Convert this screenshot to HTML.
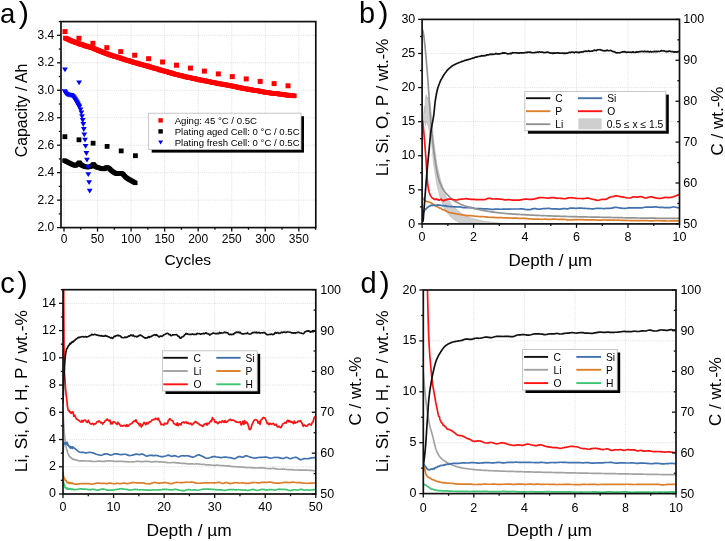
<!DOCTYPE html>
<html><head><meta charset="utf-8"><title>Figure</title>
<style>html,body{margin:0;padding:0;background:#fff;width:725px;height:541px;overflow:hidden}
svg{display:block;will-change:transform}</style></head>
<body>
<svg width="725" height="541" viewBox="0 0 725 541" font-family='"Liberation Sans", sans-serif'>
<rect width="725" height="541" fill="#fff"/>
<defs>
<clipPath id="ca"><rect x="61" y="21.6" width="254.8" height="206"/></clipPath>
</defs>
<line x1="64" y1="21.6" x2="64" y2="227.6" stroke="#d9d9d9" stroke-width="0.9" stroke-dasharray="1,1.2"/>
<line x1="97.55" y1="21.6" x2="97.55" y2="227.6" stroke="#d9d9d9" stroke-width="0.9" stroke-dasharray="1,1.2"/>
<line x1="131.09" y1="21.6" x2="131.09" y2="227.6" stroke="#d9d9d9" stroke-width="0.9" stroke-dasharray="1,1.2"/>
<line x1="164.64" y1="21.6" x2="164.64" y2="227.6" stroke="#d9d9d9" stroke-width="0.9" stroke-dasharray="1,1.2"/>
<line x1="198.19" y1="21.6" x2="198.19" y2="227.6" stroke="#d9d9d9" stroke-width="0.9" stroke-dasharray="1,1.2"/>
<line x1="231.73" y1="21.6" x2="231.73" y2="227.6" stroke="#d9d9d9" stroke-width="0.9" stroke-dasharray="1,1.2"/>
<line x1="265.28" y1="21.6" x2="265.28" y2="227.6" stroke="#d9d9d9" stroke-width="0.9" stroke-dasharray="1,1.2"/>
<line x1="298.83" y1="21.6" x2="298.83" y2="227.6" stroke="#d9d9d9" stroke-width="0.9" stroke-dasharray="1,1.2"/>
<line x1="61" y1="200.13" x2="315.8" y2="200.13" stroke="#d9d9d9" stroke-width="0.9" stroke-dasharray="1,1.2"/>
<line x1="61" y1="172.67" x2="315.8" y2="172.67" stroke="#d9d9d9" stroke-width="0.9" stroke-dasharray="1,1.2"/>
<line x1="61" y1="145.2" x2="315.8" y2="145.2" stroke="#d9d9d9" stroke-width="0.9" stroke-dasharray="1,1.2"/>
<line x1="61" y1="117.73" x2="315.8" y2="117.73" stroke="#d9d9d9" stroke-width="0.9" stroke-dasharray="1,1.2"/>
<line x1="61" y1="90.27" x2="315.8" y2="90.27" stroke="#d9d9d9" stroke-width="0.9" stroke-dasharray="1,1.2"/>
<line x1="61" y1="62.8" x2="315.8" y2="62.8" stroke="#d9d9d9" stroke-width="0.9" stroke-dasharray="1,1.2"/>
<line x1="61" y1="35.33" x2="315.8" y2="35.33" stroke="#d9d9d9" stroke-width="0.9" stroke-dasharray="1,1.2"/>
<rect x="63.1" y="35.85" width="4.4" height="4.4" fill="#ff0000"/>
<rect x="63.77" y="36.25" width="4.4" height="4.4" fill="#ff0000"/>
<rect x="64.44" y="36.51" width="4.4" height="4.4" fill="#ff0000"/>
<rect x="65.11" y="36.58" width="4.4" height="4.4" fill="#ff0000"/>
<rect x="65.78" y="37.23" width="4.4" height="4.4" fill="#ff0000"/>
<rect x="66.45" y="37.47" width="4.4" height="4.4" fill="#ff0000"/>
<rect x="67.12" y="37.63" width="4.4" height="4.4" fill="#ff0000"/>
<rect x="67.79" y="38.1" width="4.4" height="4.4" fill="#ff0000"/>
<rect x="68.46" y="38.36" width="4.4" height="4.4" fill="#ff0000"/>
<rect x="69.13" y="38.63" width="4.4" height="4.4" fill="#ff0000"/>
<rect x="69.8" y="38.87" width="4.4" height="4.4" fill="#ff0000"/>
<rect x="70.47" y="39.22" width="4.4" height="4.4" fill="#ff0000"/>
<rect x="71.14" y="39.29" width="4.4" height="4.4" fill="#ff0000"/>
<rect x="71.81" y="39.64" width="4.4" height="4.4" fill="#ff0000"/>
<rect x="72.48" y="39.85" width="4.4" height="4.4" fill="#ff0000"/>
<rect x="73.15" y="40.26" width="4.4" height="4.4" fill="#ff0000"/>
<rect x="73.82" y="40.43" width="4.4" height="4.4" fill="#ff0000"/>
<rect x="74.49" y="40.62" width="4.4" height="4.4" fill="#ff0000"/>
<rect x="75.16" y="40.79" width="4.4" height="4.4" fill="#ff0000"/>
<rect x="75.83" y="41.11" width="4.4" height="4.4" fill="#ff0000"/>
<rect x="76.5" y="41.39" width="4.4" height="4.4" fill="#ff0000"/>
<rect x="77.17" y="41.58" width="4.4" height="4.4" fill="#ff0000"/>
<rect x="77.84" y="42.05" width="4.4" height="4.4" fill="#ff0000"/>
<rect x="78.51" y="42.24" width="4.4" height="4.4" fill="#ff0000"/>
<rect x="79.18" y="41.9" width="4.4" height="4.4" fill="#ff0000"/>
<rect x="79.85" y="42.24" width="4.4" height="4.4" fill="#ff0000"/>
<rect x="80.52" y="42.72" width="4.4" height="4.4" fill="#ff0000"/>
<rect x="81.19" y="42.89" width="4.4" height="4.4" fill="#ff0000"/>
<rect x="81.86" y="43.2" width="4.4" height="4.4" fill="#ff0000"/>
<rect x="82.53" y="43.41" width="4.4" height="4.4" fill="#ff0000"/>
<rect x="83.2" y="43.9" width="4.4" height="4.4" fill="#ff0000"/>
<rect x="83.87" y="43.63" width="4.4" height="4.4" fill="#ff0000"/>
<rect x="84.54" y="43.95" width="4.4" height="4.4" fill="#ff0000"/>
<rect x="85.21" y="44.52" width="4.4" height="4.4" fill="#ff0000"/>
<rect x="85.88" y="44.52" width="4.4" height="4.4" fill="#ff0000"/>
<rect x="86.55" y="44.74" width="4.4" height="4.4" fill="#ff0000"/>
<rect x="87.22" y="44.78" width="4.4" height="4.4" fill="#ff0000"/>
<rect x="87.89" y="44.82" width="4.4" height="4.4" fill="#ff0000"/>
<rect x="88.56" y="45.32" width="4.4" height="4.4" fill="#ff0000"/>
<rect x="89.23" y="45.54" width="4.4" height="4.4" fill="#ff0000"/>
<rect x="89.9" y="45.57" width="4.4" height="4.4" fill="#ff0000"/>
<rect x="90.57" y="45.89" width="4.4" height="4.4" fill="#ff0000"/>
<rect x="91.24" y="46.22" width="4.4" height="4.4" fill="#ff0000"/>
<rect x="91.91" y="46.34" width="4.4" height="4.4" fill="#ff0000"/>
<rect x="92.58" y="46.73" width="4.4" height="4.4" fill="#ff0000"/>
<rect x="93.25" y="47.02" width="4.4" height="4.4" fill="#ff0000"/>
<rect x="93.92" y="47.28" width="4.4" height="4.4" fill="#ff0000"/>
<rect x="94.59" y="47.47" width="4.4" height="4.4" fill="#ff0000"/>
<rect x="95.26" y="47.91" width="4.4" height="4.4" fill="#ff0000"/>
<rect x="95.93" y="48.23" width="4.4" height="4.4" fill="#ff0000"/>
<rect x="96.6" y="48.43" width="4.4" height="4.4" fill="#ff0000"/>
<rect x="97.27" y="48.54" width="4.4" height="4.4" fill="#ff0000"/>
<rect x="97.94" y="49.06" width="4.4" height="4.4" fill="#ff0000"/>
<rect x="98.61" y="49.15" width="4.4" height="4.4" fill="#ff0000"/>
<rect x="99.28" y="49.64" width="4.4" height="4.4" fill="#ff0000"/>
<rect x="99.95" y="49.63" width="4.4" height="4.4" fill="#ff0000"/>
<rect x="100.62" y="50.2" width="4.4" height="4.4" fill="#ff0000"/>
<rect x="101.29" y="50.34" width="4.4" height="4.4" fill="#ff0000"/>
<rect x="101.96" y="50.42" width="4.4" height="4.4" fill="#ff0000"/>
<rect x="102.63" y="50.83" width="4.4" height="4.4" fill="#ff0000"/>
<rect x="103.3" y="51.14" width="4.4" height="4.4" fill="#ff0000"/>
<rect x="103.97" y="51.43" width="4.4" height="4.4" fill="#ff0000"/>
<rect x="104.64" y="51.49" width="4.4" height="4.4" fill="#ff0000"/>
<rect x="105.31" y="51.71" width="4.4" height="4.4" fill="#ff0000"/>
<rect x="105.98" y="52.14" width="4.4" height="4.4" fill="#ff0000"/>
<rect x="106.65" y="52.27" width="4.4" height="4.4" fill="#ff0000"/>
<rect x="107.32" y="52.6" width="4.4" height="4.4" fill="#ff0000"/>
<rect x="107.99" y="52.9" width="4.4" height="4.4" fill="#ff0000"/>
<rect x="108.66" y="52.76" width="4.4" height="4.4" fill="#ff0000"/>
<rect x="109.33" y="53.26" width="4.4" height="4.4" fill="#ff0000"/>
<rect x="110" y="53.62" width="4.4" height="4.4" fill="#ff0000"/>
<rect x="110.67" y="53.6" width="4.4" height="4.4" fill="#ff0000"/>
<rect x="111.34" y="53.74" width="4.4" height="4.4" fill="#ff0000"/>
<rect x="112.01" y="54.18" width="4.4" height="4.4" fill="#ff0000"/>
<rect x="112.68" y="54.31" width="4.4" height="4.4" fill="#ff0000"/>
<rect x="113.35" y="54.62" width="4.4" height="4.4" fill="#ff0000"/>
<rect x="114.02" y="54.64" width="4.4" height="4.4" fill="#ff0000"/>
<rect x="114.69" y="54.67" width="4.4" height="4.4" fill="#ff0000"/>
<rect x="115.36" y="55.08" width="4.4" height="4.4" fill="#ff0000"/>
<rect x="116.03" y="55.24" width="4.4" height="4.4" fill="#ff0000"/>
<rect x="116.7" y="55.63" width="4.4" height="4.4" fill="#ff0000"/>
<rect x="117.37" y="55.75" width="4.4" height="4.4" fill="#ff0000"/>
<rect x="118.04" y="55.68" width="4.4" height="4.4" fill="#ff0000"/>
<rect x="118.71" y="55.96" width="4.4" height="4.4" fill="#ff0000"/>
<rect x="119.38" y="56.48" width="4.4" height="4.4" fill="#ff0000"/>
<rect x="120.05" y="56.66" width="4.4" height="4.4" fill="#ff0000"/>
<rect x="120.72" y="56.67" width="4.4" height="4.4" fill="#ff0000"/>
<rect x="121.39" y="56.97" width="4.4" height="4.4" fill="#ff0000"/>
<rect x="122.06" y="57.25" width="4.4" height="4.4" fill="#ff0000"/>
<rect x="122.73" y="57.46" width="4.4" height="4.4" fill="#ff0000"/>
<rect x="123.4" y="57.74" width="4.4" height="4.4" fill="#ff0000"/>
<rect x="124.07" y="57.85" width="4.4" height="4.4" fill="#ff0000"/>
<rect x="124.74" y="58.01" width="4.4" height="4.4" fill="#ff0000"/>
<rect x="125.41" y="58.19" width="4.4" height="4.4" fill="#ff0000"/>
<rect x="126.08" y="58.6" width="4.4" height="4.4" fill="#ff0000"/>
<rect x="126.75" y="58.31" width="4.4" height="4.4" fill="#ff0000"/>
<rect x="127.42" y="58.83" width="4.4" height="4.4" fill="#ff0000"/>
<rect x="128.09" y="59.06" width="4.4" height="4.4" fill="#ff0000"/>
<rect x="128.76" y="59.05" width="4.4" height="4.4" fill="#ff0000"/>
<rect x="129.43" y="59.52" width="4.4" height="4.4" fill="#ff0000"/>
<rect x="130.1" y="59.57" width="4.4" height="4.4" fill="#ff0000"/>
<rect x="130.77" y="60" width="4.4" height="4.4" fill="#ff0000"/>
<rect x="131.44" y="60.06" width="4.4" height="4.4" fill="#ff0000"/>
<rect x="132.11" y="60.38" width="4.4" height="4.4" fill="#ff0000"/>
<rect x="132.78" y="60.66" width="4.4" height="4.4" fill="#ff0000"/>
<rect x="133.45" y="60.73" width="4.4" height="4.4" fill="#ff0000"/>
<rect x="134.12" y="60.74" width="4.4" height="4.4" fill="#ff0000"/>
<rect x="134.79" y="60.84" width="4.4" height="4.4" fill="#ff0000"/>
<rect x="135.46" y="61.52" width="4.4" height="4.4" fill="#ff0000"/>
<rect x="136.13" y="61.43" width="4.4" height="4.4" fill="#ff0000"/>
<rect x="136.8" y="61.54" width="4.4" height="4.4" fill="#ff0000"/>
<rect x="137.47" y="61.85" width="4.4" height="4.4" fill="#ff0000"/>
<rect x="138.14" y="61.99" width="4.4" height="4.4" fill="#ff0000"/>
<rect x="138.81" y="62.34" width="4.4" height="4.4" fill="#ff0000"/>
<rect x="139.48" y="62.4" width="4.4" height="4.4" fill="#ff0000"/>
<rect x="140.15" y="62.59" width="4.4" height="4.4" fill="#ff0000"/>
<rect x="140.82" y="62.67" width="4.4" height="4.4" fill="#ff0000"/>
<rect x="141.49" y="63.03" width="4.4" height="4.4" fill="#ff0000"/>
<rect x="142.16" y="62.99" width="4.4" height="4.4" fill="#ff0000"/>
<rect x="142.83" y="63.44" width="4.4" height="4.4" fill="#ff0000"/>
<rect x="143.5" y="63.75" width="4.4" height="4.4" fill="#ff0000"/>
<rect x="144.17" y="63.48" width="4.4" height="4.4" fill="#ff0000"/>
<rect x="144.84" y="63.53" width="4.4" height="4.4" fill="#ff0000"/>
<rect x="145.51" y="64.18" width="4.4" height="4.4" fill="#ff0000"/>
<rect x="146.18" y="64.66" width="4.4" height="4.4" fill="#ff0000"/>
<rect x="146.85" y="64.32" width="4.4" height="4.4" fill="#ff0000"/>
<rect x="147.52" y="64.48" width="4.4" height="4.4" fill="#ff0000"/>
<rect x="148.19" y="64.94" width="4.4" height="4.4" fill="#ff0000"/>
<rect x="148.86" y="64.92" width="4.4" height="4.4" fill="#ff0000"/>
<rect x="149.53" y="65.17" width="4.4" height="4.4" fill="#ff0000"/>
<rect x="150.2" y="65.38" width="4.4" height="4.4" fill="#ff0000"/>
<rect x="150.87" y="65.71" width="4.4" height="4.4" fill="#ff0000"/>
<rect x="151.54" y="65.76" width="4.4" height="4.4" fill="#ff0000"/>
<rect x="152.21" y="66.06" width="4.4" height="4.4" fill="#ff0000"/>
<rect x="152.88" y="66.19" width="4.4" height="4.4" fill="#ff0000"/>
<rect x="153.55" y="66.28" width="4.4" height="4.4" fill="#ff0000"/>
<rect x="154.22" y="66.55" width="4.4" height="4.4" fill="#ff0000"/>
<rect x="154.89" y="66.65" width="4.4" height="4.4" fill="#ff0000"/>
<rect x="155.56" y="66.99" width="4.4" height="4.4" fill="#ff0000"/>
<rect x="156.23" y="67.02" width="4.4" height="4.4" fill="#ff0000"/>
<rect x="156.9" y="67.21" width="4.4" height="4.4" fill="#ff0000"/>
<rect x="157.57" y="67.79" width="4.4" height="4.4" fill="#ff0000"/>
<rect x="158.24" y="67.76" width="4.4" height="4.4" fill="#ff0000"/>
<rect x="158.91" y="67.95" width="4.4" height="4.4" fill="#ff0000"/>
<rect x="159.58" y="68.23" width="4.4" height="4.4" fill="#ff0000"/>
<rect x="160.25" y="68.28" width="4.4" height="4.4" fill="#ff0000"/>
<rect x="160.92" y="68.51" width="4.4" height="4.4" fill="#ff0000"/>
<rect x="161.59" y="68.8" width="4.4" height="4.4" fill="#ff0000"/>
<rect x="162.26" y="68.97" width="4.4" height="4.4" fill="#ff0000"/>
<rect x="162.93" y="68.95" width="4.4" height="4.4" fill="#ff0000"/>
<rect x="163.6" y="69.45" width="4.4" height="4.4" fill="#ff0000"/>
<rect x="164.27" y="69.43" width="4.4" height="4.4" fill="#ff0000"/>
<rect x="164.94" y="69.56" width="4.4" height="4.4" fill="#ff0000"/>
<rect x="165.61" y="69.78" width="4.4" height="4.4" fill="#ff0000"/>
<rect x="166.28" y="70.05" width="4.4" height="4.4" fill="#ff0000"/>
<rect x="166.95" y="70.55" width="4.4" height="4.4" fill="#ff0000"/>
<rect x="167.62" y="70.32" width="4.4" height="4.4" fill="#ff0000"/>
<rect x="168.29" y="70.72" width="4.4" height="4.4" fill="#ff0000"/>
<rect x="168.96" y="70.56" width="4.4" height="4.4" fill="#ff0000"/>
<rect x="169.63" y="71.07" width="4.4" height="4.4" fill="#ff0000"/>
<rect x="170.3" y="71.4" width="4.4" height="4.4" fill="#ff0000"/>
<rect x="170.97" y="71.41" width="4.4" height="4.4" fill="#ff0000"/>
<rect x="171.64" y="71.54" width="4.4" height="4.4" fill="#ff0000"/>
<rect x="172.31" y="71.85" width="4.4" height="4.4" fill="#ff0000"/>
<rect x="172.98" y="72.09" width="4.4" height="4.4" fill="#ff0000"/>
<rect x="173.65" y="72.26" width="4.4" height="4.4" fill="#ff0000"/>
<rect x="174.32" y="72.64" width="4.4" height="4.4" fill="#ff0000"/>
<rect x="174.99" y="72.54" width="4.4" height="4.4" fill="#ff0000"/>
<rect x="175.66" y="72.59" width="4.4" height="4.4" fill="#ff0000"/>
<rect x="176.33" y="72.83" width="4.4" height="4.4" fill="#ff0000"/>
<rect x="177" y="73.01" width="4.4" height="4.4" fill="#ff0000"/>
<rect x="177.67" y="73.21" width="4.4" height="4.4" fill="#ff0000"/>
<rect x="178.34" y="73.35" width="4.4" height="4.4" fill="#ff0000"/>
<rect x="179.01" y="73.55" width="4.4" height="4.4" fill="#ff0000"/>
<rect x="179.68" y="73.43" width="4.4" height="4.4" fill="#ff0000"/>
<rect x="180.35" y="73.97" width="4.4" height="4.4" fill="#ff0000"/>
<rect x="181.02" y="73.92" width="4.4" height="4.4" fill="#ff0000"/>
<rect x="181.69" y="73.99" width="4.4" height="4.4" fill="#ff0000"/>
<rect x="182.36" y="74.42" width="4.4" height="4.4" fill="#ff0000"/>
<rect x="183.03" y="74.68" width="4.4" height="4.4" fill="#ff0000"/>
<rect x="183.7" y="74.71" width="4.4" height="4.4" fill="#ff0000"/>
<rect x="184.37" y="74.82" width="4.4" height="4.4" fill="#ff0000"/>
<rect x="185.04" y="74.81" width="4.4" height="4.4" fill="#ff0000"/>
<rect x="185.71" y="75.53" width="4.4" height="4.4" fill="#ff0000"/>
<rect x="186.38" y="75.38" width="4.4" height="4.4" fill="#ff0000"/>
<rect x="187.05" y="75.23" width="4.4" height="4.4" fill="#ff0000"/>
<rect x="187.72" y="75.43" width="4.4" height="4.4" fill="#ff0000"/>
<rect x="188.39" y="75.71" width="4.4" height="4.4" fill="#ff0000"/>
<rect x="189.06" y="75.61" width="4.4" height="4.4" fill="#ff0000"/>
<rect x="189.73" y="76.01" width="4.4" height="4.4" fill="#ff0000"/>
<rect x="190.4" y="76.06" width="4.4" height="4.4" fill="#ff0000"/>
<rect x="191.07" y="76.45" width="4.4" height="4.4" fill="#ff0000"/>
<rect x="191.74" y="76.55" width="4.4" height="4.4" fill="#ff0000"/>
<rect x="192.41" y="76.14" width="4.4" height="4.4" fill="#ff0000"/>
<rect x="193.08" y="76.69" width="4.4" height="4.4" fill="#ff0000"/>
<rect x="193.75" y="76.57" width="4.4" height="4.4" fill="#ff0000"/>
<rect x="194.42" y="77.12" width="4.4" height="4.4" fill="#ff0000"/>
<rect x="195.09" y="77.11" width="4.4" height="4.4" fill="#ff0000"/>
<rect x="195.76" y="77.3" width="4.4" height="4.4" fill="#ff0000"/>
<rect x="196.43" y="77.19" width="4.4" height="4.4" fill="#ff0000"/>
<rect x="197.1" y="77.76" width="4.4" height="4.4" fill="#ff0000"/>
<rect x="197.77" y="77.93" width="4.4" height="4.4" fill="#ff0000"/>
<rect x="198.44" y="77.6" width="4.4" height="4.4" fill="#ff0000"/>
<rect x="199.11" y="77.95" width="4.4" height="4.4" fill="#ff0000"/>
<rect x="199.78" y="77.93" width="4.4" height="4.4" fill="#ff0000"/>
<rect x="200.45" y="78.16" width="4.4" height="4.4" fill="#ff0000"/>
<rect x="201.12" y="78.11" width="4.4" height="4.4" fill="#ff0000"/>
<rect x="201.79" y="78.72" width="4.4" height="4.4" fill="#ff0000"/>
<rect x="202.46" y="78.43" width="4.4" height="4.4" fill="#ff0000"/>
<rect x="203.13" y="78.67" width="4.4" height="4.4" fill="#ff0000"/>
<rect x="203.8" y="78.93" width="4.4" height="4.4" fill="#ff0000"/>
<rect x="204.47" y="78.9" width="4.4" height="4.4" fill="#ff0000"/>
<rect x="205.14" y="79.11" width="4.4" height="4.4" fill="#ff0000"/>
<rect x="205.81" y="79.2" width="4.4" height="4.4" fill="#ff0000"/>
<rect x="206.48" y="79.41" width="4.4" height="4.4" fill="#ff0000"/>
<rect x="207.15" y="79.39" width="4.4" height="4.4" fill="#ff0000"/>
<rect x="207.82" y="79.65" width="4.4" height="4.4" fill="#ff0000"/>
<rect x="208.49" y="79.82" width="4.4" height="4.4" fill="#ff0000"/>
<rect x="209.16" y="79.94" width="4.4" height="4.4" fill="#ff0000"/>
<rect x="209.83" y="80.14" width="4.4" height="4.4" fill="#ff0000"/>
<rect x="210.5" y="80.23" width="4.4" height="4.4" fill="#ff0000"/>
<rect x="211.17" y="80.53" width="4.4" height="4.4" fill="#ff0000"/>
<rect x="211.84" y="80.5" width="4.4" height="4.4" fill="#ff0000"/>
<rect x="212.51" y="80.67" width="4.4" height="4.4" fill="#ff0000"/>
<rect x="213.18" y="80.73" width="4.4" height="4.4" fill="#ff0000"/>
<rect x="213.85" y="80.88" width="4.4" height="4.4" fill="#ff0000"/>
<rect x="214.52" y="80.9" width="4.4" height="4.4" fill="#ff0000"/>
<rect x="215.19" y="81.3" width="4.4" height="4.4" fill="#ff0000"/>
<rect x="215.86" y="81.18" width="4.4" height="4.4" fill="#ff0000"/>
<rect x="216.53" y="81.36" width="4.4" height="4.4" fill="#ff0000"/>
<rect x="217.2" y="81.65" width="4.4" height="4.4" fill="#ff0000"/>
<rect x="217.87" y="81.78" width="4.4" height="4.4" fill="#ff0000"/>
<rect x="218.54" y="81.78" width="4.4" height="4.4" fill="#ff0000"/>
<rect x="219.21" y="81.65" width="4.4" height="4.4" fill="#ff0000"/>
<rect x="219.88" y="82.13" width="4.4" height="4.4" fill="#ff0000"/>
<rect x="220.55" y="82.22" width="4.4" height="4.4" fill="#ff0000"/>
<rect x="221.22" y="82.09" width="4.4" height="4.4" fill="#ff0000"/>
<rect x="221.89" y="82.53" width="4.4" height="4.4" fill="#ff0000"/>
<rect x="222.56" y="82.42" width="4.4" height="4.4" fill="#ff0000"/>
<rect x="223.23" y="82.47" width="4.4" height="4.4" fill="#ff0000"/>
<rect x="223.9" y="82.77" width="4.4" height="4.4" fill="#ff0000"/>
<rect x="224.57" y="82.84" width="4.4" height="4.4" fill="#ff0000"/>
<rect x="225.24" y="83.01" width="4.4" height="4.4" fill="#ff0000"/>
<rect x="225.91" y="82.86" width="4.4" height="4.4" fill="#ff0000"/>
<rect x="226.58" y="83.49" width="4.4" height="4.4" fill="#ff0000"/>
<rect x="227.25" y="83.25" width="4.4" height="4.4" fill="#ff0000"/>
<rect x="227.92" y="83.23" width="4.4" height="4.4" fill="#ff0000"/>
<rect x="228.59" y="83.68" width="4.4" height="4.4" fill="#ff0000"/>
<rect x="229.26" y="83.66" width="4.4" height="4.4" fill="#ff0000"/>
<rect x="229.93" y="83.89" width="4.4" height="4.4" fill="#ff0000"/>
<rect x="230.6" y="83.93" width="4.4" height="4.4" fill="#ff0000"/>
<rect x="231.27" y="84.12" width="4.4" height="4.4" fill="#ff0000"/>
<rect x="231.94" y="84.31" width="4.4" height="4.4" fill="#ff0000"/>
<rect x="232.61" y="84.31" width="4.4" height="4.4" fill="#ff0000"/>
<rect x="233.28" y="84.67" width="4.4" height="4.4" fill="#ff0000"/>
<rect x="233.95" y="84.66" width="4.4" height="4.4" fill="#ff0000"/>
<rect x="234.62" y="84.75" width="4.4" height="4.4" fill="#ff0000"/>
<rect x="235.29" y="85.05" width="4.4" height="4.4" fill="#ff0000"/>
<rect x="235.96" y="85.26" width="4.4" height="4.4" fill="#ff0000"/>
<rect x="236.63" y="85.31" width="4.4" height="4.4" fill="#ff0000"/>
<rect x="237.3" y="85.36" width="4.4" height="4.4" fill="#ff0000"/>
<rect x="237.97" y="85.73" width="4.4" height="4.4" fill="#ff0000"/>
<rect x="238.64" y="85.52" width="4.4" height="4.4" fill="#ff0000"/>
<rect x="239.31" y="85.77" width="4.4" height="4.4" fill="#ff0000"/>
<rect x="239.98" y="86.06" width="4.4" height="4.4" fill="#ff0000"/>
<rect x="240.65" y="85.98" width="4.4" height="4.4" fill="#ff0000"/>
<rect x="241.32" y="86.31" width="4.4" height="4.4" fill="#ff0000"/>
<rect x="241.99" y="86.42" width="4.4" height="4.4" fill="#ff0000"/>
<rect x="242.66" y="86.69" width="4.4" height="4.4" fill="#ff0000"/>
<rect x="243.33" y="86.53" width="4.4" height="4.4" fill="#ff0000"/>
<rect x="244" y="86.69" width="4.4" height="4.4" fill="#ff0000"/>
<rect x="244.67" y="86.95" width="4.4" height="4.4" fill="#ff0000"/>
<rect x="245.34" y="86.64" width="4.4" height="4.4" fill="#ff0000"/>
<rect x="246.01" y="87.59" width="4.4" height="4.4" fill="#ff0000"/>
<rect x="246.68" y="87.13" width="4.4" height="4.4" fill="#ff0000"/>
<rect x="247.35" y="87.23" width="4.4" height="4.4" fill="#ff0000"/>
<rect x="248.02" y="87.58" width="4.4" height="4.4" fill="#ff0000"/>
<rect x="248.69" y="87.55" width="4.4" height="4.4" fill="#ff0000"/>
<rect x="249.36" y="87.4" width="4.4" height="4.4" fill="#ff0000"/>
<rect x="250.03" y="87.87" width="4.4" height="4.4" fill="#ff0000"/>
<rect x="250.7" y="88.01" width="4.4" height="4.4" fill="#ff0000"/>
<rect x="251.37" y="87.93" width="4.4" height="4.4" fill="#ff0000"/>
<rect x="252.04" y="88.06" width="4.4" height="4.4" fill="#ff0000"/>
<rect x="252.71" y="88.29" width="4.4" height="4.4" fill="#ff0000"/>
<rect x="253.38" y="88.2" width="4.4" height="4.4" fill="#ff0000"/>
<rect x="254.05" y="88.51" width="4.4" height="4.4" fill="#ff0000"/>
<rect x="254.72" y="88.6" width="4.4" height="4.4" fill="#ff0000"/>
<rect x="255.39" y="88.58" width="4.4" height="4.4" fill="#ff0000"/>
<rect x="256.06" y="88.59" width="4.4" height="4.4" fill="#ff0000"/>
<rect x="256.73" y="88.89" width="4.4" height="4.4" fill="#ff0000"/>
<rect x="257.4" y="88.91" width="4.4" height="4.4" fill="#ff0000"/>
<rect x="258.07" y="89.31" width="4.4" height="4.4" fill="#ff0000"/>
<rect x="258.74" y="89.3" width="4.4" height="4.4" fill="#ff0000"/>
<rect x="259.41" y="89.51" width="4.4" height="4.4" fill="#ff0000"/>
<rect x="260.08" y="89.53" width="4.4" height="4.4" fill="#ff0000"/>
<rect x="260.75" y="89.66" width="4.4" height="4.4" fill="#ff0000"/>
<rect x="261.42" y="89.62" width="4.4" height="4.4" fill="#ff0000"/>
<rect x="262.09" y="89.95" width="4.4" height="4.4" fill="#ff0000"/>
<rect x="262.76" y="90.22" width="4.4" height="4.4" fill="#ff0000"/>
<rect x="263.43" y="90.02" width="4.4" height="4.4" fill="#ff0000"/>
<rect x="264.1" y="90.08" width="4.4" height="4.4" fill="#ff0000"/>
<rect x="264.77" y="90.24" width="4.4" height="4.4" fill="#ff0000"/>
<rect x="265.44" y="90.29" width="4.4" height="4.4" fill="#ff0000"/>
<rect x="266.11" y="90.35" width="4.4" height="4.4" fill="#ff0000"/>
<rect x="266.78" y="90.57" width="4.4" height="4.4" fill="#ff0000"/>
<rect x="267.45" y="90.6" width="4.4" height="4.4" fill="#ff0000"/>
<rect x="268.12" y="90.95" width="4.4" height="4.4" fill="#ff0000"/>
<rect x="268.79" y="90.82" width="4.4" height="4.4" fill="#ff0000"/>
<rect x="269.46" y="90.95" width="4.4" height="4.4" fill="#ff0000"/>
<rect x="270.13" y="91.13" width="4.4" height="4.4" fill="#ff0000"/>
<rect x="270.8" y="91.03" width="4.4" height="4.4" fill="#ff0000"/>
<rect x="271.47" y="91.37" width="4.4" height="4.4" fill="#ff0000"/>
<rect x="272.14" y="91.14" width="4.4" height="4.4" fill="#ff0000"/>
<rect x="272.81" y="91.2" width="4.4" height="4.4" fill="#ff0000"/>
<rect x="273.48" y="91.35" width="4.4" height="4.4" fill="#ff0000"/>
<rect x="274.15" y="91.47" width="4.4" height="4.4" fill="#ff0000"/>
<rect x="274.82" y="91.35" width="4.4" height="4.4" fill="#ff0000"/>
<rect x="275.49" y="91.64" width="4.4" height="4.4" fill="#ff0000"/>
<rect x="276.16" y="91.48" width="4.4" height="4.4" fill="#ff0000"/>
<rect x="276.83" y="92.02" width="4.4" height="4.4" fill="#ff0000"/>
<rect x="277.5" y="91.89" width="4.4" height="4.4" fill="#ff0000"/>
<rect x="278.17" y="91.89" width="4.4" height="4.4" fill="#ff0000"/>
<rect x="278.84" y="91.94" width="4.4" height="4.4" fill="#ff0000"/>
<rect x="279.51" y="92.1" width="4.4" height="4.4" fill="#ff0000"/>
<rect x="280.18" y="92.21" width="4.4" height="4.4" fill="#ff0000"/>
<rect x="280.85" y="92.17" width="4.4" height="4.4" fill="#ff0000"/>
<rect x="281.52" y="92.28" width="4.4" height="4.4" fill="#ff0000"/>
<rect x="282.19" y="92.47" width="4.4" height="4.4" fill="#ff0000"/>
<rect x="282.86" y="92.51" width="4.4" height="4.4" fill="#ff0000"/>
<rect x="283.53" y="92.81" width="4.4" height="4.4" fill="#ff0000"/>
<rect x="284.2" y="92.93" width="4.4" height="4.4" fill="#ff0000"/>
<rect x="284.87" y="92.85" width="4.4" height="4.4" fill="#ff0000"/>
<rect x="285.54" y="93" width="4.4" height="4.4" fill="#ff0000"/>
<rect x="286.21" y="92.82" width="4.4" height="4.4" fill="#ff0000"/>
<rect x="286.88" y="93.2" width="4.4" height="4.4" fill="#ff0000"/>
<rect x="287.55" y="93.18" width="4.4" height="4.4" fill="#ff0000"/>
<rect x="288.22" y="93.35" width="4.4" height="4.4" fill="#ff0000"/>
<rect x="288.89" y="93.6" width="4.4" height="4.4" fill="#ff0000"/>
<rect x="289.56" y="93.11" width="4.4" height="4.4" fill="#ff0000"/>
<rect x="290.23" y="93.57" width="4.4" height="4.4" fill="#ff0000"/>
<rect x="290.9" y="93.46" width="4.4" height="4.4" fill="#ff0000"/>
<rect x="291.57" y="93.79" width="4.4" height="4.4" fill="#ff0000"/>
<rect x="292.24" y="93.6" width="4.4" height="4.4" fill="#ff0000"/>
<rect x="62.5" y="29.1" width="5" height="5" fill="#ff0000"/>
<rect x="76.44" y="35.8" width="5" height="5" fill="#ff0000"/>
<rect x="90.38" y="40.8" width="5" height="5" fill="#ff0000"/>
<rect x="104.32" y="45.2" width="5" height="5" fill="#ff0000"/>
<rect x="118.26" y="49.1" width="5" height="5" fill="#ff0000"/>
<rect x="132.2" y="52.7" width="5" height="5" fill="#ff0000"/>
<rect x="146.14" y="56.2" width="5" height="5" fill="#ff0000"/>
<rect x="160.08" y="59.5" width="5" height="5" fill="#ff0000"/>
<rect x="174.02" y="62.7" width="5" height="5" fill="#ff0000"/>
<rect x="187.96" y="65.6" width="5" height="5" fill="#ff0000"/>
<rect x="201.9" y="68.6" width="5" height="5" fill="#ff0000"/>
<rect x="215.84" y="71.4" width="5" height="5" fill="#ff0000"/>
<rect x="229.78" y="74.1" width="5" height="5" fill="#ff0000"/>
<rect x="243.72" y="76.4" width="5" height="5" fill="#ff0000"/>
<rect x="257.66" y="78.9" width="5" height="5" fill="#ff0000"/>
<rect x="271.6" y="81.1" width="5" height="5" fill="#ff0000"/>
<rect x="285.54" y="83.3" width="5" height="5" fill="#ff0000"/>
<rect x="62.3" y="158.4" width="4.2" height="4.2" fill="#000"/>
<rect x="62.97" y="158.74" width="4.2" height="4.2" fill="#000"/>
<rect x="63.64" y="159.07" width="4.2" height="4.2" fill="#000"/>
<rect x="64.31" y="159.41" width="4.2" height="4.2" fill="#000"/>
<rect x="64.98" y="159.74" width="4.2" height="4.2" fill="#000"/>
<rect x="65.65" y="160.09" width="4.2" height="4.2" fill="#000"/>
<rect x="66.32" y="160.44" width="4.2" height="4.2" fill="#000"/>
<rect x="66.99" y="160.79" width="4.2" height="4.2" fill="#000"/>
<rect x="67.66" y="161.13" width="4.2" height="4.2" fill="#000"/>
<rect x="68.33" y="161.45" width="4.2" height="4.2" fill="#000"/>
<rect x="69" y="161.74" width="4.2" height="4.2" fill="#000"/>
<rect x="69.67" y="162.05" width="4.2" height="4.2" fill="#000"/>
<rect x="70.34" y="162.38" width="4.2" height="4.2" fill="#000"/>
<rect x="71.01" y="162.69" width="4.2" height="4.2" fill="#000"/>
<rect x="71.68" y="162.97" width="4.2" height="4.2" fill="#000"/>
<rect x="72.35" y="163.18" width="4.2" height="4.2" fill="#000"/>
<rect x="73.02" y="163.29" width="4.2" height="4.2" fill="#000"/>
<rect x="73.69" y="163.24" width="4.2" height="4.2" fill="#000"/>
<rect x="74.36" y="162.95" width="4.2" height="4.2" fill="#000"/>
<rect x="75.03" y="162.54" width="4.2" height="4.2" fill="#000"/>
<rect x="75.7" y="161.95" width="4.2" height="4.2" fill="#000"/>
<rect x="76.37" y="161.14" width="4.2" height="4.2" fill="#000"/>
<rect x="77.04" y="160.56" width="4.2" height="4.2" fill="#000"/>
<rect x="77.71" y="160.76" width="4.2" height="4.2" fill="#000"/>
<rect x="78.38" y="161.79" width="4.2" height="4.2" fill="#000"/>
<rect x="79.05" y="162.63" width="4.2" height="4.2" fill="#000"/>
<rect x="79.72" y="163.14" width="4.2" height="4.2" fill="#000"/>
<rect x="80.39" y="163.48" width="4.2" height="4.2" fill="#000"/>
<rect x="81.06" y="163.79" width="4.2" height="4.2" fill="#000"/>
<rect x="81.73" y="164.09" width="4.2" height="4.2" fill="#000"/>
<rect x="82.4" y="164.35" width="4.2" height="4.2" fill="#000"/>
<rect x="83.07" y="164.58" width="4.2" height="4.2" fill="#000"/>
<rect x="83.74" y="164.77" width="4.2" height="4.2" fill="#000"/>
<rect x="84.41" y="164.91" width="4.2" height="4.2" fill="#000"/>
<rect x="85.08" y="164.99" width="4.2" height="4.2" fill="#000"/>
<rect x="85.75" y="165" width="4.2" height="4.2" fill="#000"/>
<rect x="86.42" y="164.94" width="4.2" height="4.2" fill="#000"/>
<rect x="87.09" y="164.83" width="4.2" height="4.2" fill="#000"/>
<rect x="87.76" y="164.67" width="4.2" height="4.2" fill="#000"/>
<rect x="88.43" y="164.46" width="4.2" height="4.2" fill="#000"/>
<rect x="89.1" y="164.22" width="4.2" height="4.2" fill="#000"/>
<rect x="89.77" y="163.81" width="4.2" height="4.2" fill="#000"/>
<rect x="90.44" y="162.93" width="4.2" height="4.2" fill="#000"/>
<rect x="91.11" y="162.25" width="4.2" height="4.2" fill="#000"/>
<rect x="91.78" y="162.46" width="4.2" height="4.2" fill="#000"/>
<rect x="92.45" y="163.36" width="4.2" height="4.2" fill="#000"/>
<rect x="93.12" y="164.27" width="4.2" height="4.2" fill="#000"/>
<rect x="93.79" y="164.7" width="4.2" height="4.2" fill="#000"/>
<rect x="94.46" y="164.98" width="4.2" height="4.2" fill="#000"/>
<rect x="95.13" y="165.21" width="4.2" height="4.2" fill="#000"/>
<rect x="95.8" y="165.4" width="4.2" height="4.2" fill="#000"/>
<rect x="96.47" y="165.59" width="4.2" height="4.2" fill="#000"/>
<rect x="97.14" y="165.79" width="4.2" height="4.2" fill="#000"/>
<rect x="97.81" y="166.01" width="4.2" height="4.2" fill="#000"/>
<rect x="98.48" y="166.22" width="4.2" height="4.2" fill="#000"/>
<rect x="99.15" y="166.42" width="4.2" height="4.2" fill="#000"/>
<rect x="99.82" y="166.6" width="4.2" height="4.2" fill="#000"/>
<rect x="100.49" y="166.75" width="4.2" height="4.2" fill="#000"/>
<rect x="101.16" y="166.85" width="4.2" height="4.2" fill="#000"/>
<rect x="101.83" y="166.9" width="4.2" height="4.2" fill="#000"/>
<rect x="102.5" y="166.73" width="4.2" height="4.2" fill="#000"/>
<rect x="103.17" y="166.18" width="4.2" height="4.2" fill="#000"/>
<rect x="103.84" y="165.61" width="4.2" height="4.2" fill="#000"/>
<rect x="104.51" y="165.4" width="4.2" height="4.2" fill="#000"/>
<rect x="105.18" y="165.48" width="4.2" height="4.2" fill="#000"/>
<rect x="105.85" y="165.63" width="4.2" height="4.2" fill="#000"/>
<rect x="106.52" y="165.88" width="4.2" height="4.2" fill="#000"/>
<rect x="107.19" y="166.37" width="4.2" height="4.2" fill="#000"/>
<rect x="107.86" y="167.03" width="4.2" height="4.2" fill="#000"/>
<rect x="108.53" y="167.76" width="4.2" height="4.2" fill="#000"/>
<rect x="109.2" y="168.43" width="4.2" height="4.2" fill="#000"/>
<rect x="109.87" y="168.94" width="4.2" height="4.2" fill="#000"/>
<rect x="110.54" y="169.39" width="4.2" height="4.2" fill="#000"/>
<rect x="111.21" y="169.84" width="4.2" height="4.2" fill="#000"/>
<rect x="111.88" y="170.28" width="4.2" height="4.2" fill="#000"/>
<rect x="112.55" y="170.69" width="4.2" height="4.2" fill="#000"/>
<rect x="113.22" y="171.05" width="4.2" height="4.2" fill="#000"/>
<rect x="113.89" y="171.33" width="4.2" height="4.2" fill="#000"/>
<rect x="114.56" y="171.52" width="4.2" height="4.2" fill="#000"/>
<rect x="115.23" y="171.6" width="4.2" height="4.2" fill="#000"/>
<rect x="115.9" y="171.52" width="4.2" height="4.2" fill="#000"/>
<rect x="116.57" y="171.33" width="4.2" height="4.2" fill="#000"/>
<rect x="117.24" y="171.15" width="4.2" height="4.2" fill="#000"/>
<rect x="117.91" y="171.1" width="4.2" height="4.2" fill="#000"/>
<rect x="118.58" y="171.17" width="4.2" height="4.2" fill="#000"/>
<rect x="119.25" y="171.3" width="4.2" height="4.2" fill="#000"/>
<rect x="119.92" y="171.47" width="4.2" height="4.2" fill="#000"/>
<rect x="120.59" y="171.86" width="4.2" height="4.2" fill="#000"/>
<rect x="121.26" y="172.47" width="4.2" height="4.2" fill="#000"/>
<rect x="121.93" y="173.21" width="4.2" height="4.2" fill="#000"/>
<rect x="122.6" y="174" width="4.2" height="4.2" fill="#000"/>
<rect x="123.27" y="174.75" width="4.2" height="4.2" fill="#000"/>
<rect x="123.94" y="175.38" width="4.2" height="4.2" fill="#000"/>
<rect x="124.61" y="175.86" width="4.2" height="4.2" fill="#000"/>
<rect x="125.28" y="176.31" width="4.2" height="4.2" fill="#000"/>
<rect x="125.95" y="176.73" width="4.2" height="4.2" fill="#000"/>
<rect x="126.62" y="177.12" width="4.2" height="4.2" fill="#000"/>
<rect x="127.29" y="177.51" width="4.2" height="4.2" fill="#000"/>
<rect x="127.96" y="177.88" width="4.2" height="4.2" fill="#000"/>
<rect x="128.63" y="178.25" width="4.2" height="4.2" fill="#000"/>
<rect x="129.3" y="178.63" width="4.2" height="4.2" fill="#000"/>
<rect x="129.97" y="179.01" width="4.2" height="4.2" fill="#000"/>
<rect x="130.64" y="179.4" width="4.2" height="4.2" fill="#000"/>
<rect x="131.31" y="179.78" width="4.2" height="4.2" fill="#000"/>
<rect x="131.98" y="180.16" width="4.2" height="4.2" fill="#000"/>
<rect x="132.65" y="180.53" width="4.2" height="4.2" fill="#000"/>
<rect x="133.32" y="180.9" width="4.2" height="4.2" fill="#000"/>
<rect x="62.5" y="134.3" width="4.8" height="4.8" fill="#000"/>
<rect x="76.6" y="137.4" width="4.8" height="4.8" fill="#000"/>
<rect x="90.7" y="140.8" width="4.8" height="4.8" fill="#000"/>
<rect x="104.7" y="144" width="4.8" height="4.8" fill="#000"/>
<rect x="118.8" y="148.5" width="4.8" height="4.8" fill="#000"/>
<rect x="133" y="153.3" width="4.8" height="4.8" fill="#000"/>
<polygon points="61.7,89.2 67.5,89.2 64.6,94" fill="#0000ff"/>
<polygon points="62.36,90.2 68.16,90.2 65.26,95" fill="#0000ff"/>
<polygon points="63.01,91.21 68.81,91.21 65.91,96.01" fill="#0000ff"/>
<polygon points="63.84,92.02 69.64,92.02 66.74,96.82" fill="#0000ff"/>
<polygon points="64.92,92.56 70.72,92.56 67.82,97.36" fill="#0000ff"/>
<polygon points="66.06,92.85 71.86,92.85 68.96,97.65" fill="#0000ff"/>
<polygon points="67.26,92.93 73.06,92.93 70.16,97.73" fill="#0000ff"/>
<polygon points="68.42,93.09 74.22,93.09 71.32,97.89" fill="#0000ff"/>
<polygon points="69.39,93.81 75.19,93.81 72.29,98.61" fill="#0000ff"/>
<polygon points="70.36,94.52 76.16,94.52 73.26,99.32" fill="#0000ff"/>
<polygon points="71.08,95.46 76.88,95.46 73.98,100.26" fill="#0000ff"/>
<polygon points="71.72,96.48 77.52,96.48 74.62,101.28" fill="#0000ff"/>
<polygon points="72.36,97.49 78.16,97.49 75.26,102.29" fill="#0000ff"/>
<polygon points="72.99,98.51 78.79,98.51 75.89,103.31" fill="#0000ff"/>
<polygon points="73.6,99.55 79.4,99.55 76.5,104.35" fill="#0000ff"/>
<polygon points="74.21,100.58 80.01,100.58 77.11,105.38" fill="#0000ff"/>
<polygon points="74.83,101.61 80.63,101.61 77.73,106.41" fill="#0000ff"/>
<polygon points="75.4,102.67 81.2,102.67 78.3,107.47" fill="#0000ff"/>
<polygon points="75.95,103.73 81.75,103.73 78.85,108.53" fill="#0000ff"/>
<polygon points="76.5,104.8 82.3,104.8 79.4,109.6" fill="#0000ff"/>
<polygon points="77.6,107.5 83.4,107.5 80.5,112.3" fill="#0000ff"/>
<polygon points="78.5,110.5 84.3,110.5 81.4,115.3" fill="#0000ff"/>
<polygon points="79.1,114.2 84.9,114.2 82,119" fill="#0000ff"/>
<polygon points="79.8,118.1 85.6,118.1 82.7,122.9" fill="#0000ff"/>
<polygon points="80.4,122.1 86.2,122.1 83.3,126.9" fill="#0000ff"/>
<polygon points="80.9,127.1 86.7,127.1 83.8,131.9" fill="#0000ff"/>
<polygon points="81.4,132.4 87.2,132.4 84.3,137.2" fill="#0000ff"/>
<polygon points="82.1,137.8 87.9,137.8 85,142.6" fill="#0000ff"/>
<polygon points="82.7,144 88.5,144 85.6,148.8" fill="#0000ff"/>
<polygon points="83.5,151.1 89.3,151.1 86.4,155.9" fill="#0000ff"/>
<polygon points="84.1,157.8 89.9,157.8 87,162.6" fill="#0000ff"/>
<polygon points="85.1,164.7 90.9,164.7 88,169.5" fill="#0000ff"/>
<polygon points="85.4,172.3 91.2,172.3 88.3,177.1" fill="#0000ff"/>
<polygon points="86.2,180.3 92,180.3 89.1,185.1" fill="#0000ff"/>
<polygon points="86.8,188.8 92.6,188.8 89.7,193.6" fill="#0000ff"/>
<polygon points="62.1,67.4 67.9,67.4 65,72.2" fill="#0000ff"/>
<polygon points="76.2,80.4 82,80.4 79.1,85.2" fill="#0000ff"/>
<rect x="61" y="21.6" width="254.8" height="206" fill="none" stroke="#111" stroke-width="1.7"/>
<line x1="64" y1="227.6" x2="64" y2="231.6" stroke="#111" stroke-width="1.3"/>
<line x1="97.55" y1="227.6" x2="97.55" y2="231.6" stroke="#111" stroke-width="1.3"/>
<line x1="131.09" y1="227.6" x2="131.09" y2="231.6" stroke="#111" stroke-width="1.3"/>
<line x1="164.64" y1="227.6" x2="164.64" y2="231.6" stroke="#111" stroke-width="1.3"/>
<line x1="198.19" y1="227.6" x2="198.19" y2="231.6" stroke="#111" stroke-width="1.3"/>
<line x1="231.73" y1="227.6" x2="231.73" y2="231.6" stroke="#111" stroke-width="1.3"/>
<line x1="265.28" y1="227.6" x2="265.28" y2="231.6" stroke="#111" stroke-width="1.3"/>
<line x1="298.83" y1="227.6" x2="298.83" y2="231.6" stroke="#111" stroke-width="1.3"/>
<line x1="80.77" y1="227.6" x2="80.77" y2="229.8" stroke="#111" stroke-width="1.3"/>
<line x1="114.32" y1="227.6" x2="114.32" y2="229.8" stroke="#111" stroke-width="1.3"/>
<line x1="147.87" y1="227.6" x2="147.87" y2="229.8" stroke="#111" stroke-width="1.3"/>
<line x1="181.41" y1="227.6" x2="181.41" y2="229.8" stroke="#111" stroke-width="1.3"/>
<line x1="214.96" y1="227.6" x2="214.96" y2="229.8" stroke="#111" stroke-width="1.3"/>
<line x1="248.51" y1="227.6" x2="248.51" y2="229.8" stroke="#111" stroke-width="1.3"/>
<line x1="282.05" y1="227.6" x2="282.05" y2="229.8" stroke="#111" stroke-width="1.3"/>
<line x1="315.6" y1="227.6" x2="315.6" y2="229.8" stroke="#111" stroke-width="1.3"/>
<text x="64" y="243.4" font-size="12" text-anchor="middle" fill="#000">0</text>
<text x="97.55" y="243.4" font-size="12" text-anchor="middle" fill="#000">50</text>
<text x="131.09" y="243.4" font-size="12" text-anchor="middle" fill="#000">100</text>
<text x="164.64" y="243.4" font-size="12" text-anchor="middle" fill="#000">150</text>
<text x="198.19" y="243.4" font-size="12" text-anchor="middle" fill="#000">200</text>
<text x="231.73" y="243.4" font-size="12" text-anchor="middle" fill="#000">250</text>
<text x="265.28" y="243.4" font-size="12" text-anchor="middle" fill="#000">300</text>
<text x="298.83" y="243.4" font-size="12" text-anchor="middle" fill="#000">350</text>
<line x1="57" y1="227.6" x2="61" y2="227.6" stroke="#111" stroke-width="1.3"/>
<line x1="57" y1="200.13" x2="61" y2="200.13" stroke="#111" stroke-width="1.3"/>
<line x1="57" y1="172.67" x2="61" y2="172.67" stroke="#111" stroke-width="1.3"/>
<line x1="57" y1="145.2" x2="61" y2="145.2" stroke="#111" stroke-width="1.3"/>
<line x1="57" y1="117.73" x2="61" y2="117.73" stroke="#111" stroke-width="1.3"/>
<line x1="57" y1="90.27" x2="61" y2="90.27" stroke="#111" stroke-width="1.3"/>
<line x1="57" y1="62.8" x2="61" y2="62.8" stroke="#111" stroke-width="1.3"/>
<line x1="57" y1="35.33" x2="61" y2="35.33" stroke="#111" stroke-width="1.3"/>
<line x1="58.8" y1="213.87" x2="61" y2="213.87" stroke="#111" stroke-width="1.3"/>
<line x1="58.8" y1="186.4" x2="61" y2="186.4" stroke="#111" stroke-width="1.3"/>
<line x1="58.8" y1="158.93" x2="61" y2="158.93" stroke="#111" stroke-width="1.3"/>
<line x1="58.8" y1="131.47" x2="61" y2="131.47" stroke="#111" stroke-width="1.3"/>
<line x1="58.8" y1="104" x2="61" y2="104" stroke="#111" stroke-width="1.3"/>
<line x1="58.8" y1="76.53" x2="61" y2="76.53" stroke="#111" stroke-width="1.3"/>
<line x1="58.8" y1="49.07" x2="61" y2="49.07" stroke="#111" stroke-width="1.3"/>
<line x1="58.8" y1="21.6" x2="61" y2="21.6" stroke="#111" stroke-width="1.3"/>
<text x="54.3" y="231" font-size="12" text-anchor="end" fill="#000">2.0</text>
<text x="54.3" y="203.53" font-size="12" text-anchor="end" fill="#000">2.2</text>
<text x="54.3" y="176.07" font-size="12" text-anchor="end" fill="#000">2.4</text>
<text x="54.3" y="148.6" font-size="12" text-anchor="end" fill="#000">2.6</text>
<text x="54.3" y="121.13" font-size="12" text-anchor="end" fill="#000">2.8</text>
<text x="54.3" y="93.67" font-size="12" text-anchor="end" fill="#000">3.0</text>
<text x="54.3" y="66.2" font-size="12" text-anchor="end" fill="#000">3.2</text>
<text x="54.3" y="38.73" font-size="12" text-anchor="end" fill="#000">3.4</text>
<text x="26.5" y="110.5" font-size="15.9" text-anchor="middle" fill="#000" transform="rotate(-90 26.5 110.5)">Capacity / Ah</text>
<text x="164.6" y="264.6" font-size="15.5" text-anchor="start" fill="#000">Cycles</text>
<text x="0" y="22.8" font-size="27.5">a</text>
<text x="0" y="0" font-size="29" transform="translate(18.8 22.8) scale(1.06 1)">)</text>
<rect x="151.7" y="116.2" width="152.3" height="36.4" fill="#000"/>
<rect x="148.7" y="113.2" width="152.3" height="36.4" fill="#fff" stroke="#b8b8b8" stroke-width="0.8"/>
<rect x="158.4" y="118.2" width="4.4" height="4.4" fill="#ff0000"/>
<rect x="158.4" y="129.2" width="4.4" height="4.4" fill="#000"/>
<polygon points="158.1,140.4 163.1,140.4 160.6,144.6" fill="#0000ff"/>
<text x="174.7" y="123.8" font-size="9.6" text-anchor="start" fill="#000">Aging: 45 °C / 0.5C</text>
<text x="174.7" y="135" font-size="9.6" text-anchor="start" fill="#000">Plating aged Cell: 0 °C / 0.5C</text>
<text x="174.7" y="146.2" font-size="9.6" text-anchor="start" fill="#000">Plating fresh Cell: 0 °C / 0.5C</text>
<defs>
<clipPath id="cb"><rect x="422.1" y="19.4" width="257.4" height="204.5"/></clipPath>
</defs>
<line x1="473.58" y1="19.4" x2="473.58" y2="223.9" stroke="#d9d9d9" stroke-width="0.9" stroke-dasharray="1,1.2"/>
<line x1="525.06" y1="19.4" x2="525.06" y2="223.9" stroke="#d9d9d9" stroke-width="0.9" stroke-dasharray="1,1.2"/>
<line x1="576.54" y1="19.4" x2="576.54" y2="223.9" stroke="#d9d9d9" stroke-width="0.9" stroke-dasharray="1,1.2"/>
<line x1="628.02" y1="19.4" x2="628.02" y2="223.9" stroke="#d9d9d9" stroke-width="0.9" stroke-dasharray="1,1.2"/>
<line x1="422.1" y1="189.82" x2="679.5" y2="189.82" stroke="#d9d9d9" stroke-width="0.9" stroke-dasharray="1,1.2"/>
<line x1="422.1" y1="155.73" x2="679.5" y2="155.73" stroke="#d9d9d9" stroke-width="0.9" stroke-dasharray="1,1.2"/>
<line x1="422.1" y1="121.65" x2="679.5" y2="121.65" stroke="#d9d9d9" stroke-width="0.9" stroke-dasharray="1,1.2"/>
<line x1="422.1" y1="87.57" x2="679.5" y2="87.57" stroke="#d9d9d9" stroke-width="0.9" stroke-dasharray="1,1.2"/>
<line x1="422.1" y1="53.48" x2="679.5" y2="53.48" stroke="#d9d9d9" stroke-width="0.9" stroke-dasharray="1,1.2"/>
<polygon points="423.2,118 423.8,112 424.3,106 424.8,113 425.3,100 425.8,96 426.3,94.8 426.8,99 427.3,97 428,99.5 429,100.5 430,102 432,121 433.6,140 436.8,163.6 440.7,180.9 446.2,196.6 452.5,206 461.2,213.2 470.6,218 484,221.3 500,223.2 512,223.9 461.2,223.9 451.7,217.8 445.4,210.8 440.7,199.7 436.8,184 433.6,163.6 431.3,140 428.2,126.3 426.5,121 425.5,126 424.5,121 423.6,124 423,122" fill="#cfcfcf" stroke="#b5b5b5" stroke-width="0.6" clip-path="url(#cb)"/>
<polyline points="422.1,197.11 422.32,197.39 422.53,197.65 422.75,197.91 422.97,198.19 423.18,198.49 423.4,198.77 423.61,199.05 423.83,199.34 424.05,199.6 424.26,199.86 424.48,200.13 424.7,200.4 424.91,200.65 425.13,200.86 425.34,201.01 425.56,201.09 425.78,201.12 425.99,201.15 426.21,201.19 426.43,201.27 426.64,201.38 426.86,201.5 427.07,201.58 427.29,201.64 427.51,201.71 427.72,201.78 427.94,201.84 428.16,201.88 428.37,201.9 428.59,201.91 428.81,201.93 429.02,201.99 429.24,202.06 429.45,202.16 429.67,202.27 429.89,202.38 430.1,202.5 430.32,202.6 430.54,202.69 430.75,202.8 430.97,202.89 431.18,202.98 431.4,203.08 431.62,203.18 431.83,203.3 432.05,203.46 432.27,203.63 432.48,203.8 432.7,203.93 432.92,204.05 433.13,204.16 433.35,204.27 433.56,204.41 433.78,204.57 434,204.77 434.21,204.98 434.43,205.18 434.65,205.35 434.86,205.49 435.08,205.58 435.29,205.65 435.51,205.74 435.73,205.88 435.94,206.06 436.16,206.25 436.38,206.41 436.59,206.52 436.81,206.59 437.02,206.62 437.24,206.68 437.46,206.77 437.67,206.89 437.89,207.03 438.11,207.15 438.32,207.27 438.54,207.39 438.76,207.53 438.97,207.68 439.19,207.83 439.4,207.97 439.62,208.07 439.84,208.13 440.05,208.17 440.27,208.21 440.49,208.26 440.7,208.35 440.92,208.46 441.13,208.58 441.35,208.71 441.57,208.86 441.78,209.05 442,209.25 442.22,209.46 442.43,209.63 442.65,209.72 442.87,209.76 443.08,209.74 443.3,209.73 443.51,209.76 443.73,209.85 443.95,209.97 444.16,210.07 444.38,210.16 444.6,210.25 444.81,210.33 445.03,210.43 445.24,210.56 445.46,210.69 445.68,210.83 445.89,210.93 446.11,211.02 446.33,211.08 446.54,211.12 446.76,211.17 446.97,211.27 447.19,211.41 447.41,211.57 447.62,211.74 447.84,211.88 448.61,212.18 449.58,212.48 450.54,212.74 451.51,212.95 452.48,213.14 453.44,213.33 454.41,213.52 455.37,213.68 456.34,213.86 457.31,214.01 458.27,214.15 459.24,214.31 460.2,214.5 461.17,214.7 462.14,214.87 463.1,215.02 464.07,215.15 465.04,215.29 466,215.42 466.97,215.54 467.93,215.62 468.9,215.66 469.87,215.67 470.83,215.71 471.8,215.78 472.76,215.9 473.73,216.03 474.7,216.15 475.66,216.25 476.63,216.35 477.59,216.42 478.56,216.49 479.53,216.54 480.49,216.57 481.46,216.59 482.42,216.63 483.39,216.68 484.36,216.74 485.32,216.84 486.29,216.96 487.25,217.08 488.22,217.17 489.19,217.23 490.15,217.26 491.12,217.28 492.08,217.32 493.05,217.39 494.02,217.47 494.98,217.55 495.95,217.62 496.92,217.66 497.88,217.66 498.85,217.65 499.81,217.65 500.78,217.67 501.75,217.71 502.71,217.75 503.68,217.79 504.64,217.8 505.61,217.8 506.58,217.8 507.54,217.8 508.51,217.83 509.47,217.9 510.44,217.99 511.41,218.09 512.37,218.15 513.34,218.16 514.3,218.16 515.27,218.15 516.24,218.17 517.2,218.18 518.17,218.23 519.13,218.29 520.1,218.36 521.07,218.41 522.03,218.44 523,218.42 523.96,218.39 524.93,218.38 525.9,218.43 526.86,218.55 527.83,218.71 528.79,218.82 529.76,218.89 530.73,218.94 531.69,218.98 532.66,219.03 533.63,219.08 534.59,219.11 535.56,219.1 536.52,219.08 537.49,219.09 538.46,219.13 539.42,219.2 540.39,219.26 541.35,219.3 542.32,219.29 543.29,219.26 544.25,219.21 545.22,219.19 546.18,219.22 547.15,219.28 548.12,219.33 549.08,219.37 550.05,219.36 551.01,219.3 551.98,219.24 552.95,219.17 553.91,219.12 554.88,219.12 555.84,219.17 556.81,219.25 557.78,219.33 558.74,219.4 559.71,219.44 560.67,219.44 561.64,219.41 562.61,219.38 563.57,219.39 564.54,219.42 565.51,219.51 566.47,219.67 567.44,219.83 568.4,219.97 569.37,220.02 570.34,220 571.3,219.9 572.27,219.78 573.23,219.72 574.2,219.69 575.17,219.66 576.13,219.65 577.1,219.63 578.06,219.62 579.03,219.61 580,219.62 580.96,219.63 581.93,219.67 582.89,219.72 583.86,219.78 584.83,219.82 585.79,219.86 586.76,219.9 587.72,219.92 588.69,219.92 589.66,219.9 590.62,219.84 591.59,219.78 592.55,219.77 593.52,219.82 594.49,219.92 595.45,220.03 596.42,220.12 597.39,220.16 598.35,220.17 599.32,220.16 600.28,220.15 601.25,220.1 602.22,220.05 603.18,220 604.15,219.98 605.11,220.01 606.08,220.07 607.05,220.14 608.01,220.18 608.98,220.16 609.94,220.09 610.91,220.03 611.88,220.01 612.84,220.05 613.81,220.12 614.77,220.19 615.74,220.23 616.71,220.23 617.67,220.21 618.64,220.21 619.6,220.23 620.57,220.28 621.54,220.31 622.5,220.32 623.47,220.32 624.43,220.35 625.4,220.4 626.37,220.47 627.33,220.51 628.3,220.52 629.26,220.52 630.23,220.54 631.2,220.57 632.16,220.63 633.13,220.68 634.1,220.72 635.06,220.72 636.03,220.67 636.99,220.61 637.96,220.56 638.93,220.52 639.89,220.53 640.86,220.57 641.82,220.64 642.79,220.66 643.76,220.67 644.72,220.64 645.69,220.61 646.65,220.6 647.62,220.66 648.59,220.76 649.55,220.83 650.52,220.9 651.48,220.91 652.45,220.86 653.42,220.78 654.38,220.69 655.35,220.6 656.31,220.54 657.28,220.53 658.25,220.58 659.21,220.66 660.18,220.77 661.14,220.85 662.11,220.88 663.08,220.87 664.04,220.86 665.01,220.88 665.98,220.94 666.94,220.99 667.91,221.01 668.87,221 669.84,220.98 670.81,220.95 671.77,220.95 672.74,220.96 673.7,220.95 674.67,220.91 675.64,220.86 676.6,220.83 677.57,220.83 678.53,220.92 679.5,221.05" fill="none" stroke="#dd7f2a" stroke-width="1.7" stroke-linejoin="round" clip-path="url(#cb)"/>
<polyline points="422.1,212.47 422.32,212.3 422.53,212.09 422.75,211.95 422.97,211.92 423.18,212 423.4,211.99 423.61,211.89 423.83,211.66 424.05,211.33 424.26,210.92 424.48,210.48 424.7,210.06 424.91,209.71 425.13,209.45 425.34,209.28 425.56,209.17 425.78,209.1 425.99,209 426.21,208.88 426.43,208.67 426.64,208.38 426.86,208.07 427.07,207.78 427.29,207.58 427.51,207.46 427.72,207.36 427.94,207.22 428.16,207 428.37,206.77 428.59,206.6 428.81,206.47 429.02,206.41 429.24,206.4 429.45,206.33 429.67,206.2 429.89,206.05 430.1,205.88 430.32,205.7 430.54,205.59 430.75,205.52 430.97,205.52 431.18,205.45 431.4,205.36 431.62,205.22 431.83,205.16 432.05,205.19 432.27,205.29 432.48,205.41 432.7,205.47 432.92,205.4 433.13,205.31 433.35,205.21 433.56,205.17 433.78,205.18 434,205.24 434.21,205.3 434.43,205.32 434.65,205.35 434.86,205.4 435.08,205.44 435.29,205.46 435.51,205.47 435.73,205.42 435.94,205.35 436.16,205.31 436.38,205.3 436.59,205.3 436.81,205.25 437.02,205.18 437.24,205.07 437.46,204.96 437.67,204.94 437.89,204.96 438.11,205.01 438.32,205.05 438.54,205.04 438.76,205.04 438.97,205.01 439.19,205.04 439.4,205.08 439.62,205.11 439.84,205.1 440.05,205.1 440.27,205.12 440.49,205.2 440.7,205.32 440.92,205.43 441.13,205.49 441.35,205.53 441.57,205.52 441.78,205.51 442,205.53 442.22,205.61 442.43,205.68 442.65,205.72 442.87,205.71 443.08,205.68 443.3,205.62 443.51,205.59 443.73,205.61 443.95,205.69 444.16,205.79 444.38,205.89 444.6,205.92 444.81,205.87 445.03,205.76 445.24,205.68 445.46,205.61 445.68,205.6 445.89,205.62 446.11,205.72 446.33,205.89 446.54,206.11 446.76,206.3 446.97,206.38 447.19,206.35 447.41,206.29 447.62,206.24 447.84,206.29 448.61,206.4 449.58,206.52 450.54,206.6 451.51,206.68 452.48,206.7 453.44,206.73 454.41,206.81 455.37,206.9 456.34,206.95 457.31,206.98 458.27,206.92 459.24,206.91 460.2,206.97 461.17,207.16 462.14,207.38 463.1,207.54 464.07,207.63 465.04,207.64 466,207.66 466.97,207.69 467.93,207.68 468.9,207.64 469.87,207.58 470.83,207.54 471.8,207.64 472.76,207.85 473.73,208.12 474.7,208.36 475.66,208.53 476.63,208.63 477.59,208.64 478.56,208.61 479.53,208.59 480.49,208.59 481.46,208.65 482.42,208.77 483.39,208.86 484.36,208.93 485.32,208.95 486.29,208.94 487.25,208.96 488.22,209.02 489.19,209.1 490.15,209.21 491.12,209.29 492.08,209.34 493.05,209.34 494.02,209.28 494.98,209.21 495.95,209.13 496.92,209.11 497.88,209.15 498.85,209.19 499.81,209.24 500.78,209.26 501.75,209.24 502.71,209.2 503.68,209.17 504.64,209.11 505.61,209.09 506.58,209.09 507.54,209.12 508.51,209.13 509.47,209.12 510.44,209.07 511.41,209.02 512.37,208.99 513.34,209 514.3,209 515.27,209.02 516.24,209.02 517.2,209.02 518.17,209.02 519.13,208.98 520.1,208.92 521.07,208.86 522.03,208.88 523,209 523.96,209.14 524.93,209.33 525.9,209.5 526.86,209.64 527.83,209.69 528.79,209.66 529.76,209.56 530.73,209.35 531.69,209.09 532.66,208.87 533.63,208.68 534.59,208.6 535.56,208.67 536.52,208.84 537.49,209.02 538.46,209.12 539.42,209.09 540.39,208.98 541.35,208.84 542.32,208.74 543.29,208.69 544.25,208.64 545.22,208.57 546.18,208.48 547.15,208.39 548.12,208.38 549.08,208.46 550.05,208.6 551.01,208.75 551.98,208.84 552.95,208.88 553.91,208.84 554.88,208.82 555.84,208.87 556.81,208.97 557.78,209.07 558.74,209.14 559.71,209.14 560.67,209.06 561.64,208.89 562.61,208.72 563.57,208.64 564.54,208.65 565.51,208.71 566.47,208.8 567.44,208.79 568.4,208.65 569.37,208.41 570.34,208.18 571.3,208.03 572.27,208 573.23,208.09 574.2,208.21 575.17,208.29 576.13,208.31 577.1,208.27 578.06,208.2 579.03,208.16 580,208.19 580.96,208.2 581.93,208.22 582.89,208.24 583.86,208.29 584.83,208.36 585.79,208.43 586.76,208.5 587.72,208.53 588.69,208.54 589.66,208.63 590.62,208.74 591.59,208.83 592.55,208.85 593.52,208.8 594.49,208.7 595.45,208.53 596.42,208.41 597.39,208.32 598.35,208.29 599.32,208.3 600.28,208.35 601.25,208.44 602.22,208.52 603.18,208.55 604.15,208.54 605.11,208.48 606.08,208.44 607.05,208.39 608.01,208.37 608.98,208.36 609.94,208.3 610.91,208.21 611.88,208.05 612.84,207.83 613.81,207.6 614.77,207.42 615.74,207.38 616.71,207.46 617.67,207.6 618.64,207.76 619.6,207.91 620.57,208.05 621.54,208.16 622.5,208.27 623.47,208.39 624.43,208.43 625.4,208.38 626.37,208.26 627.33,208.11 628.3,207.96 629.26,207.86 630.23,207.81 631.2,207.86 632.16,207.9 633.13,207.95 634.1,207.96 635.06,207.93 636.03,207.88 636.99,207.85 637.96,207.86 638.93,207.9 639.89,207.93 640.86,207.95 641.82,207.9 642.79,207.76 643.76,207.53 644.72,207.28 645.69,207.13 646.65,207.06 647.62,207.06 648.59,207.1 649.55,207.16 650.52,207.2 651.48,207.18 652.45,207.14 653.42,207.07 654.38,206.96 655.35,206.9 656.31,206.93 657.28,207.07 658.25,207.25 659.21,207.38 660.18,207.43 661.14,207.43 662.11,207.41 663.08,207.45 664.04,207.53 665.01,207.63 665.98,207.67 666.94,207.71 667.91,207.72 668.87,207.72 669.84,207.65 670.81,207.49 671.77,207.25 672.74,207.03 673.7,206.92 674.67,207.01 675.64,207.23 676.6,207.5 677.57,207.7 678.53,207.77 679.5,207.77" fill="none" stroke="#4272ad" stroke-width="1.7" stroke-linejoin="round" clip-path="url(#cb)"/>
<polyline points="422.1,28.94 422.32,29.23 422.53,29.73 422.75,30.4 422.97,31.21 423.18,32.12 423.4,33.08 423.61,34.28 423.83,35.79 424.05,37.55 424.26,39.47 424.48,41.46 424.7,43.46 424.91,45.49 425.13,47.62 425.34,49.83 425.56,52.13 425.78,54.5 425.99,56.94 426.21,59.43 426.43,61.97 426.64,64.54 426.86,67.15 427.07,69.78 427.29,72.42 427.51,75.16 427.72,78.03 427.94,81 428.16,84.07 428.37,87.2 428.59,90.39 428.81,93.6 429.02,96.84 429.24,100.06 429.45,103.27 429.67,106.43 429.89,109.54 430.1,112.56 430.32,115.49 430.54,118.3 430.75,120.98 430.97,123.51 431.18,125.87 431.4,128.16 431.62,130.4 431.83,132.59 432.05,134.74 432.27,136.84 432.48,138.89 432.7,140.9 432.92,142.86 433.13,144.77 433.35,146.64 433.56,148.45 433.78,150.23 434,151.95 434.21,153.63 434.43,155.26 434.65,156.85 434.86,158.39 435.08,159.89 435.29,161.37 435.51,162.85 435.73,164.3 435.94,165.73 436.16,167.12 436.38,168.47 436.59,169.78 436.81,171.03 437.02,172.22 437.24,173.34 437.46,174.39 437.67,175.36 437.89,176.24 438.11,177.03 438.32,177.77 438.54,178.49 438.76,179.19 438.97,179.86 439.19,180.51 439.4,181.14 439.62,181.75 439.84,182.34 440.05,182.9 440.27,183.46 440.49,183.99 440.7,184.5 440.92,185 441.13,185.48 441.35,185.95 441.57,186.4 441.78,186.84 442,187.26 442.22,187.67 442.43,188.07 442.65,188.45 442.87,188.83 443.08,189.19 443.3,189.55 443.51,189.9 443.73,190.23 443.95,190.55 444.16,190.86 444.38,191.16 444.6,191.46 444.81,191.74 445.03,192.01 445.24,192.28 445.46,192.54 445.68,192.79 445.89,193.04 446.11,193.28 446.33,193.52 446.54,193.75 446.76,193.99 446.97,194.21 447.19,194.44 447.41,194.67 447.62,194.9 447.84,195.12 448.61,195.95 449.58,197.02 450.54,198.01 451.51,198.79 452.48,199.52 453.44,200.2 454.41,200.85 455.37,201.47 456.34,202.04 457.31,202.59 458.27,203.11 459.24,203.59 460.2,204.04 461.17,204.47 462.14,204.87 463.1,205.24 464.07,205.6 465.04,205.93 466,206.25 466.97,206.55 467.93,206.84 468.9,207.11 469.87,207.38 470.83,207.64 471.8,207.89 472.76,208.14 473.73,208.39 474.7,208.63 475.66,208.87 476.63,209.1 477.59,209.32 478.56,209.54 479.53,209.75 480.49,209.95 481.46,210.15 482.42,210.34 483.39,210.52 484.36,210.69 485.32,210.86 486.29,211.03 487.25,211.19 488.22,211.35 489.19,211.5 490.15,211.64 491.12,211.79 492.08,211.93 493.05,212.06 494.02,212.19 494.98,212.32 495.95,212.44 496.92,212.56 497.88,212.68 498.85,212.8 499.81,212.91 500.78,213.02 501.75,213.12 502.71,213.23 503.68,213.32 504.64,213.42 505.61,213.5 506.58,213.59 507.54,213.67 508.51,213.74 509.47,213.82 510.44,213.89 511.41,213.96 512.37,214.03 513.34,214.09 514.3,214.16 515.27,214.22 516.24,214.28 517.2,214.34 518.17,214.39 519.13,214.45 520.1,214.5 521.07,214.56 522.03,214.61 523,214.66 523.96,214.71 524.93,214.77 525.9,214.82 526.86,214.87 527.83,214.92 528.79,214.97 529.76,215.02 530.73,215.06 531.69,215.11 532.66,215.16 533.63,215.21 534.59,215.25 535.56,215.3 536.52,215.34 537.49,215.39 538.46,215.43 539.42,215.48 540.39,215.52 541.35,215.56 542.32,215.6 543.29,215.64 544.25,215.69 545.22,215.73 546.18,215.76 547.15,215.8 548.12,215.84 549.08,215.88 550.05,215.92 551.01,215.95 551.98,215.99 552.95,216.02 553.91,216.06 554.88,216.09 555.84,216.13 556.81,216.16 557.78,216.19 558.74,216.22 559.71,216.25 560.67,216.28 561.64,216.31 562.61,216.34 563.57,216.37 564.54,216.4 565.51,216.43 566.47,216.46 567.44,216.48 568.4,216.51 569.37,216.54 570.34,216.56 571.3,216.59 572.27,216.61 573.23,216.64 574.2,216.66 575.17,216.68 576.13,216.71 577.1,216.73 578.06,216.76 579.03,216.78 580,216.8 580.96,216.82 581.93,216.85 582.89,216.87 583.86,216.89 584.83,216.91 585.79,216.93 586.76,216.95 587.72,216.98 588.69,217 589.66,217.02 590.62,217.04 591.59,217.06 592.55,217.08 593.52,217.1 594.49,217.12 595.45,217.14 596.42,217.16 597.39,217.18 598.35,217.2 599.32,217.22 600.28,217.25 601.25,217.27 602.22,217.29 603.18,217.31 604.15,217.33 605.11,217.35 606.08,217.37 607.05,217.39 608.01,217.41 608.98,217.43 609.94,217.45 610.91,217.47 611.88,217.5 612.84,217.52 613.81,217.54 614.77,217.56 615.74,217.58 616.71,217.6 617.67,217.62 618.64,217.64 619.6,217.66 620.57,217.68 621.54,217.7 622.5,217.72 623.47,217.74 624.43,217.76 625.4,217.78 626.37,217.8 627.33,217.81 628.3,217.83 629.26,217.85 630.23,217.87 631.2,217.88 632.16,217.9 633.13,217.92 634.1,217.93 635.06,217.95 636.03,217.97 636.99,217.98 637.96,218 638.93,218.01 639.89,218.02 640.86,218.04 641.82,218.05 642.79,218.06 643.76,218.08 644.72,218.09 645.69,218.1 646.65,218.11 647.62,218.13 648.59,218.14 649.55,218.15 650.52,218.16 651.48,218.18 652.45,218.19 653.42,218.2 654.38,218.21 655.35,218.22 656.31,218.23 657.28,218.25 658.25,218.26 659.21,218.27 660.18,218.28 661.14,218.29 662.11,218.3 663.08,218.31 664.04,218.32 665.01,218.33 665.98,218.34 666.94,218.35 667.91,218.36 668.87,218.37 669.84,218.37 670.81,218.38 671.77,218.39 672.74,218.4 673.7,218.41 674.67,218.41 675.64,218.42 676.6,218.43 677.57,218.43 678.53,218.44 679.5,218.45" fill="none" stroke="#939393" stroke-width="1.7" stroke-linejoin="round" clip-path="url(#cb)"/>
<polyline points="422.1,119.61 422.32,120.23 422.53,121.15 422.75,122.29 422.97,123.63 423.18,125.43 423.4,127.61 423.61,130.01 423.83,132.45 424.05,134.85 424.26,137.36 424.48,139.97 424.7,142.66 424.91,145.39 425.13,148.15 425.34,150.88 425.56,153.59 425.78,156.36 425.99,159.28 426.21,162.42 426.43,166.14 426.64,170.33 426.86,174.24 427.07,177.26 427.29,179.85 427.51,182.19 427.72,184.22 427.94,185.89 428.16,187.22 428.37,188.42 428.59,189.51 428.81,190.51 429.02,191.4 429.24,192.2 429.45,192.91 429.67,193.53 429.89,194.06 430.1,194.55 430.32,195.01 430.54,195.44 430.75,195.85 430.97,196.23 431.18,196.57 431.4,196.9 431.62,197.19 431.83,197.45 432.05,197.68 432.27,197.89 432.48,198.07 432.7,198.23 432.92,198.4 433.13,198.56 433.35,198.7 433.56,198.84 433.78,198.97 434,199.08 434.21,199.18 434.43,199.25 434.65,199.31 434.86,199.35 435.08,199.66 435.29,199.44 435.51,199.25 435.73,199.09 435.94,198.95 436.16,198.89 436.38,198.9 436.59,199.02 436.81,199.23 437.02,199.48 437.24,199.71 437.46,199.81 437.67,199.79 437.89,199.72 438.11,199.69 438.32,199.72 438.54,199.88 438.76,200.1 438.97,200.24 439.19,200.24 439.4,200.15 439.62,200.03 439.84,199.92 440.05,199.81 440.27,199.65 440.49,199.47 440.7,199.26 440.92,199.15 441.13,199.17 441.35,199.41 441.57,199.68 441.78,199.89 442,200.04 442.22,200.16 442.43,200.21 442.65,200.34 442.87,200.5 443.08,200.69 443.3,200.81 443.51,200.83 443.73,200.76 443.95,200.59 444.16,200.42 444.38,200.29 444.6,200.14 444.81,199.98 445.03,199.8 445.24,199.72 445.46,199.75 445.68,199.86 445.89,199.98 446.11,200.06 446.33,199.98 446.54,199.79 446.76,199.51 446.97,199.34 447.19,199.29 447.41,199.28 447.62,199.28 447.84,199.26 448.61,199.14 449.58,199.08 450.54,199.09 451.51,199.22 452.48,199.37 453.44,199.52 454.41,199.72 455.37,199.91 456.34,199.98 457.31,199.92 458.27,199.68 459.24,199.45 460.2,199.24 461.17,199.11 462.14,199.07 463.1,198.99 464.07,198.86 465.04,198.72 466,198.7 466.97,198.79 467.93,198.91 468.9,199.07 469.87,199.22 470.83,199.28 471.8,199.31 472.76,199.33 473.73,199.39 474.7,199.46 475.66,199.56 476.63,199.64 477.59,199.71 478.56,199.71 479.53,199.67 480.49,199.63 481.46,199.61 482.42,199.64 483.39,199.63 484.36,199.57 485.32,199.37 486.29,199.02 487.25,198.61 488.22,198.34 489.19,198.27 490.15,198.41 491.12,198.63 492.08,198.82 493.05,198.96 494.02,199 494.98,198.98 495.95,198.97 496.92,198.94 497.88,198.95 498.85,199.03 499.81,199.07 500.78,199.15 501.75,199.26 502.71,199.43 503.68,199.64 504.64,199.82 505.61,199.9 506.58,199.83 507.54,199.71 508.51,199.67 509.47,199.73 510.44,199.82 511.41,200.01 512.37,200.08 513.34,200.09 514.3,200.09 515.27,200.06 516.24,200.05 517.2,200.05 518.17,200.05 519.13,200.04 520.1,199.95 521.07,199.87 522.03,199.66 523,199.41 523.96,199.25 524.93,199.15 525.9,199.12 526.86,199.17 527.83,199.23 528.79,199.29 529.76,199.3 530.73,199.32 531.69,199.3 532.66,199.2 533.63,199.09 534.59,198.91 535.56,198.65 536.52,198.37 537.49,198.05 538.46,197.81 539.42,197.63 540.39,197.59 541.35,197.63 542.32,197.67 543.29,197.72 544.25,197.75 545.22,197.8 546.18,197.97 547.15,198.09 548.12,198.14 549.08,198 550.05,197.82 551.01,197.69 551.98,197.57 552.95,197.62 553.91,197.71 554.88,197.89 555.84,198.07 556.81,198.21 557.78,198.28 558.74,198.25 559.71,198.23 560.67,198.28 561.64,198.38 562.61,198.57 563.57,198.71 564.54,198.76 565.51,198.64 566.47,198.36 567.44,198.06 568.4,197.84 569.37,197.74 570.34,197.72 571.3,197.78 572.27,197.84 573.23,197.91 574.2,198.01 575.17,198.18 576.13,198.32 577.1,198.44 578.06,198.48 579.03,198.51 580,198.5 580.96,198.52 581.93,198.58 582.89,198.59 583.86,198.54 584.83,198.42 585.79,198.22 586.76,198.08 587.72,198.04 588.69,198.18 589.66,198.46 590.62,198.77 591.59,199.05 592.55,199.25 593.52,199.44 594.49,199.69 595.45,199.94 596.42,200.18 597.39,200.31 598.35,200.26 599.32,200.05 600.28,199.8 601.25,199.57 602.22,199.43 603.18,199.38 604.15,199.42 605.11,199.33 606.08,199.12 607.05,198.68 608.01,198.15 608.98,197.6 609.94,197.21 610.91,196.97 611.88,196.78 612.84,196.56 613.81,196.32 614.77,196.03 615.74,195.87 616.71,195.84 617.67,196.03 618.64,196.29 619.6,196.54 620.57,196.67 621.54,196.79 622.5,196.88 623.47,197.04 624.43,197.28 625.4,197.55 626.37,197.74 627.33,197.9 628.3,198 629.26,198.01 630.23,197.84 631.2,197.57 632.16,197.22 633.13,196.94 634.1,196.86 635.06,196.97 636.03,197.07 636.99,197.06 637.96,196.96 638.93,196.81 639.89,196.66 640.86,196.63 641.82,196.77 642.79,197.13 643.76,197.5 644.72,197.83 645.69,197.99 646.65,197.89 647.62,197.6 648.59,197.29 649.55,197.01 650.52,196.87 651.48,196.91 652.45,197.11 653.42,197.3 654.38,197.57 655.35,197.8 656.31,198.04 657.28,198.18 658.25,198.29 659.21,198.37 660.18,198.37 661.14,198.27 662.11,198.08 663.08,197.77 664.04,197.59 665.01,197.42 665.98,197.43 666.94,197.53 667.91,197.6 668.87,197.6 669.84,197.51 670.81,197.33 671.77,197.16 672.74,196.96 673.7,196.69 674.67,196.3 675.64,195.92 676.6,195.53 677.57,195.16 678.53,194.91 679.5,194.74" fill="none" stroke="#ff1212" stroke-width="1.7" stroke-linejoin="round" clip-path="url(#cb)"/>
<polyline points="422.1,213.78 422.32,217.2 422.53,219.84 422.75,221.36 422.97,221.41 423.18,220.16 423.4,217.9 423.61,214.94 423.83,211.82 424.05,208.91 424.26,206.31 424.48,203.61 424.7,200.91 424.91,198.02 425.13,195.05 425.34,192.27 425.56,189.45 425.78,186.61 425.99,183.88 426.21,181.18 426.43,178.52 426.64,175.84 426.86,173.25 427.07,170.68 427.29,168.37 427.51,166.06 427.72,163.85 427.94,161.43 428.16,159.28 428.37,156.99 428.59,154.87 428.81,152.66 429.02,150.55 429.24,148.2 429.45,145.68 429.67,143.48 429.89,140.9 430.1,138.52 430.32,136.39 430.54,134.34 430.75,132.49 430.97,131.04 431.18,129.56 431.4,128.32 431.62,127.07 431.83,125.88 432.05,124.7 432.27,123.57 432.48,122.46 432.7,121.48 432.92,120.14 433.13,118.99 433.35,117.72 433.56,116.4 433.78,114.83 434,112.94 434.21,110.86 434.43,108.77 434.65,106.37 434.86,104.1 435.08,102.49 435.29,100.72 435.51,99.32 435.73,97.99 435.94,96.59 436.16,95.52 436.38,94.26 436.59,93.05 436.81,92.09 437.02,91.11 437.24,90.15 437.46,89.35 437.67,88.45 437.89,87.89 438.11,87.08 438.32,86.57 438.54,85.83 438.76,85.28 438.97,84.85 439.19,84.09 439.4,83.58 439.62,82.97 439.84,82.29 440.05,81.93 440.27,81.42 440.49,80.78 440.7,80.4 440.92,79.88 441.13,79.56 441.35,79.26 441.57,78.85 441.78,78.41 442,78.07 442.22,77.77 442.43,77.4 442.65,77.05 442.87,76.7 443.08,76.13 443.3,75.84 443.51,75.5 443.73,75.09 443.95,74.68 444.16,74.36 444.38,74.08 444.6,73.77 444.81,73.39 445.03,73.17 445.24,72.86 445.46,72.48 445.68,72.34 445.89,72.04 446.11,71.71 446.33,71.45 446.54,71.18 446.76,70.75 446.97,70.57 447.19,70.39 447.41,70.08 447.62,69.89 447.84,69.76 448.61,68.95 449.58,68.07 450.54,67.33 451.51,66.43 452.48,65.74 453.44,65.14 454.41,64.69 455.37,64.15 456.34,63.71 457.31,63.29 458.27,62.97 459.24,62.47 460.2,62.22 461.17,61.81 462.14,61.37 463.1,61.15 464.07,60.8 465.04,60.39 466,60.19 466.97,59.91 467.93,59.64 468.9,59.32 469.87,59.23 470.83,58.82 471.8,58.48 472.76,58.14 473.73,57.92 474.7,57.6 475.66,57.09 476.63,57.1 477.59,56.71 478.56,56.47 479.53,56.52 480.49,56.16 481.46,55.7 482.42,55.82 483.39,55.89 484.36,55.63 485.32,55.64 486.29,55.17 487.25,54.84 488.22,54.95 489.19,54.59 490.15,54.15 491.12,54.38 492.08,54.17 493.05,54.37 494.02,54.23 494.98,54.07 495.95,53.41 496.92,53.92 497.88,53.96 498.85,53.96 499.81,53.82 500.78,53.51 501.75,53.4 502.71,52.83 503.68,53.11 504.64,52.86 505.61,53.25 506.58,53.36 507.54,53.97 508.51,53.74 509.47,53.63 510.44,53.43 511.41,53.55 512.37,52.68 513.34,52.78 514.3,52.73 515.27,52.74 516.24,52.82 517.2,52.8 518.17,53.17 519.13,53.11 520.1,52.82 521.07,52.8 522.03,52.89 523,52.92 523.96,52.94 524.93,52.68 525.9,52.32 526.86,52.67 527.83,52.06 528.79,52.18 529.76,52.41 530.73,52.17 531.69,52.65 532.66,52.75 533.63,52.72 534.59,52.54 535.56,52.42 536.52,52.29 537.49,52.01 538.46,52.38 539.42,51.82 540.39,52.22 541.35,52.11 542.32,52.15 543.29,52.43 544.25,52.6 545.22,52.54 546.18,52.29 547.15,52.12 548.12,52.15 549.08,52.63 550.05,52.82 551.01,53.09 551.98,52.99 552.95,53.55 553.91,52.85 554.88,53.13 555.84,53.13 556.81,52.91 557.78,52.83 558.74,53.08 559.71,53.03 560.67,53.27 561.64,53.09 562.61,53.11 563.57,53.41 564.54,53.09 565.51,53.31 566.47,53.16 567.44,53.14 568.4,52.74 569.37,52.3 570.34,52.61 571.3,52.18 572.27,52.22 573.23,52.19 574.2,52.63 575.17,52.16 576.13,51.99 577.1,52.33 578.06,52.21 579.03,52.7 580,51.99 580.96,52.16 581.93,51.7 582.89,52.06 583.86,51.33 584.83,51.36 585.79,51.03 586.76,51.32 587.72,51.25 588.69,50.7 589.66,51.33 590.62,51.26 591.59,51.1 592.55,51.15 593.52,50.46 594.49,50.15 595.45,50.46 596.42,50.53 597.39,49.81 598.35,49.74 599.32,49.75 600.28,49.69 601.25,50.19 602.22,50.3 603.18,50.75 604.15,50.95 605.11,50.53 606.08,50.85 607.05,50.15 608.01,50.54 608.98,50.72 609.94,50.51 610.91,50.44 611.88,50.93 612.84,51.59 613.81,51.69 614.77,51.9 615.74,52.67 616.71,52.96 617.67,52.68 618.64,52.77 619.6,52.83 620.57,52.45 621.54,52.26 622.5,51.86 623.47,51.84 624.43,51.66 625.4,51.87 626.37,52.45 627.33,52.17 628.3,52.15 629.26,52.26 630.23,52.14 631.2,52.35 632.16,52.31 633.13,51.85 634.1,52.26 635.06,52.54 636.03,51.89 636.99,52.16 637.96,51.88 638.93,51.83 639.89,51.66 640.86,51.58 641.82,51.45 642.79,51.34 643.76,51.88 644.72,51.23 645.69,51.59 646.65,51.59 647.62,51.32 648.59,51.62 649.55,52.06 650.52,51.47 651.48,52.05 652.45,51.77 653.42,51.69 654.38,51.36 655.35,51.7 656.31,51.41 657.28,51.75 658.25,51.3 659.21,51.53 660.18,51.24 661.14,50.65 662.11,50.91 663.08,51.01 664.04,50.73 665.01,51.25 665.98,51.59 666.94,51.31 667.91,51.65 668.87,51.11 669.84,51.06 670.81,51.52 671.77,51.68 672.74,51.66 673.7,51.85 674.67,52.1 675.64,51.73 676.6,52.14 677.57,51.68 678.53,51.59 679.5,51.59" fill="none" stroke="#111111" stroke-width="1.7" stroke-linejoin="round" clip-path="url(#cb)"/>
<rect x="422.1" y="19.4" width="257.4" height="204.5" fill="none" stroke="#111" stroke-width="1.7"/>
<line x1="422.1" y1="223.9" x2="422.1" y2="227.9" stroke="#111" stroke-width="1.3"/>
<line x1="473.58" y1="223.9" x2="473.58" y2="227.9" stroke="#111" stroke-width="1.3"/>
<line x1="525.06" y1="223.9" x2="525.06" y2="227.9" stroke="#111" stroke-width="1.3"/>
<line x1="576.54" y1="223.9" x2="576.54" y2="227.9" stroke="#111" stroke-width="1.3"/>
<line x1="628.02" y1="223.9" x2="628.02" y2="227.9" stroke="#111" stroke-width="1.3"/>
<line x1="679.5" y1="223.9" x2="679.5" y2="227.9" stroke="#111" stroke-width="1.3"/>
<line x1="447.84" y1="223.9" x2="447.84" y2="226.1" stroke="#111" stroke-width="1.3"/>
<line x1="499.32" y1="223.9" x2="499.32" y2="226.1" stroke="#111" stroke-width="1.3"/>
<line x1="550.8" y1="223.9" x2="550.8" y2="226.1" stroke="#111" stroke-width="1.3"/>
<line x1="602.28" y1="223.9" x2="602.28" y2="226.1" stroke="#111" stroke-width="1.3"/>
<line x1="653.76" y1="223.9" x2="653.76" y2="226.1" stroke="#111" stroke-width="1.3"/>
<text x="422.1" y="241.4" font-size="12.5" text-anchor="middle" fill="#000">0</text>
<text x="473.58" y="241.4" font-size="12.5" text-anchor="middle" fill="#000">2</text>
<text x="525.06" y="241.4" font-size="12.5" text-anchor="middle" fill="#000">4</text>
<text x="576.54" y="241.4" font-size="12.5" text-anchor="middle" fill="#000">6</text>
<text x="628.02" y="241.4" font-size="12.5" text-anchor="middle" fill="#000">8</text>
<text x="679.5" y="241.4" font-size="12.5" text-anchor="middle" fill="#000">10</text>
<line x1="418.1" y1="223.9" x2="422.1" y2="223.9" stroke="#111" stroke-width="1.3"/>
<line x1="418.1" y1="189.82" x2="422.1" y2="189.82" stroke="#111" stroke-width="1.3"/>
<line x1="418.1" y1="155.73" x2="422.1" y2="155.73" stroke="#111" stroke-width="1.3"/>
<line x1="418.1" y1="121.65" x2="422.1" y2="121.65" stroke="#111" stroke-width="1.3"/>
<line x1="418.1" y1="87.57" x2="422.1" y2="87.57" stroke="#111" stroke-width="1.3"/>
<line x1="418.1" y1="53.48" x2="422.1" y2="53.48" stroke="#111" stroke-width="1.3"/>
<line x1="418.1" y1="19.4" x2="422.1" y2="19.4" stroke="#111" stroke-width="1.3"/>
<line x1="419.9" y1="206.86" x2="422.1" y2="206.86" stroke="#111" stroke-width="1.3"/>
<line x1="419.9" y1="172.78" x2="422.1" y2="172.78" stroke="#111" stroke-width="1.3"/>
<line x1="419.9" y1="138.69" x2="422.1" y2="138.69" stroke="#111" stroke-width="1.3"/>
<line x1="419.9" y1="104.61" x2="422.1" y2="104.61" stroke="#111" stroke-width="1.3"/>
<line x1="419.9" y1="70.53" x2="422.1" y2="70.53" stroke="#111" stroke-width="1.3"/>
<line x1="419.9" y1="36.44" x2="422.1" y2="36.44" stroke="#111" stroke-width="1.3"/>
<text x="415.3" y="227.6" font-size="12.5" text-anchor="end" fill="#000">0</text>
<text x="415.3" y="193.52" font-size="12.5" text-anchor="end" fill="#000">5</text>
<text x="415.3" y="159.43" font-size="12.5" text-anchor="end" fill="#000">10</text>
<text x="415.3" y="125.35" font-size="12.5" text-anchor="end" fill="#000">15</text>
<text x="415.3" y="91.27" font-size="12.5" text-anchor="end" fill="#000">20</text>
<text x="415.3" y="57.18" font-size="12.5" text-anchor="end" fill="#000">25</text>
<text x="415.3" y="23.1" font-size="12.5" text-anchor="end" fill="#000">30</text>
<line x1="675.5" y1="223.9" x2="679.5" y2="223.9" stroke="#111" stroke-width="1.3"/>
<line x1="675.5" y1="183" x2="679.5" y2="183" stroke="#111" stroke-width="1.3"/>
<line x1="675.5" y1="142.1" x2="679.5" y2="142.1" stroke="#111" stroke-width="1.3"/>
<line x1="675.5" y1="101.2" x2="679.5" y2="101.2" stroke="#111" stroke-width="1.3"/>
<line x1="675.5" y1="60.3" x2="679.5" y2="60.3" stroke="#111" stroke-width="1.3"/>
<line x1="675.5" y1="19.4" x2="679.5" y2="19.4" stroke="#111" stroke-width="1.3"/>
<line x1="677.3" y1="203.45" x2="679.5" y2="203.45" stroke="#111" stroke-width="1.3"/>
<line x1="677.3" y1="162.55" x2="679.5" y2="162.55" stroke="#111" stroke-width="1.3"/>
<line x1="677.3" y1="121.65" x2="679.5" y2="121.65" stroke="#111" stroke-width="1.3"/>
<line x1="677.3" y1="80.75" x2="679.5" y2="80.75" stroke="#111" stroke-width="1.3"/>
<line x1="677.3" y1="39.85" x2="679.5" y2="39.85" stroke="#111" stroke-width="1.3"/>
<text x="683.3" y="227.9" font-size="12.5" text-anchor="start" fill="#000">50</text>
<text x="683.3" y="187" font-size="12.5" text-anchor="start" fill="#000">60</text>
<text x="683.3" y="146.1" font-size="12.5" text-anchor="start" fill="#000">70</text>
<text x="683.3" y="105.2" font-size="12.5" text-anchor="start" fill="#000">80</text>
<text x="683.3" y="64.3" font-size="12.5" text-anchor="start" fill="#000">90</text>
<text x="683.3" y="23.4" font-size="12.5" text-anchor="start" fill="#000">100</text>
<text x="387.8" y="107.4" font-size="17" text-anchor="middle" fill="#000" transform="rotate(-90 387.8 107.4)">Li, Si, O, P / wt.-%</text>
<text x="722.6" y="121" font-size="17" text-anchor="middle" fill="#000" transform="rotate(-90 722.6 121)">C / wt.-%</text>
<text x="508.6" y="265.6" font-size="17" text-anchor="start" fill="#000">Depth / µm</text>
<text x="358.9" y="22.8" font-size="29">b</text>
<text x="0" y="0" font-size="29" transform="translate(378.2 22.8) scale(1.06 1)">)</text>
<rect x="527.9" y="94.6" width="140.9" height="39.1" fill="#000"/>
<rect x="524.9" y="91.6" width="140.9" height="39.1" fill="#fff" stroke="#b8b8b8" stroke-width="0.8"/>
<line x1="526" y1="98.2" x2="550.3" y2="98.2" stroke="#111111" stroke-width="1.9"/>
<line x1="577.9" y1="98.2" x2="602.2" y2="98.2" stroke="#4272ad" stroke-width="1.9"/>
<line x1="526" y1="111.2" x2="550.3" y2="111.2" stroke="#dd7f2a" stroke-width="1.9"/>
<line x1="577.9" y1="111.2" x2="602.2" y2="111.2" stroke="#ff1212" stroke-width="1.9"/>
<line x1="526" y1="124.2" x2="550.3" y2="124.2" stroke="#939393" stroke-width="1.9"/>
<rect x="578.4" y="118.3" width="23.2" height="11" fill="#cfcfcf"/>
<text x="555.2" y="101.9" font-size="10.3" text-anchor="start" fill="#000">C</text>
<text x="607.2" y="101.9" font-size="10.3" text-anchor="start" fill="#000">Si</text>
<text x="555.2" y="114.9" font-size="10.3" text-anchor="start" fill="#000">P</text>
<text x="607.2" y="114.9" font-size="10.3" text-anchor="start" fill="#000">O</text>
<text x="555.2" y="127.9" font-size="10.3" text-anchor="start" fill="#000">Li</text>
<text x="606.8" y="127.9" font-size="10.3" text-anchor="start" fill="#000">0.5 ≤ x ≤ 1.5</text>
<defs>
<clipPath id="cc"><rect x="63" y="289.7" width="252.8" height="204.3"/></clipPath>
</defs>
<line x1="113.56" y1="289.7" x2="113.56" y2="494" stroke="#d9d9d9" stroke-width="0.9" stroke-dasharray="1,1.2"/>
<line x1="164.12" y1="289.7" x2="164.12" y2="494" stroke="#d9d9d9" stroke-width="0.9" stroke-dasharray="1,1.2"/>
<line x1="214.68" y1="289.7" x2="214.68" y2="494" stroke="#d9d9d9" stroke-width="0.9" stroke-dasharray="1,1.2"/>
<line x1="265.24" y1="289.7" x2="265.24" y2="494" stroke="#d9d9d9" stroke-width="0.9" stroke-dasharray="1,1.2"/>
<line x1="63" y1="466.76" x2="315.8" y2="466.76" stroke="#d9d9d9" stroke-width="0.9" stroke-dasharray="1,1.2"/>
<line x1="63" y1="439.52" x2="315.8" y2="439.52" stroke="#d9d9d9" stroke-width="0.9" stroke-dasharray="1,1.2"/>
<line x1="63" y1="412.28" x2="315.8" y2="412.28" stroke="#d9d9d9" stroke-width="0.9" stroke-dasharray="1,1.2"/>
<line x1="63" y1="385.04" x2="315.8" y2="385.04" stroke="#d9d9d9" stroke-width="0.9" stroke-dasharray="1,1.2"/>
<line x1="63" y1="357.8" x2="315.8" y2="357.8" stroke="#d9d9d9" stroke-width="0.9" stroke-dasharray="1,1.2"/>
<line x1="63" y1="330.56" x2="315.8" y2="330.56" stroke="#d9d9d9" stroke-width="0.9" stroke-dasharray="1,1.2"/>
<line x1="63" y1="303.32" x2="315.8" y2="303.32" stroke="#d9d9d9" stroke-width="0.9" stroke-dasharray="1,1.2"/>
<polyline points="63,480.3 63.1,480.78 63.2,481.16 63.31,481.52 63.41,481.85 63.51,482.16 63.61,482.46 63.71,482.75 63.82,483.05 63.92,483.37 64.02,483.63 64.12,483.91 64.23,484.19 64.33,484.55 64.43,484.93 64.53,485.36 64.63,485.83 64.74,486.26 64.84,486.64 64.94,487.01 65.04,487.36 65.14,487.61 65.25,487.78 65.35,487.88 65.45,487.9 65.55,487.84 65.66,487.81 65.76,487.83 65.86,487.85 65.96,487.84 66.06,487.82 66.17,487.84 66.27,487.87 66.37,487.96 66.47,488.08 66.57,488.2 66.68,488.27 66.78,488.37 66.88,488.57 66.98,488.81 67.09,489.02 67.19,489.16 67.29,489.12 67.39,488.95 67.49,488.7 67.6,488.47 67.7,488.29 67.8,488.23 67.9,488.28 68,488.41 68.11,488.6 68.21,488.79 68.31,488.95 68.41,489.06 68.52,489.12 68.62,489.13 68.72,489.06 68.82,489.05 68.92,489.06 69.03,489.07 69.13,489.11 69.23,489.12 69.33,489.09 69.43,489.03 69.54,488.98 69.64,488.91 69.74,488.83 69.84,488.74 69.95,488.69 70.05,488.63 70.15,488.62 70.25,488.71 70.35,488.86 70.46,488.98 70.56,489.12 70.66,489.21 70.76,489.24 70.86,489.24 70.97,489.24 71.07,489.29 71.17,489.38 71.27,489.47 71.38,489.48 71.48,489.35 71.58,489.16 71.68,489.02 71.78,488.95 71.89,489.01 71.99,489.03 72.09,488.99 72.19,488.97 72.29,489.02 72.4,489.11 72.5,489.24 72.6,489.34 72.7,489.39 72.81,489.38 72.91,489.36 73.01,489.4 73.11,489.45 73.87,489.53 74.77,489.59 75.67,489.56 76.57,489.48 77.47,489.35 78.37,489.2 79.27,489.02 80.17,488.93 81.07,488.97 81.96,489.06 82.86,489.17 83.76,489.22 84.66,489.15 85.56,489.16 86.46,489.27 87.36,489.45 88.26,489.61 89.16,489.7 90.06,489.69 90.96,489.55 91.86,489.41 92.76,489.3 93.66,489.3 94.56,489.46 95.46,489.69 96.35,489.96 97.25,490.12 98.15,490.09 99.05,489.9 99.95,489.61 100.85,489.32 101.75,489.07 102.65,488.97 103.55,489.04 104.45,489.23 105.35,489.54 106.25,489.84 107.15,490.07 108.05,490.17 108.95,490.17 109.85,490.12 110.74,490.05 111.64,490.04 112.54,490.04 113.44,489.97 114.34,489.83 115.24,489.66 116.14,489.51 117.04,489.43 117.94,489.33 118.84,489.16 119.74,488.94 120.64,488.75 121.54,488.69 122.44,488.79 123.34,488.97 124.23,489.16 125.13,489.25 126.03,489.35 126.93,489.46 127.83,489.62 128.73,489.82 129.63,490 130.53,490.06 131.43,490 132.33,489.85 133.23,489.67 134.13,489.49 135.03,489.41 135.93,489.42 136.83,489.52 137.73,489.65 138.62,489.76 139.52,489.8 140.42,489.81 141.32,489.76 142.22,489.75 143.12,489.78 144.02,489.86 144.92,489.94 145.82,490.02 146.72,490.06 147.62,490.09 148.52,490.1 149.42,490.11 150.32,490.1 151.22,490.07 152.12,490 153.01,489.96 153.91,489.94 154.81,490 155.71,490.02 156.61,489.98 157.51,489.95 158.41,489.89 159.31,489.84 160.21,489.81 161.11,489.73 162.01,489.63 162.91,489.46 163.81,489.36 164.71,489.33 165.61,489.33 166.51,489.43 167.4,489.52 168.3,489.62 169.2,489.73 170.1,489.82 171,489.86 171.9,489.83 172.8,489.72 173.7,489.54 174.6,489.39 175.5,489.38 176.4,489.47 177.3,489.66 178.2,489.87 179.1,490.1 180,490.28 180.9,490.43 181.79,490.57 182.69,490.66 183.59,490.71 184.49,490.66 185.39,490.46 186.29,490.13 187.19,489.75 188.09,489.53 188.99,489.49 189.89,489.63 190.79,489.85 191.69,490 192.59,490.02 193.49,489.94 194.39,489.91 195.28,489.93 196.18,490.02 197.08,490.18 197.98,490.25 198.88,490.15 199.78,489.97 200.68,489.71 201.58,489.46 202.48,489.29 203.38,489.22 204.28,489.21 205.18,489.2 206.08,489.2 206.98,489.19 207.88,489.17 208.78,489.15 209.67,489.14 210.57,489.19 211.47,489.29 212.37,489.32 213.27,489.4 214.17,489.48 215.07,489.57 215.97,489.69 216.87,489.8 217.77,489.87 218.67,489.91 219.57,489.88 220.47,489.88 221.37,489.92 222.27,490.05 223.17,490.19 224.06,490.3 224.96,490.35 225.86,490.24 226.76,490.02 227.66,489.85 228.56,489.71 229.46,489.62 230.36,489.58 231.26,489.54 232.16,489.55 233.06,489.6 233.96,489.69 234.86,489.79 235.76,489.84 236.66,489.81 237.56,489.75 238.45,489.72 239.35,489.76 240.25,489.83 241.15,489.94 242.05,490.02 242.95,490.07 243.85,490.12 244.75,490.16 245.65,490.2 246.55,490.26 247.45,490.32 248.35,490.33 249.25,490.17 250.15,490.02 251.05,489.76 251.94,489.53 252.84,489.44 253.74,489.55 254.64,489.8 255.54,490.05 256.44,490.27 257.34,490.37 258.24,490.26 259.14,490.07 260.04,489.78 260.94,489.58 261.84,489.45 262.74,489.43 263.64,489.52 264.54,489.67 265.44,489.82 266.33,489.88 267.23,489.87 268.13,489.81 269.03,489.66 269.93,489.57 270.83,489.5 271.73,489.55 272.63,489.75 273.53,490.01 274.43,490.12 275.33,490.05 276.23,489.81 277.13,489.51 278.03,489.26 278.93,489.21 279.83,489.25 280.72,489.36 281.62,489.43 282.52,489.45 283.42,489.43 284.32,489.44 285.22,489.49 286.12,489.61 287.02,489.78 287.92,490.07 288.82,490.31 289.72,490.48 290.62,490.56 291.52,490.43 292.42,490.18 293.32,489.89 294.22,489.74 295.11,489.73 296.01,489.84 296.91,490.02 297.81,490.05 298.71,489.85 299.61,489.55 300.51,489.33 301.41,489.31 302.31,489.52 303.21,489.84 304.11,490.06 305.01,490.06 305.91,489.98 306.81,489.9 307.71,489.91 308.61,489.99 309.5,490.06 310.4,490.05 311.3,489.98 312.2,489.87 313.1,489.79 314,489.72 314.9,489.7 315.8,489.7" fill="none" stroke="#3fc472" stroke-width="1.7" stroke-linejoin="round" clip-path="url(#cc)"/>
<polyline points="63,472.17 63.1,472.97 63.2,473.66 63.31,474.35 63.41,475 63.51,475.67 63.61,476.24 63.71,476.76 63.82,477.22 63.92,477.63 64.02,477.92 64.12,478.09 64.23,478.21 64.33,478.29 64.43,478.31 64.53,478.45 64.63,478.65 64.74,478.96 64.84,479.31 64.94,479.65 65.04,479.96 65.14,480.18 65.25,480.35 65.35,480.46 65.45,480.48 65.55,480.48 65.66,480.43 65.76,480.35 65.86,480.28 65.96,480.28 66.06,480.43 66.17,480.67 66.27,480.94 66.37,481.21 66.47,481.4 66.57,481.6 66.68,481.8 66.78,482.05 66.88,482.28 66.98,482.44 67.09,482.56 67.19,482.64 67.29,482.63 67.39,482.56 67.49,482.45 67.6,482.28 67.7,482.11 67.8,482.02 67.9,482.07 68,482.27 68.11,482.46 68.21,482.66 68.31,482.78 68.41,482.76 68.52,482.79 68.62,482.85 68.72,482.98 68.82,483.17 68.92,483.28 69.03,483.35 69.13,483.32 69.23,483.21 69.33,483.07 69.43,482.88 69.54,482.75 69.64,482.77 69.74,482.88 69.84,483.01 69.95,483.05 70.05,482.98 70.15,482.83 70.25,482.65 70.35,482.63 70.46,482.77 70.56,483.04 70.66,483.27 70.76,483.39 70.86,483.33 70.97,483.11 71.07,482.97 71.17,482.98 71.27,483.12 71.38,483.33 71.48,483.39 71.58,483.32 71.68,483.19 71.78,483.1 71.89,483.08 71.99,483.08 72.09,483.09 72.19,483.02 72.29,482.98 72.4,483.05 72.5,483.17 72.6,483.32 72.7,483.43 72.81,483.47 72.91,483.51 73.01,483.57 73.11,483.73 73.87,483.93 74.77,484.14 75.67,484.21 76.57,484.15 77.47,484.05 78.37,483.92 79.27,483.81 80.17,483.76 81.07,483.71 81.96,483.66 82.86,483.61 83.76,483.58 84.66,483.57 85.56,483.6 86.46,483.57 87.36,483.53 88.26,483.55 89.16,483.67 90.06,483.84 90.96,483.98 91.86,484.07 92.76,483.99 93.66,483.81 94.56,483.63 95.46,483.42 96.35,483.26 97.25,483.16 98.15,483.14 99.05,483.18 99.95,483.23 100.85,483.31 101.75,483.33 102.65,483.35 103.55,483.38 104.45,483.44 105.35,483.52 106.25,483.58 107.15,483.56 108.05,483.42 108.95,483.2 109.85,483.07 110.74,483.08 111.64,483.3 112.54,483.55 113.44,483.74 114.34,483.74 115.24,483.58 116.14,483.41 117.04,483.3 117.94,483.35 118.84,483.49 119.74,483.61 120.64,483.66 121.54,483.52 122.44,483.33 123.34,483.17 124.23,483.1 125.13,483.21 126.03,483.4 126.93,483.55 127.83,483.58 128.73,483.44 129.63,483.2 130.53,482.89 131.43,482.67 132.33,482.62 133.23,482.65 134.13,482.7 135.03,482.75 135.93,482.77 136.83,482.8 137.73,482.83 138.62,482.89 139.52,482.94 140.42,482.89 141.32,482.85 142.22,482.88 143.12,482.96 144.02,483.15 144.92,483.37 145.82,483.55 146.72,483.68 147.62,483.77 148.52,483.84 149.42,483.8 150.32,483.65 151.22,483.42 152.12,483.09 153.01,482.75 153.91,482.52 154.81,482.44 155.71,482.55 156.61,482.74 157.51,482.98 158.41,483.11 159.31,483.08 160.21,483.02 161.11,482.91 162.01,482.8 162.91,482.78 163.81,482.72 164.71,482.71 165.61,482.68 166.51,482.81 167.4,482.98 168.3,483.18 169.2,483.44 170.1,483.62 171,483.67 171.9,483.66 172.8,483.41 173.7,483.07 174.6,482.73 175.5,482.55 176.4,482.46 177.3,482.47 178.2,482.5 179.1,482.52 180,482.56 180.9,482.63 181.79,482.65 182.69,482.64 183.59,482.5 184.49,482.35 185.39,482.23 186.29,482.2 187.19,482.23 188.09,482.26 188.99,482.27 189.89,482.23 190.79,482.11 191.69,482.08 192.59,482.12 193.49,482.27 194.39,482.59 195.28,482.89 196.18,483.1 197.08,483.2 197.98,483.24 198.88,483.24 199.78,483.23 200.68,483.18 201.58,483.13 202.48,483 203.38,482.95 204.28,482.91 205.18,482.91 206.08,482.92 206.98,482.95 207.88,482.92 208.78,482.85 209.67,482.79 210.57,482.77 211.47,482.76 212.37,482.81 213.27,482.85 214.17,482.88 215.07,482.85 215.97,482.77 216.87,482.62 217.77,482.42 218.67,482.35 219.57,482.44 220.47,482.69 221.37,483.06 222.27,483.34 223.17,483.44 224.06,483.21 224.96,482.82 225.86,482.53 226.76,482.48 227.66,482.72 228.56,483.12 229.46,483.46 230.36,483.55 231.26,483.44 232.16,483.24 233.06,483.04 233.96,482.87 234.86,482.76 235.76,482.7 236.66,482.73 237.56,482.8 238.45,482.95 239.35,482.98 240.25,482.99 241.15,482.97 242.05,482.93 242.95,482.92 243.85,483.02 244.75,483.13 245.65,483.29 246.55,483.36 247.45,483.41 248.35,483.3 249.25,483.14 250.15,482.99 251.05,482.85 251.94,482.71 252.84,482.63 253.74,482.55 254.64,482.49 255.54,482.51 256.44,482.69 257.34,482.84 258.24,482.91 259.14,482.88 260.04,482.73 260.94,482.56 261.84,482.46 262.74,482.43 263.64,482.44 264.54,482.45 265.44,482.41 266.33,482.35 267.23,482.29 268.13,482.17 269.03,482.08 269.93,482.09 270.83,482.17 271.73,482.34 272.63,482.57 273.53,482.81 274.43,482.97 275.33,483.06 276.23,483.11 277.13,483.13 278.03,483.12 278.93,483.15 279.83,483.12 280.72,483.01 281.62,482.91 282.52,482.74 283.42,482.55 284.32,482.37 285.22,482.27 286.12,482.28 287.02,482.39 287.92,482.54 288.82,482.67 289.72,482.6 290.62,482.45 291.52,482.32 292.42,482.2 293.32,482.16 294.22,482.24 295.11,482.37 296.01,482.48 296.91,482.53 297.81,482.57 298.71,482.56 299.61,482.56 300.51,482.69 301.41,482.85 302.31,483.02 303.21,483.12 304.11,483.22 305.01,483.27 305.91,483.26 306.81,483.28 307.71,483.27 308.61,483.23 309.5,483.16 310.4,483.07 311.3,483.03 312.2,483.01 313.1,483.04 314,483.02 314.9,482.94 315.8,482.85" fill="none" stroke="#dd7f2a" stroke-width="1.7" stroke-linejoin="round" clip-path="url(#cc)"/>
<polyline points="63,409.52 63.1,411.94 63.2,414.34 63.31,416.67 63.41,418.81 63.51,420.64 63.61,422.28 63.71,423.85 63.82,425.41 63.92,426.95 64.02,428.44 64.12,429.87 64.23,431.23 64.33,432.54 64.43,433.86 64.53,435.14 64.63,436.39 64.74,437.52 64.84,438.51 64.94,439.38 65.04,440.09 65.14,440.77 65.25,441.43 65.35,442.05 65.45,442.67 65.55,443.28 65.66,443.91 65.76,444.54 65.86,445.18 65.96,445.84 66.06,446.44 66.17,446.96 66.27,447.43 66.37,447.87 66.47,448.3 66.57,448.74 66.68,449.17 66.78,449.57 66.88,449.88 66.98,450.1 67.09,450.29 67.19,450.56 67.29,450.91 67.39,451.37 67.49,451.86 67.6,452.35 67.7,452.76 67.8,453.1 67.9,453.36 68,453.55 68.11,453.7 68.21,453.86 68.31,454.06 68.41,454.29 68.52,454.54 68.62,454.81 68.72,455.11 68.82,455.4 68.92,455.68 69.03,455.88 69.13,455.98 69.23,456.03 69.33,456.1 69.43,456.21 69.54,456.36 69.64,456.55 69.74,456.76 69.84,456.95 69.95,457.13 70.05,457.28 70.15,457.39 70.25,457.44 70.35,457.44 70.46,457.4 70.56,457.37 70.66,457.36 70.76,457.35 70.86,457.38 70.97,457.45 71.07,457.55 71.17,457.65 71.27,457.76 71.38,457.87 71.48,457.94 71.58,458.06 71.68,458.19 71.78,458.35 71.89,458.52 71.99,458.67 72.09,458.82 72.19,458.97 72.29,459.12 72.4,459.24 72.5,459.29 72.6,459.32 72.7,459.29 72.81,459.25 72.91,459.22 73.01,459.17 73.11,459.11 73.87,459.32 74.77,459.56 75.67,459.84 76.57,460.14 77.47,460.44 78.37,460.68 79.27,460.86 80.17,460.96 81.07,460.97 81.96,460.98 82.86,460.97 83.76,460.97 84.66,460.96 85.56,460.98 86.46,461 87.36,461 88.26,461.01 89.16,461.05 90.06,461.11 90.96,461.21 91.86,461.33 92.76,461.43 93.66,461.5 94.56,461.51 95.46,461.48 96.35,461.39 97.25,461.26 98.15,461.14 99.05,461.1 99.95,461.15 100.85,461.27 101.75,461.41 102.65,461.47 103.55,461.44 104.45,461.29 105.35,461.12 106.25,460.97 107.15,460.88 108.05,460.82 108.95,460.79 109.85,460.82 110.74,460.88 111.64,460.98 112.54,461.13 113.44,461.28 114.34,461.38 115.24,461.42 116.14,461.43 117.04,461.38 117.94,461.36 118.84,461.35 119.74,461.36 120.64,461.39 121.54,461.43 122.44,461.47 123.34,461.52 124.23,461.57 125.13,461.63 126.03,461.69 126.93,461.76 127.83,461.78 128.73,461.78 129.63,461.76 130.53,461.77 131.43,461.82 132.33,461.85 133.23,461.83 134.13,461.76 135.03,461.64 135.93,461.51 136.83,461.4 137.73,461.37 138.62,461.41 139.52,461.49 140.42,461.58 141.32,461.64 142.22,461.64 143.12,461.6 144.02,461.52 144.92,461.44 145.82,461.37 146.72,461.33 147.62,461.37 148.52,461.45 149.42,461.59 150.32,461.72 151.22,461.81 152.12,461.83 153.01,461.81 153.91,461.75 154.81,461.67 155.71,461.62 156.61,461.62 157.51,461.67 158.41,461.74 159.31,461.81 160.21,461.88 161.11,461.92 162.01,461.97 162.91,462.02 163.81,462.1 164.71,462.19 165.61,462.29 166.51,462.43 167.4,462.58 168.3,462.68 169.2,462.76 170.1,462.76 171,462.69 171.9,462.59 172.8,462.52 173.7,462.52 174.6,462.57 175.5,462.67 176.4,462.81 177.3,462.9 178.2,462.97 179.1,463.05 180,463.15 180.9,463.27 181.79,463.39 182.69,463.45 183.59,463.45 184.49,463.45 185.39,463.51 186.29,463.65 187.19,463.82 188.09,463.93 188.99,463.96 189.89,463.92 190.79,463.88 191.69,463.87 192.59,463.91 193.49,463.98 194.39,463.98 195.28,463.95 196.18,463.89 197.08,463.86 197.98,463.89 198.88,463.99 199.78,464.12 200.68,464.23 201.58,464.28 202.48,464.31 203.38,464.34 204.28,464.46 205.18,464.6 206.08,464.77 206.98,464.88 207.88,464.91 208.78,464.9 209.67,464.9 210.57,465 211.47,465.13 212.37,465.25 213.27,465.34 214.17,465.36 215.07,465.32 215.97,465.23 216.87,465.18 217.77,465.2 218.67,465.24 219.57,465.36 220.47,465.5 221.37,465.58 222.27,465.63 223.17,465.66 224.06,465.71 224.96,465.77 225.86,465.83 226.76,465.85 227.66,465.86 228.56,465.9 229.46,466.05 230.36,466.25 231.26,466.43 232.16,466.58 233.06,466.63 233.96,466.65 234.86,466.69 235.76,466.74 236.66,466.79 237.56,466.83 238.45,466.87 239.35,466.9 240.25,466.93 241.15,466.99 242.05,467.05 242.95,467.16 243.85,467.27 244.75,467.38 245.65,467.48 246.55,467.53 247.45,467.54 248.35,467.52 249.25,467.52 250.15,467.55 251.05,467.62 251.94,467.71 252.84,467.82 253.74,467.91 254.64,467.97 255.54,468 256.44,468.01 257.34,467.99 258.24,467.94 259.14,467.88 260.04,467.83 260.94,467.8 261.84,467.8 262.74,467.86 263.64,467.98 264.54,468.15 265.44,468.3 266.33,468.42 267.23,468.48 268.13,468.51 269.03,468.53 269.93,468.55 270.83,468.55 271.73,468.5 272.63,468.46 273.53,468.47 274.43,468.53 275.33,468.68 276.23,468.86 277.13,469.02 278.03,469.15 278.93,469.23 279.83,469.26 280.72,469.24 281.62,469.18 282.52,469.12 283.42,469.09 284.32,469.14 285.22,469.25 286.12,469.4 287.02,469.52 287.92,469.59 288.82,469.6 289.72,469.6 290.62,469.6 291.52,469.64 292.42,469.72 293.32,469.83 294.22,469.92 295.11,469.98 296.01,470.01 296.91,470.02 297.81,470.02 298.71,470.03 299.61,470.07 300.51,470.1 301.41,470.11 302.31,470.1 303.21,470.09 304.11,470.1 305.01,470.12 305.91,470.14 306.81,470.16 307.71,470.2 308.61,470.26 309.5,470.33 310.4,470.39 311.3,470.46 312.2,470.51 313.1,470.59 314,470.68 314.9,470.73 315.8,470.66" fill="none" stroke="#a3a3a3" stroke-width="1.7" stroke-linejoin="round" clip-path="url(#cc)"/>
<polyline points="63,452.69 63.1,451.35 63.2,449.94 63.31,448.59 63.41,447.3 63.51,446.21 63.61,445.2 63.71,444.37 63.82,443.79 63.92,443.57 64.02,443.72 64.12,443.98 64.23,444.1 64.33,444.01 64.43,443.71 64.53,443.31 64.63,442.96 64.74,442.71 64.84,442.62 64.94,442.7 65.04,442.92 65.14,443.21 65.25,443.43 65.35,443.49 65.45,443.48 65.55,443.32 65.66,443.27 65.76,443.33 65.86,443.53 65.96,443.83 66.06,444 66.17,444.08 66.27,443.89 66.37,443.55 66.47,443.14 66.57,442.79 66.68,442.5 66.78,442.33 66.88,442.24 66.98,442.25 67.09,442.2 67.19,442.23 67.29,442.29 67.39,442.68 67.49,443.33 67.6,444.18 67.7,444.94 67.8,445.3 67.9,445.24 68,444.97 68.11,444.77 68.21,444.78 68.31,445.01 68.41,445.27 68.52,445.56 68.62,445.76 68.72,445.96 68.82,446.12 68.92,446.28 69.03,446.46 69.13,446.63 69.23,446.8 69.33,446.87 69.43,446.77 69.54,446.56 69.64,446.28 69.74,446.19 69.84,446.43 69.95,446.91 70.05,447.44 70.15,447.84 70.25,448.03 70.35,447.96 70.46,447.81 70.56,447.69 70.66,447.55 70.76,447.33 70.86,447.12 70.97,446.88 71.07,446.73 71.17,446.74 71.27,446.76 71.38,446.84 71.48,446.96 71.58,447.06 71.68,447.29 71.78,447.58 71.89,447.95 71.99,448.19 72.09,448.37 72.19,448.5 72.29,448.47 72.4,448.32 72.5,448.09 72.6,447.73 72.7,447.27 72.81,446.89 72.91,446.8 73.01,446.95 73.11,447.21 73.87,447.82 74.77,448.47 75.67,449.18 76.57,449.91 77.47,450.66 78.37,451.38 79.27,451.96 80.17,452.25 81.07,452.3 81.96,452.29 82.86,452.34 83.76,452.46 84.66,452.7 85.56,452.88 86.46,452.9 87.36,452.74 88.26,452.51 89.16,452.39 90.06,452.44 90.96,452.5 91.86,452.65 92.76,452.82 93.66,453.15 94.56,453.51 95.46,453.88 96.35,454.21 97.25,454.51 98.15,454.77 99.05,455.02 99.95,455.2 100.85,455.29 101.75,455.11 102.65,454.78 103.55,454.38 104.45,454.06 105.35,453.8 106.25,453.74 107.15,453.89 108.05,454.2 108.95,454.55 109.85,454.91 110.74,455.06 111.64,455 112.54,454.69 113.44,454.31 114.34,453.94 115.24,453.79 116.14,453.77 117.04,453.89 117.94,454.04 118.84,454.31 119.74,454.45 120.64,454.56 121.54,454.54 122.44,454.45 123.34,454.33 124.23,454.26 125.13,454.23 126.03,454.39 126.93,454.71 127.83,455.13 128.73,455.42 129.63,455.57 130.53,455.47 131.43,455.26 132.33,455.12 133.23,454.94 134.13,454.66 135.03,454.35 135.93,454.2 136.83,454.17 137.73,454.34 138.62,454.54 139.52,454.55 140.42,454.39 141.32,454.17 142.22,454.09 143.12,454.35 144.02,454.79 144.92,455.38 145.82,455.85 146.72,456.05 147.62,455.98 148.52,455.7 149.42,455.44 150.32,455.31 151.22,455.28 152.12,455.44 153.01,455.6 153.91,455.62 154.81,455.55 155.71,455.46 156.61,455.5 157.51,455.7 158.41,455.91 159.31,456.22 160.21,456.46 161.11,456.59 162.01,456.59 162.91,456.56 163.81,456.44 164.71,456.26 165.61,456 166.51,455.69 167.4,455.32 168.3,455.21 169.2,455.34 170.1,455.73 171,456.11 171.9,456.32 172.8,456.13 173.7,455.79 174.6,455.68 175.5,455.82 176.4,456.17 177.3,456.55 178.2,456.79 179.1,456.68 180,456.33 180.9,456.03 181.79,455.76 182.69,455.72 183.59,455.8 184.49,455.82 185.39,455.82 186.29,455.75 187.19,455.75 188.09,455.85 188.99,456.06 189.89,456.41 190.79,456.65 191.69,456.89 192.59,457.09 193.49,457.04 194.39,456.75 195.28,456.34 196.18,455.81 197.08,455.29 197.98,454.99 198.88,454.9 199.78,455.11 200.68,455.47 201.58,455.92 202.48,456.38 203.38,456.83 204.28,457.32 205.18,457.8 206.08,458.09 206.98,458.26 207.88,458.18 208.78,458.02 209.67,457.78 210.57,457.44 211.47,457.13 212.37,456.85 213.27,456.67 214.17,456.62 215.07,456.7 215.97,456.86 216.87,456.99 217.77,457.11 218.67,457.24 219.57,457.4 220.47,457.56 221.37,457.57 222.27,457.49 223.17,457.25 224.06,457.07 224.96,456.99 225.86,457.06 226.76,457.25 227.66,457.39 228.56,457.52 229.46,457.62 230.36,457.69 231.26,457.83 232.16,458.09 233.06,458.45 233.96,458.68 234.86,458.6 235.76,458.32 236.66,457.76 237.56,457.13 238.45,456.68 239.35,456.56 240.25,456.62 241.15,456.9 242.05,457.14 242.95,457.13 243.85,456.77 244.75,456.24 245.65,455.85 246.55,455.73 247.45,455.98 248.35,456.42 249.25,456.82 250.15,457.19 251.05,457.32 251.94,457.52 252.84,457.76 253.74,457.96 254.64,458.04 255.54,457.94 256.44,457.8 257.34,457.69 258.24,457.52 259.14,457.52 260.04,457.46 260.94,457.41 261.84,457.34 262.74,457.25 263.64,457.22 264.54,457.16 265.44,457.06 266.33,457.1 267.23,457.26 268.13,457.56 269.03,457.96 269.93,458.18 270.83,458.21 271.73,458.01 272.63,457.72 273.53,457.55 274.43,457.48 275.33,457.47 276.23,457.48 277.13,457.43 278.03,457.51 278.93,457.66 279.83,457.89 280.72,458.1 281.62,458.3 282.52,458.4 283.42,458.32 284.32,458.04 285.22,457.73 286.12,457.43 287.02,457.44 287.92,457.71 288.82,458.2 289.72,458.51 290.62,458.57 291.52,458.37 292.42,458.09 293.32,457.76 294.22,457.53 295.11,457.35 296.01,457.37 296.91,457.63 297.81,458.14 298.71,458.83 299.61,459.42 300.51,459.69 301.41,459.64 302.31,459.3 303.21,458.94 304.11,458.68 305.01,458.67 305.91,458.74 306.81,458.77 307.71,458.72 308.61,458.56 309.5,458.32 310.4,458.13 311.3,457.94 312.2,457.84 313.1,457.73 314,457.66 314.9,457.67 315.8,457.8" fill="none" stroke="#4272ad" stroke-width="1.7" stroke-linejoin="round" clip-path="url(#cc)"/>
<polyline points="63,85.11 63.1,124.29 63.2,161.77 63.31,195.05 63.41,225.96 63.51,252.93 63.61,276.55 63.71,296.98 63.82,315.13 63.92,331.3 64.02,344.64 64.12,357.16 64.23,366.4 64.33,369.92 64.43,372.23 64.53,373.87 64.63,375.07 64.74,376.77 64.84,378.11 64.94,379.24 65.04,380.55 65.14,382.28 65.25,383.81 65.35,385.31 65.45,387.02 65.55,388.15 65.66,389.82 65.76,390.7 65.86,391.67 65.96,393.17 66.06,394.32 66.17,395.1 66.27,395.68 66.37,396.29 66.47,396.8 66.57,397.73 66.68,398.95 66.78,399.86 66.88,400.35 66.98,401.27 67.09,402.86 67.19,403.86 67.29,404.94 67.39,405.82 67.49,406.59 67.6,407.09 67.7,407.48 67.8,408.1 67.9,408.47 68,408.8 68.11,409.78 68.21,410.17 68.31,410.19 68.41,410.11 68.52,410.41 68.62,410.3 68.72,410.59 68.82,410.55 68.92,410.93 69.03,410.83 69.13,410.92 69.23,410.9 69.33,410.72 69.43,410.93 69.54,411.44 69.64,411.52 69.74,412.15 69.84,411.89 69.95,411.61 70.05,411.91 70.15,411.88 70.25,412 70.35,411.92 70.46,412.23 70.56,412.12 70.66,412.33 70.76,412.39 70.86,412.54 70.97,412.91 71.07,413.42 71.17,412.9 71.27,413.1 71.38,413.14 71.48,412.39 71.58,412.42 71.68,412.35 71.78,412.22 71.89,412.46 71.99,412.8 72.09,412.33 72.19,412.25 72.29,412.08 72.4,412.27 72.5,412.01 72.6,411.77 72.7,411.91 72.81,411.96 72.91,412.05 73.01,412.51 73.11,412.46 73.87,416.42 74.77,415.27 75.67,417.29 76.57,419.13 77.47,419.4 78.37,420.22 79.27,420.78 80.17,421.7 81.07,422.07 81.96,420.47 82.86,422.01 83.76,420.43 84.66,420.04 85.56,420.33 86.46,421.89 87.36,422.47 88.26,420.24 89.16,422.28 90.06,423.61 90.96,424.09 91.86,423.75 92.76,423.47 93.66,424.81 94.56,423.72 95.46,423.91 96.35,422.65 97.25,421.48 98.15,421.79 99.05,420.9 99.95,421.89 100.85,422.84 101.75,422.65 102.65,423.99 103.55,422.54 104.45,422.17 105.35,420.4 106.25,420.35 107.15,418.87 108.05,420.13 108.95,420.83 109.85,420.05 110.74,423.99 111.64,422.34 112.54,423.68 113.44,421.72 114.34,421.86 115.24,422.65 116.14,423.5 117.04,424.52 117.94,422.24 118.84,423.6 119.74,424.56 120.64,426.13 121.54,425.34 122.44,426.2 123.34,425.81 124.23,425.23 125.13,425.46 126.03,426.44 126.93,424.66 127.83,426.26 128.73,425.81 129.63,424.28 130.53,424.1 131.43,423.5 132.33,422.96 133.23,421.43 134.13,421.04 135.03,421.39 135.93,419.76 136.83,422.22 137.73,422.99 138.62,423.55 139.52,425.58 140.42,423.83 141.32,426.91 142.22,425.57 143.12,424.15 144.02,422.38 144.92,423.55 145.82,424.65 146.72,422.57 147.62,423.98 148.52,423.18 149.42,421.73 150.32,422 151.22,421.01 152.12,419.88 153.01,420.01 153.91,419.24 154.81,419.52 155.71,418.19 156.61,418.68 157.51,419.6 158.41,418.23 159.31,420.84 160.21,422.1 161.11,424.73 162.01,424.37 162.91,424.48 163.81,425.04 164.71,423.16 165.61,423.96 166.51,423.34 167.4,423.69 168.3,420.6 169.2,419.49 170.1,418.73 171,419.91 171.9,420.68 172.8,420.91 173.7,423.6 174.6,423.88 175.5,424.47 176.4,425.17 177.3,422.82 178.2,425.69 179.1,423.83 180,423.97 180.9,424.87 181.79,422.69 182.69,422.21 183.59,422.03 184.49,422.76 185.39,422.08 186.29,422 187.19,423.45 188.09,422.66 188.99,423.7 189.89,423.89 190.79,423.24 191.69,424.77 192.59,424.55 193.49,423.12 194.39,422.7 195.28,421.48 196.18,421.91 197.08,422.91 197.98,423.26 198.88,424.02 199.78,424.76 200.68,425.39 201.58,425.14 202.48,426.47 203.38,425.75 204.28,424.18 205.18,423.84 206.08,423.42 206.98,425.2 207.88,423.24 208.78,423.77 209.67,422.4 210.57,420.87 211.47,421.5 212.37,417.59 213.27,419.37 214.17,419.66 215.07,422.4 215.97,421.65 216.87,422.59 217.77,423.55 218.67,422.94 219.57,421.62 220.47,422.27 221.37,422.55 222.27,420.78 223.17,421.69 224.06,422.44 224.96,420.51 225.86,422.3 226.76,422.14 227.66,421.07 228.56,420.66 229.46,419.48 230.36,419.41 231.26,420.36 232.16,420.19 233.06,420.06 233.96,420.46 234.86,421.12 235.76,421.51 236.66,422.24 237.56,422.02 238.45,422.52 239.35,422.28 240.25,421.73 241.15,424.99 242.05,423.72 242.95,421.17 243.85,424.46 244.75,420.71 245.65,423.15 246.55,422.18 247.45,423.15 248.35,425.61 249.25,429.28 250.15,429.61 251.05,428.37 251.94,424.45 252.84,422.96 253.74,420.94 254.64,419.99 255.54,419.52 256.44,419.72 257.34,420.73 258.24,423.22 259.14,421.26 260.04,424.32 260.94,419.95 261.84,419.56 262.74,417.74 263.64,417.46 264.54,417.75 265.44,419.02 266.33,421.08 267.23,423.6 268.13,423.15 269.03,424.7 269.93,423.16 270.83,424.04 271.73,424.22 272.63,423.57 273.53,423.43 274.43,425.12 275.33,424.99 276.23,424.22 277.13,426.71 278.03,426.93 278.93,426.21 279.83,427.13 280.72,427.64 281.62,426.51 282.52,424.29 283.42,423.52 284.32,423.01 285.22,422.47 286.12,423.05 287.02,420.97 287.92,420.28 288.82,421.76 289.72,420.65 290.62,422.09 291.52,421.9 292.42,422.08 293.32,423.67 294.22,421.12 295.11,423.14 296.01,422.48 296.91,422.44 297.81,421.36 298.71,421.07 299.61,421.49 300.51,420.63 301.41,422.27 302.31,423.68 303.21,426.35 304.11,424.91 305.01,425.47 305.91,426.16 306.81,426.27 307.71,424.96 308.61,424.59 309.5,423.9 310.4,424.44 311.3,425.06 312.2,422.58 313.1,421.8 314,417.99 314.9,416.61 315.8,416.67" fill="none" stroke="#ff1212" stroke-width="1.7" stroke-linejoin="round" clip-path="url(#cc)"/>
<polyline points="63,403.39 63.1,400 63.2,396.73 63.31,393.69 63.41,390.52 63.51,387.71 63.61,385.09 63.71,382.34 63.82,379.72 63.92,377.36 64.02,375.49 64.12,373.39 64.23,371.25 64.33,369.59 64.43,367.42 64.53,365.63 64.63,364.43 64.74,362.76 64.84,361.61 64.94,360.3 65.04,359.28 65.14,358.17 65.25,357.01 65.35,355.89 65.45,355.1 65.55,354.31 65.66,353.68 65.76,352.83 65.86,352.27 65.96,351.5 66.06,351.12 66.17,350.66 66.27,350.25 66.37,349.68 66.47,349.45 66.57,349.28 66.68,348.92 66.78,348.77 66.88,348.83 66.98,348.72 67.09,348.36 67.19,348.38 67.29,347.94 67.39,348.03 67.49,347.76 67.6,347.74 67.7,347.38 67.8,347.02 67.9,346.78 68,346.57 68.11,346.09 68.21,346.09 68.31,346.05 68.41,346 68.52,345.9 68.62,345.65 68.72,345.66 68.82,345.4 68.92,345.33 69.03,345.01 69.13,345.02 69.23,344.82 69.33,344.71 69.43,344.63 69.54,344.28 69.64,344.03 69.74,343.95 69.84,343.58 69.95,343.25 70.05,343.59 70.15,343.64 70.25,343.94 70.35,343.82 70.46,343.84 70.56,343.59 70.66,343.55 70.76,343.6 70.86,343.4 70.97,343.49 71.07,343.41 71.17,343.11 71.27,342.93 71.38,342.54 71.48,342.39 71.58,342.27 71.68,342.09 71.78,342.2 71.89,342.03 71.99,342.4 72.09,342.12 72.19,342.18 72.29,342.02 72.4,341.82 72.5,341.53 72.6,341.53 72.7,341.61 72.81,341.62 72.91,341.78 73.01,341.71 73.11,342.01 73.87,340.9 74.77,340.26 75.67,339.41 76.57,338.8 77.47,338.08 78.37,337.36 79.27,337.63 80.17,337.06 81.07,336.94 81.96,336.76 82.86,336.58 83.76,337.02 84.66,336.89 85.56,336.54 86.46,337.08 87.36,336.78 88.26,336.47 89.16,336 90.06,335.49 90.96,335.3 91.86,334.29 92.76,334.91 93.66,334.74 94.56,334.42 95.46,334.52 96.35,334.91 97.25,335.06 98.15,335.22 99.05,335.6 99.95,335.49 100.85,335.94 101.75,335.64 102.65,336.18 103.55,336.01 104.45,336.17 105.35,335.49 106.25,336.07 107.15,336.05 108.05,336.76 108.95,336.9 109.85,337.42 110.74,337.92 111.64,337.65 112.54,338.36 113.44,337.36 114.34,336.18 115.24,336.49 116.14,335.56 117.04,335.71 117.94,335.12 118.84,335.81 119.74,335.54 120.64,336.39 121.54,337.38 122.44,337.5 123.34,337.8 124.23,337.55 125.13,337.11 126.03,337.32 126.93,337.21 127.83,336.69 128.73,335.99 129.63,336.25 130.53,335.1 131.43,334.99 132.33,335.87 133.23,335.11 134.13,336.34 135.03,336.47 135.93,336.27 136.83,336.92 137.73,336.53 138.62,335.75 139.52,335.4 140.42,335.1 141.32,335.54 142.22,336.14 143.12,336.83 144.02,337.41 144.92,338.1 145.82,337.93 146.72,337.89 147.62,337.8 148.52,336.62 149.42,337.29 150.32,336.48 151.22,336.55 152.12,335.85 153.01,335.4 153.91,334.96 154.81,334.69 155.71,335.41 156.61,334.62 157.51,335.7 158.41,336.44 159.31,336.95 160.21,336.01 161.11,336.14 162.01,336.37 162.91,335.6 163.81,334.85 164.71,334.54 165.61,334.07 166.51,333.53 167.4,333.23 168.3,333.76 169.2,334.69 170.1,334.62 171,335.75 171.9,335.44 172.8,334.76 173.7,334.91 174.6,334.75 175.5,334.76 176.4,334.62 177.3,335.26 178.2,336.35 179.1,336.36 180,338.07 180.9,338.12 181.79,337.06 182.69,336.7 183.59,336.2 184.49,335.12 185.39,334.23 186.29,333.48 187.19,333.92 188.09,334.18 188.99,334.39 189.89,334.3 190.79,334.25 191.69,334.34 192.59,333.96 193.49,334.52 194.39,334.31 195.28,334.42 196.18,334.32 197.08,333.43 197.98,333.66 198.88,333.77 199.78,333.66 200.68,334.16 201.58,333.82 202.48,333.64 203.38,333.4 204.28,333.79 205.18,333.32 206.08,332.81 206.98,333.66 207.88,333.63 208.78,333.96 209.67,335.09 210.57,334.28 211.47,333.99 212.37,333.46 213.27,332.94 214.17,333.24 215.07,333.57 215.97,333.53 216.87,333.79 217.77,333.26 218.67,333.69 219.57,332.43 220.47,333.14 221.37,332.94 222.27,332.98 223.17,332.83 224.06,332.48 224.96,332.15 225.86,332.68 226.76,332.72 227.66,332.74 228.56,334.05 229.46,334.64 230.36,334.18 231.26,334.59 232.16,334.38 233.06,334.47 233.96,333.75 234.86,333.01 235.76,332.46 236.66,332.14 237.56,332.34 238.45,332.21 239.35,332.79 240.25,332.38 241.15,333.45 242.05,333.8 242.95,333.84 243.85,333.91 244.75,333.52 245.65,333.51 246.55,333.65 247.45,332.77 248.35,333.78 249.25,333.98 250.15,334.07 251.05,333.73 251.94,333.06 252.84,332.44 253.74,332.74 254.64,332.29 255.54,332.72 256.44,332.23 257.34,332.98 258.24,332.6 259.14,332.42 260.04,333.16 260.94,332.76 261.84,332.75 262.74,332.88 263.64,332.59 264.54,332.5 265.44,333.32 266.33,334.26 267.23,334.75 268.13,334.72 269.03,334.48 269.93,334.42 270.83,334.38 271.73,334.07 272.63,334.65 273.53,334.16 274.43,333.83 275.33,332.47 276.23,333.19 277.13,332.65 278.03,332.65 278.93,333.32 279.83,333.12 280.72,332.82 281.62,332.2 282.52,332.64 283.42,332.06 284.32,332.11 285.22,332.38 286.12,332.39 287.02,331.91 287.92,332.02 288.82,331.99 289.72,332.24 290.62,332.23 291.52,332.88 292.42,332.87 293.32,333.09 294.22,332.79 295.11,333.25 296.01,332.78 296.91,332.55 297.81,332.4 298.71,332.33 299.61,332.79 300.51,333.01 301.41,333.08 302.31,333.45 303.21,333.73 304.11,333.14 305.01,331.8 305.91,331.51 306.81,330.99 307.71,331.16 308.61,330.9 309.5,331.22 310.4,332.12 311.3,331.67 312.2,331.66 313.1,331.72 314,330.99 314.9,331.19 315.8,331.13" fill="none" stroke="#111111" stroke-width="1.7" stroke-linejoin="round" clip-path="url(#cc)"/>
<rect x="63" y="289.7" width="252.8" height="204.3" fill="none" stroke="#111" stroke-width="1.7"/>
<line x1="63" y1="494" x2="63" y2="498" stroke="#111" stroke-width="1.3"/>
<line x1="113.56" y1="494" x2="113.56" y2="498" stroke="#111" stroke-width="1.3"/>
<line x1="164.12" y1="494" x2="164.12" y2="498" stroke="#111" stroke-width="1.3"/>
<line x1="214.68" y1="494" x2="214.68" y2="498" stroke="#111" stroke-width="1.3"/>
<line x1="265.24" y1="494" x2="265.24" y2="498" stroke="#111" stroke-width="1.3"/>
<line x1="315.8" y1="494" x2="315.8" y2="498" stroke="#111" stroke-width="1.3"/>
<line x1="88.28" y1="494" x2="88.28" y2="496.2" stroke="#111" stroke-width="1.3"/>
<line x1="138.84" y1="494" x2="138.84" y2="496.2" stroke="#111" stroke-width="1.3"/>
<line x1="189.4" y1="494" x2="189.4" y2="496.2" stroke="#111" stroke-width="1.3"/>
<line x1="239.96" y1="494" x2="239.96" y2="496.2" stroke="#111" stroke-width="1.3"/>
<line x1="290.52" y1="494" x2="290.52" y2="496.2" stroke="#111" stroke-width="1.3"/>
<text x="63" y="511.4" font-size="12.5" text-anchor="middle" fill="#000">0</text>
<text x="113.56" y="511.4" font-size="12.5" text-anchor="middle" fill="#000">10</text>
<text x="164.12" y="511.4" font-size="12.5" text-anchor="middle" fill="#000">20</text>
<text x="214.68" y="511.4" font-size="12.5" text-anchor="middle" fill="#000">30</text>
<text x="265.24" y="511.4" font-size="12.5" text-anchor="middle" fill="#000">40</text>
<text x="315.8" y="511.4" font-size="12.5" text-anchor="middle" fill="#000">50</text>
<line x1="59" y1="494" x2="63" y2="494" stroke="#111" stroke-width="1.3"/>
<line x1="59" y1="466.76" x2="63" y2="466.76" stroke="#111" stroke-width="1.3"/>
<line x1="59" y1="439.52" x2="63" y2="439.52" stroke="#111" stroke-width="1.3"/>
<line x1="59" y1="412.28" x2="63" y2="412.28" stroke="#111" stroke-width="1.3"/>
<line x1="59" y1="385.04" x2="63" y2="385.04" stroke="#111" stroke-width="1.3"/>
<line x1="59" y1="357.8" x2="63" y2="357.8" stroke="#111" stroke-width="1.3"/>
<line x1="59" y1="330.56" x2="63" y2="330.56" stroke="#111" stroke-width="1.3"/>
<line x1="59" y1="303.32" x2="63" y2="303.32" stroke="#111" stroke-width="1.3"/>
<line x1="60.8" y1="480.38" x2="63" y2="480.38" stroke="#111" stroke-width="1.3"/>
<line x1="60.8" y1="453.14" x2="63" y2="453.14" stroke="#111" stroke-width="1.3"/>
<line x1="60.8" y1="425.9" x2="63" y2="425.9" stroke="#111" stroke-width="1.3"/>
<line x1="60.8" y1="398.66" x2="63" y2="398.66" stroke="#111" stroke-width="1.3"/>
<line x1="60.8" y1="371.42" x2="63" y2="371.42" stroke="#111" stroke-width="1.3"/>
<line x1="60.8" y1="344.18" x2="63" y2="344.18" stroke="#111" stroke-width="1.3"/>
<line x1="60.8" y1="316.94" x2="63" y2="316.94" stroke="#111" stroke-width="1.3"/>
<line x1="60.8" y1="289.7" x2="63" y2="289.7" stroke="#111" stroke-width="1.3"/>
<text x="56" y="497.3" font-size="12.5" text-anchor="end" fill="#000">0</text>
<text x="56" y="470.06" font-size="12.5" text-anchor="end" fill="#000">2</text>
<text x="56" y="442.82" font-size="12.5" text-anchor="end" fill="#000">4</text>
<text x="56" y="415.58" font-size="12.5" text-anchor="end" fill="#000">6</text>
<text x="56" y="388.34" font-size="12.5" text-anchor="end" fill="#000">8</text>
<text x="56" y="361.1" font-size="12.5" text-anchor="end" fill="#000">10</text>
<text x="56" y="333.86" font-size="12.5" text-anchor="end" fill="#000">12</text>
<text x="56" y="306.62" font-size="12.5" text-anchor="end" fill="#000">14</text>
<line x1="311.8" y1="494" x2="315.8" y2="494" stroke="#111" stroke-width="1.3"/>
<line x1="311.8" y1="453.14" x2="315.8" y2="453.14" stroke="#111" stroke-width="1.3"/>
<line x1="311.8" y1="412.28" x2="315.8" y2="412.28" stroke="#111" stroke-width="1.3"/>
<line x1="311.8" y1="371.42" x2="315.8" y2="371.42" stroke="#111" stroke-width="1.3"/>
<line x1="311.8" y1="330.56" x2="315.8" y2="330.56" stroke="#111" stroke-width="1.3"/>
<line x1="311.8" y1="289.7" x2="315.8" y2="289.7" stroke="#111" stroke-width="1.3"/>
<line x1="313.6" y1="473.57" x2="315.8" y2="473.57" stroke="#111" stroke-width="1.3"/>
<line x1="313.6" y1="432.71" x2="315.8" y2="432.71" stroke="#111" stroke-width="1.3"/>
<line x1="313.6" y1="391.85" x2="315.8" y2="391.85" stroke="#111" stroke-width="1.3"/>
<line x1="313.6" y1="350.99" x2="315.8" y2="350.99" stroke="#111" stroke-width="1.3"/>
<line x1="313.6" y1="310.13" x2="315.8" y2="310.13" stroke="#111" stroke-width="1.3"/>
<text x="320.2" y="498" font-size="12.5" text-anchor="start" fill="#000">50</text>
<text x="320.2" y="457.14" font-size="12.5" text-anchor="start" fill="#000">60</text>
<text x="320.2" y="416.28" font-size="12.5" text-anchor="start" fill="#000">70</text>
<text x="320.2" y="375.42" font-size="12.5" text-anchor="start" fill="#000">80</text>
<text x="320.2" y="334.56" font-size="12.5" text-anchor="start" fill="#000">90</text>
<text x="320.2" y="293.7" font-size="12.5" text-anchor="start" fill="#000">100</text>
<text x="27.3" y="391.2" font-size="17.3" text-anchor="middle" fill="#000" transform="rotate(-90 27.3 391.2)">Li, Si, O, H, P / wt.-%</text>
<text x="361.4" y="391" font-size="17" text-anchor="middle" fill="#000" transform="rotate(-90 361.4 391)">C / wt.-%</text>
<text x="146.4" y="535.8" font-size="17.4" text-anchor="start" fill="#000">Depth / µm</text>
<text x="0.3" y="292.8" font-size="29">c</text>
<text x="0" y="0" font-size="29" transform="translate(17.6 292.8) scale(1.06 1)">)</text>
<rect x="165.5" y="353.8" width="94.7" height="40.2" fill="#000"/>
<rect x="162.5" y="350.8" width="94.7" height="40.2" fill="#fff" stroke="#b8b8b8" stroke-width="0.8"/>
<line x1="163.3" y1="357.8" x2="187.8" y2="357.8" stroke="#111111" stroke-width="1.9"/>
<line x1="216.3" y1="357.8" x2="240.6" y2="357.8" stroke="#4272ad" stroke-width="1.9"/>
<line x1="163.3" y1="371" x2="187.8" y2="371" stroke="#a3a3a3" stroke-width="1.9"/>
<line x1="216.3" y1="371" x2="240.6" y2="371" stroke="#dd7f2a" stroke-width="1.9"/>
<line x1="163.3" y1="384.3" x2="187.8" y2="384.3" stroke="#ff1212" stroke-width="1.9"/>
<line x1="216.3" y1="384.3" x2="240.6" y2="384.3" stroke="#3fc472" stroke-width="1.9"/>
<text x="193.4" y="361.5" font-size="10.3" text-anchor="start" fill="#000">C</text>
<text x="245.5" y="361.5" font-size="10.3" text-anchor="start" fill="#000">Si</text>
<text x="193.4" y="374.7" font-size="10.3" text-anchor="start" fill="#000">Li</text>
<text x="245.5" y="374.7" font-size="10.3" text-anchor="start" fill="#000">P</text>
<text x="193.4" y="388" font-size="10.3" text-anchor="start" fill="#000">O</text>
<text x="245.5" y="388" font-size="10.3" text-anchor="start" fill="#000">H</text>
<defs>
<clipPath id="cd"><rect x="423.3" y="290" width="252.7" height="203.6"/></clipPath>
</defs>
<line x1="473.84" y1="290" x2="473.84" y2="493.6" stroke="#d9d9d9" stroke-width="0.9" stroke-dasharray="1,1.2"/>
<line x1="524.38" y1="290" x2="524.38" y2="493.6" stroke="#d9d9d9" stroke-width="0.9" stroke-dasharray="1,1.2"/>
<line x1="574.92" y1="290" x2="574.92" y2="493.6" stroke="#d9d9d9" stroke-width="0.9" stroke-dasharray="1,1.2"/>
<line x1="625.46" y1="290" x2="625.46" y2="493.6" stroke="#d9d9d9" stroke-width="0.9" stroke-dasharray="1,1.2"/>
<line x1="423.3" y1="442.7" x2="676" y2="442.7" stroke="#d9d9d9" stroke-width="0.9" stroke-dasharray="1,1.2"/>
<line x1="423.3" y1="391.8" x2="676" y2="391.8" stroke="#d9d9d9" stroke-width="0.9" stroke-dasharray="1,1.2"/>
<line x1="423.3" y1="340.9" x2="676" y2="340.9" stroke="#d9d9d9" stroke-width="0.9" stroke-dasharray="1,1.2"/>
<polyline points="423.3,483.91 423.47,483.98 423.64,484.06 423.81,484.13 423.98,484.21 424.15,484.29 424.32,484.39 424.49,484.51 424.66,484.61 424.83,484.72 425,484.84 425.17,484.97 425.34,485.09 425.5,485.19 425.67,485.28 425.84,485.34 426.01,485.39 426.18,485.45 426.35,485.52 426.52,485.6 426.69,485.71 426.86,485.83 427.03,485.97 427.2,486.11 427.37,486.23 427.54,486.34 427.71,486.44 427.88,486.54 428.05,486.66 428.22,486.79 428.39,486.94 428.56,487.09 428.73,487.22 428.9,487.32 429.07,487.41 429.24,487.49 429.41,487.6 429.58,487.73 429.74,487.88 429.91,488.04 430.08,488.18 430.25,488.32 430.42,488.44 430.59,488.54 430.76,488.63 430.93,488.71 431.1,488.8 431.27,488.9 431.44,489 431.61,489.09 431.78,489.14 431.95,489.16 432.12,489.14 432.29,489.13 432.46,489.15 432.63,489.22 432.8,489.31 432.97,489.4 433.14,489.48 433.31,489.55 433.48,489.59 433.65,489.64 433.82,489.68 433.98,489.72 434.15,489.77 434.32,489.82 434.49,489.85 434.66,489.9 434.83,489.95 435,490.02 435.17,490.08 435.34,490.14 435.51,490.19 435.68,490.22 435.85,490.22 436.02,490.25 436.19,490.29 436.36,490.32 436.53,490.36 436.7,490.39 436.87,490.4 437.04,490.42 437.21,490.42 437.38,490.42 437.55,490.41 437.72,490.41 437.89,490.43 438.05,490.47 438.22,490.55 438.39,490.62 438.56,490.66 438.73,490.67 438.9,490.66 439.07,490.65 439.24,490.66 439.41,490.69 439.58,490.71 439.75,490.7 439.92,490.67 440.09,490.64 440.26,490.61 440.43,490.6 440.6,490.62 440.77,490.64 440.94,490.67 441.11,490.7 441.28,490.74 441.45,490.78 441.62,490.83 441.79,490.88 441.96,490.9 442.13,490.89 442.29,490.86 442.46,490.82 442.63,490.79 442.8,490.79 442.97,490.82 443.14,490.88 443.31,490.94 443.48,491 443.65,491.03 443.82,491.04 443.99,491.01 444.16,490.98 444.33,490.94 444.5,490.91 444.67,490.88 444.84,490.84 445.01,490.82 445.18,490.8 445.35,490.79 445.52,490.8 445.69,490.84 445.86,490.89 446.03,490.94 446.2,490.96 446.37,490.96 446.53,490.94 446.7,490.92 446.87,490.91 447.04,490.93 447.21,490.93 447.38,490.94 447.55,490.96 447.72,490.99 447.89,491.05 448.06,491.09 448.23,491.14 448.4,491.15 448.57,491.13 449.33,491.14 450.28,491.16 451.22,491.2 452.17,491.24 453.12,491.25 454.07,491.25 455.02,491.24 455.97,491.24 456.92,491.28 457.86,491.34 458.81,491.41 459.76,491.44 460.71,491.45 461.66,491.44 462.61,491.4 463.55,491.34 464.5,491.32 465.45,491.33 466.4,491.38 467.35,491.43 468.3,491.49 469.24,491.52 470.19,491.51 471.14,491.48 472.09,491.43 473.04,491.38 473.99,491.33 474.94,491.29 475.88,491.3 476.83,491.33 477.78,491.38 478.73,491.42 479.68,491.46 480.63,491.48 481.57,491.47 482.52,491.46 483.47,491.46 484.42,491.45 485.37,491.46 486.32,491.46 487.26,491.46 488.21,491.49 489.16,491.53 490.11,491.59 491.06,491.64 492.01,491.67 492.96,491.7 493.9,491.71 494.85,491.69 495.8,491.64 496.75,491.61 497.7,491.58 498.65,491.56 499.59,491.55 500.54,491.52 501.49,491.48 502.44,491.43 503.39,491.41 504.34,491.42 505.28,491.46 506.23,491.53 507.18,491.6 508.13,491.64 509.08,491.65 510.03,491.61 510.98,491.55 511.92,491.5 512.87,491.47 513.82,491.48 514.77,491.53 515.72,491.59 516.67,491.68 517.61,491.75 518.56,491.81 519.51,491.84 520.46,491.86 521.41,491.86 522.36,491.84 523.3,491.83 524.25,491.83 525.2,491.8 526.15,491.78 527.1,491.77 528.05,491.75 529,491.75 529.94,491.73 530.89,491.71 531.84,491.7 532.79,491.71 533.74,491.75 534.69,491.8 535.63,491.84 536.58,491.87 537.53,491.88 538.48,491.9 539.43,491.92 540.38,491.93 541.32,491.93 542.27,491.91 543.22,491.87 544.17,491.83 545.12,491.77 546.07,491.72 547.02,491.67 547.96,491.65 548.91,491.66 549.86,491.7 550.81,491.75 551.76,491.78 552.71,491.8 553.65,491.81 554.6,491.83 555.55,491.85 556.5,491.88 557.45,491.9 558.4,491.88 559.34,491.86 560.29,491.83 561.24,491.81 562.19,491.8 563.14,491.82 564.09,491.84 565.04,491.89 565.98,491.91 566.93,491.94 567.88,491.94 568.83,491.92 569.78,491.92 570.73,491.93 571.67,491.96 572.62,492 573.57,492.02 574.52,492.03 575.47,492.01 576.42,492 577.36,492 578.31,492 579.26,492.02 580.21,492.03 581.16,492.04 582.11,492.04 583.06,492.02 584,492.02 584.95,492.01 585.9,492.01 586.85,491.99 587.8,491.98 588.75,491.98 589.69,491.98 590.64,491.98 591.59,491.97 592.54,491.93 593.49,491.89 594.44,491.85 595.38,491.85 596.33,491.89 597.28,491.98 598.23,492.08 599.18,492.17 600.13,492.21 601.07,492.23 602.02,492.23 602.97,492.22 603.92,492.2 604.87,492.15 605.82,492.06 606.77,491.96 607.71,491.87 608.66,491.82 609.61,491.81 610.56,491.84 611.51,491.92 612.46,492 613.4,492.07 614.35,492.12 615.3,492.15 616.25,492.15 617.2,492.13 618.15,492.11 619.09,492.08 620.04,492.05 620.99,492.02 621.94,491.96 622.89,491.91 623.84,491.85 624.79,491.83 625.73,491.83 626.68,491.88 627.63,491.97 628.58,492.06 629.53,492.15 630.48,492.22 631.42,492.26 632.37,492.27 633.32,492.27 634.27,492.25 635.22,492.22 636.17,492.19 637.11,492.19 638.06,492.19 639.01,492.18 639.96,492.17 640.91,492.14 641.86,492.1 642.81,492.07 643.75,492.05 644.7,492.04 645.65,492.06 646.6,492.08 647.55,492.11 648.5,492.15 649.44,492.21 650.39,492.27 651.34,492.3 652.29,492.27 653.24,492.18 654.19,492.07 655.13,492 656.08,491.98 657.03,492 657.98,492.05 658.93,492.08 659.88,492.09 660.83,492.06 661.77,492.04 662.72,492.02 663.67,492.02 664.62,492.05 665.57,492.08 666.52,492.11 667.46,492.1 668.41,492.05 669.36,492 670.31,491.95 671.26,491.92 672.21,491.92 673.15,491.93 674.1,491.97 675.05,491.99 676,492.01" fill="none" stroke="#3fc472" stroke-width="1.7" stroke-linejoin="round" clip-path="url(#cd)"/>
<polyline points="423.3,464 423.47,464.43 423.64,464.9 423.81,465.43 423.98,466 424.15,466.58 424.32,467.16 424.49,467.75 424.66,468.38 424.83,469.14 425,470 425.17,470.89 425.34,471.78 425.5,472.6 425.67,473.34 425.84,473.96 426.01,474.42 426.18,474.71 426.35,474.99 426.52,475.28 426.69,475.58 426.86,475.84 427.03,476.06 427.2,476.24 427.37,476.39 427.54,476.52 427.71,476.66 427.88,476.83 428.05,477 428.22,477.14 428.39,477.29 428.56,477.42 428.73,477.53 428.9,477.63 429.07,477.72 429.24,477.8 429.41,477.85 429.58,477.91 429.74,477.96 429.91,478.02 430.08,478.11 430.25,478.23 430.42,478.38 430.59,478.53 430.76,478.64 430.93,478.72 431.1,478.79 431.27,478.89 431.44,479.01 431.61,479.14 431.78,479.27 431.95,479.37 432.12,479.44 432.29,479.51 432.46,479.55 432.63,479.6 432.8,479.66 432.97,479.73 433.14,479.79 433.31,479.84 433.48,479.88 433.65,479.93 433.82,479.97 433.98,480.03 434.15,480.09 434.32,480.17 434.49,480.28 434.66,480.42 434.83,480.56 435,480.66 435.17,480.7 435.34,480.71 435.51,480.73 435.68,480.79 435.85,480.88 436.02,481 436.19,481.11 436.36,481.2 436.53,481.27 436.7,481.32 436.87,481.35 437.04,481.37 437.21,481.37 437.38,481.4 437.55,481.45 437.72,481.52 437.89,481.62 438.05,481.7 438.22,481.72 438.39,481.69 438.56,481.64 438.73,481.62 438.9,481.65 439.07,481.74 439.24,481.85 439.41,481.95 439.58,482.04 439.75,482.14 439.92,482.23 440.09,482.29 440.26,482.34 440.43,482.36 440.6,482.34 440.77,482.32 440.94,482.29 441.11,482.29 441.28,482.32 441.45,482.37 441.62,482.4 441.79,482.43 441.96,482.46 442.13,482.5 442.29,482.55 442.46,482.62 442.63,482.66 442.8,482.66 442.97,482.64 443.14,482.66 443.31,482.71 443.48,482.79 443.65,482.86 443.82,482.91 443.99,482.94 444.16,482.96 444.33,482.97 444.5,482.96 444.67,482.91 444.84,482.82 445.01,482.72 445.18,482.64 445.35,482.62 445.52,482.65 445.69,482.73 445.86,482.81 446.03,482.89 446.2,482.96 446.37,483.03 446.53,483.11 446.7,483.17 446.87,483.19 447.04,483.19 447.21,483.17 447.38,483.18 447.55,483.17 447.72,483.14 447.89,483.1 448.06,483.05 448.23,483.03 448.4,483.06 448.57,483.09 449.33,483.17 450.28,483.23 451.22,483.3 452.17,483.4 453.12,483.53 454.07,483.67 455.02,483.8 455.97,483.9 456.92,483.97 457.86,484.03 458.81,484.09 459.76,484.12 460.71,484.11 461.66,484.08 462.61,484.05 463.55,484.05 464.5,484.09 465.45,484.13 466.4,484.18 467.35,484.19 468.3,484.19 469.24,484.18 470.19,484.18 471.14,484.21 472.09,484.28 473.04,484.36 473.99,484.44 474.94,484.49 475.88,484.5 476.83,484.48 477.78,484.44 478.73,484.4 479.68,484.37 480.63,484.32 481.57,484.28 482.52,484.23 483.47,484.19 484.42,484.18 485.37,484.19 486.32,484.2 487.26,484.23 488.21,484.25 489.16,484.26 490.11,484.27 491.06,484.25 492.01,484.22 492.96,484.18 493.9,484.16 494.85,484.18 495.8,484.24 496.75,484.32 497.7,484.39 498.65,484.44 499.59,484.47 500.54,484.43 501.49,484.39 502.44,484.32 503.39,484.27 504.34,484.25 505.28,484.22 506.23,484.19 507.18,484.14 508.13,484.08 509.08,484.07 510.03,484.09 510.98,484.19 511.92,484.3 512.87,484.37 513.82,484.4 514.77,484.36 515.72,484.28 516.67,484.18 517.61,484.09 518.56,484.04 519.51,484.04 520.46,484.09 521.41,484.15 522.36,484.21 523.3,484.27 524.25,484.29 525.2,484.29 526.15,484.28 527.1,484.26 528.05,484.21 529,484.16 529.94,484.17 530.89,484.19 531.84,484.22 532.79,484.28 533.74,484.31 534.69,484.28 535.63,484.21 536.58,484.17 537.53,484.15 538.48,484.18 539.43,484.27 540.38,484.38 541.32,484.43 542.27,484.44 543.22,484.4 544.17,484.33 545.12,484.27 546.07,484.23 547.02,484.24 547.96,484.26 548.91,484.28 549.86,484.29 550.81,484.29 551.76,484.29 552.71,484.3 553.65,484.37 554.6,484.45 555.55,484.52 556.5,484.55 557.45,484.52 558.4,484.48 559.34,484.46 560.29,484.46 561.24,484.48 562.19,484.48 563.14,484.47 564.09,484.44 565.04,484.4 565.98,484.35 566.93,484.34 567.88,484.36 568.83,484.4 569.78,484.45 570.73,484.49 571.67,484.52 572.62,484.51 573.57,484.51 574.52,484.53 575.47,484.56 576.42,484.62 577.36,484.68 578.31,484.71 579.26,484.69 580.21,484.62 581.16,484.54 582.11,484.45 583.06,484.38 584,484.37 584.95,484.41 585.9,484.44 586.85,484.49 587.8,484.49 588.75,484.46 589.69,484.41 590.64,484.35 591.59,484.3 592.54,484.3 593.49,484.32 594.44,484.38 595.38,484.44 596.33,484.51 597.28,484.55 598.23,484.54 599.18,484.52 600.13,484.48 601.07,484.45 602.02,484.42 602.97,484.38 603.92,484.35 604.87,484.35 605.82,484.36 606.77,484.37 607.71,484.35 608.66,484.32 609.61,484.29 610.56,484.29 611.51,484.32 612.46,484.36 613.4,484.37 614.35,484.36 615.3,484.36 616.25,484.36 617.2,484.36 618.15,484.36 619.09,484.36 620.04,484.37 620.99,484.4 621.94,484.43 622.89,484.43 623.84,484.39 624.79,484.32 625.73,484.25 626.68,484.23 627.63,484.26 628.58,484.32 629.53,484.38 630.48,484.43 631.42,484.45 632.37,484.46 633.32,484.48 634.27,484.49 635.22,484.49 636.17,484.47 637.11,484.44 638.06,484.39 639.01,484.34 639.96,484.31 640.91,484.32 641.86,484.36 642.81,484.4 643.75,484.43 644.7,484.45 645.65,484.46 646.6,484.47 647.55,484.46 648.5,484.43 649.44,484.39 650.39,484.36 651.34,484.37 652.29,484.39 653.24,484.42 654.19,484.42 655.13,484.39 656.08,484.35 657.03,484.34 657.98,484.38 658.93,484.45 659.88,484.57 660.83,484.69 661.77,484.78 662.72,484.82 663.67,484.79 664.62,484.74 665.57,484.66 666.52,484.56 667.46,484.47 668.41,484.4 669.36,484.34 670.31,484.33 671.26,484.35 672.21,484.39 673.15,484.43 674.1,484.45 675.05,484.44 676,484.37" fill="none" stroke="#dd7f2a" stroke-width="1.7" stroke-linejoin="round" clip-path="url(#cd)"/>
<polyline points="423.3,371.44 423.47,373.85 423.64,376.22 423.81,378.52 423.98,380.75 424.15,382.9 424.32,384.95 424.49,386.89 424.66,388.73 424.83,390.49 425,392.21 425.17,393.87 425.34,395.48 425.5,397.05 425.67,398.56 425.84,400.04 426.01,401.48 426.18,402.87 426.35,404.24 426.52,405.57 426.69,406.87 426.86,408.16 427.03,409.44 427.2,410.7 427.37,411.93 427.54,413.15 427.71,414.33 427.88,415.49 428.05,416.62 428.22,417.71 428.39,418.76 428.56,419.77 428.73,420.73 428.9,421.65 429.07,422.52 429.24,423.34 429.41,424.13 429.58,424.88 429.74,425.61 429.91,426.31 430.08,426.99 430.25,427.65 430.42,428.28 430.59,428.91 430.76,429.51 430.93,430.11 431.1,430.69 431.27,431.28 431.44,431.85 431.61,432.43 431.78,433 431.95,433.58 432.12,434.16 432.29,434.75 432.46,435.35 432.63,435.97 432.8,436.6 432.97,437.25 433.14,437.92 433.31,438.61 433.48,439.32 433.65,440.04 433.82,440.77 433.98,441.51 434.15,442.25 434.32,442.98 434.49,443.71 434.66,444.43 434.83,445.14 435,445.83 435.17,446.5 435.34,447.14 435.51,447.75 435.68,448.33 435.85,448.87 436.02,449.37 436.19,449.83 436.36,450.26 436.53,450.68 436.7,451.09 436.87,451.49 437.04,451.88 437.21,452.27 437.38,452.64 437.55,453 437.72,453.35 437.89,453.69 438.05,454.02 438.22,454.34 438.39,454.65 438.56,454.94 438.73,455.23 438.9,455.5 439.07,455.76 439.24,456.01 439.41,456.25 439.58,456.47 439.75,456.69 439.92,456.89 440.09,457.08 440.26,457.26 440.43,457.44 440.6,457.62 440.77,457.8 440.94,457.97 441.11,458.14 441.28,458.31 441.45,458.47 441.62,458.63 441.79,458.79 441.96,458.94 442.13,459.09 442.29,459.24 442.46,459.39 442.63,459.53 442.8,459.67 442.97,459.81 443.14,459.95 443.31,460.08 443.48,460.21 443.65,460.34 443.82,460.47 443.99,460.6 444.16,460.72 444.33,460.84 444.5,460.96 444.67,461.07 444.84,461.19 445.01,461.3 445.18,461.41 445.35,461.52 445.52,461.63 445.69,461.73 445.86,461.84 446.03,461.94 446.2,462.04 446.37,462.14 446.53,462.24 446.7,462.33 446.87,462.43 447.04,462.52 447.21,462.61 447.38,462.71 447.55,462.8 447.72,462.89 447.89,462.97 448.06,463.06 448.23,463.15 448.4,463.23 448.57,463.32 449.33,463.69 450.28,464.14 451.22,464.57 452.17,464.98 453.12,465.37 454.07,465.73 455.02,466.07 455.97,466.39 456.92,466.68 457.86,466.95 458.81,467.19 459.76,467.41 460.71,467.61 461.66,467.8 462.61,467.98 463.55,468.16 464.5,468.32 465.45,468.48 466.4,468.63 467.35,468.77 468.3,468.91 469.24,469.03 470.19,469.15 471.14,469.27 472.09,469.37 473.04,469.47 473.99,469.57 474.94,469.65 475.88,469.74 476.83,469.82 477.78,469.9 478.73,469.97 479.68,470.04 480.63,470.11 481.57,470.17 482.52,470.23 483.47,470.29 484.42,470.35 485.37,470.4 486.32,470.46 487.26,470.51 488.21,470.55 489.16,470.6 490.11,470.65 491.06,470.69 492.01,470.73 492.96,470.77 493.9,470.81 494.85,470.85 495.8,470.89 496.75,470.93 497.7,470.97 498.65,471 499.59,471.04 500.54,471.07 501.49,471.1 502.44,471.14 503.39,471.17 504.34,471.2 505.28,471.23 506.23,471.26 507.18,471.29 508.13,471.32 509.08,471.35 510.03,471.38 510.98,471.41 511.92,471.44 512.87,471.47 513.82,471.5 514.77,471.52 515.72,471.55 516.67,471.58 517.61,471.61 518.56,471.64 519.51,471.66 520.46,471.69 521.41,471.72 522.36,471.75 523.3,471.77 524.25,471.8 525.2,471.82 526.15,471.85 527.1,471.87 528.05,471.9 529,471.92 529.94,471.95 530.89,471.97 531.84,472 532.79,472.02 533.74,472.05 534.69,472.07 535.63,472.09 536.58,472.12 537.53,472.14 538.48,472.16 539.43,472.19 540.38,472.21 541.32,472.23 542.27,472.25 543.22,472.28 544.17,472.3 545.12,472.32 546.07,472.34 547.02,472.37 547.96,472.39 548.91,472.41 549.86,472.43 550.81,472.45 551.76,472.47 552.71,472.49 553.65,472.52 554.6,472.54 555.55,472.56 556.5,472.58 557.45,472.6 558.4,472.62 559.34,472.64 560.29,472.66 561.24,472.68 562.19,472.7 563.14,472.72 564.09,472.74 565.04,472.76 565.98,472.78 566.93,472.8 567.88,472.82 568.83,472.84 569.78,472.86 570.73,472.88 571.67,472.9 572.62,472.91 573.57,472.93 574.52,472.95 575.47,472.97 576.42,472.99 577.36,473.01 578.31,473.03 579.26,473.05 580.21,473.06 581.16,473.08 582.11,473.1 583.06,473.12 584,473.14 584.95,473.16 585.9,473.17 586.85,473.19 587.8,473.21 588.75,473.23 589.69,473.25 590.64,473.26 591.59,473.28 592.54,473.3 593.49,473.32 594.44,473.34 595.38,473.35 596.33,473.37 597.28,473.39 598.23,473.41 599.18,473.42 600.13,473.44 601.07,473.46 602.02,473.48 602.97,473.5 603.92,473.51 604.87,473.53 605.82,473.55 606.77,473.57 607.71,473.58 608.66,473.6 609.61,473.62 610.56,473.64 611.51,473.65 612.46,473.67 613.4,473.69 614.35,473.71 615.3,473.72 616.25,473.74 617.2,473.76 618.15,473.78 619.09,473.79 620.04,473.81 620.99,473.83 621.94,473.85 622.89,473.86 623.84,473.88 624.79,473.9 625.73,473.91 626.68,473.93 627.63,473.95 628.58,473.96 629.53,473.98 630.48,474 631.42,474.02 632.37,474.03 633.32,474.05 634.27,474.07 635.22,474.08 636.17,474.1 637.11,474.12 638.06,474.13 639.01,474.15 639.96,474.17 640.91,474.18 641.86,474.2 642.81,474.22 643.75,474.23 644.7,474.25 645.65,474.26 646.6,474.28 647.55,474.3 648.5,474.31 649.44,474.33 650.39,474.35 651.34,474.36 652.29,474.38 653.24,474.39 654.19,474.41 655.13,474.43 656.08,474.44 657.03,474.46 657.98,474.47 658.93,474.49 659.88,474.51 660.83,474.52 661.77,474.54 662.72,474.55 663.67,474.57 664.62,474.58 665.57,474.6 666.52,474.61 667.46,474.63 668.41,474.65 669.36,474.66 670.31,474.68 671.26,474.69 672.21,474.71 673.15,474.72 674.1,474.74 675.05,474.75 676,474.77" fill="none" stroke="#a3a3a3" stroke-width="1.7" stroke-linejoin="round" clip-path="url(#cd)"/>
<polyline points="423.3,463.98 423.47,464.08 423.64,464.2 423.81,464.35 423.98,464.57 424.15,464.81 424.32,465.04 424.49,465.29 424.66,465.55 424.83,465.77 425,466.01 425.17,466.23 425.34,466.39 425.5,466.51 425.67,466.63 425.84,466.78 426.01,466.99 426.18,467.28 426.35,467.6 426.52,467.92 426.69,468.24 426.86,468.56 427.03,468.81 427.2,469 427.37,469.1 427.54,469.16 427.71,469.21 427.88,469.32 428.05,469.45 428.22,469.54 428.39,469.55 428.56,469.52 428.73,469.5 428.9,469.52 429.07,469.62 429.24,469.75 429.41,469.84 429.58,469.87 429.74,469.83 429.91,469.75 430.08,469.63 430.25,469.5 430.42,469.4 430.59,469.28 430.76,469.2 430.93,469.19 431.1,469.2 431.27,469.19 431.44,469.14 431.61,469.08 431.78,469.01 431.95,468.94 432.12,468.95 432.29,469.01 432.46,469.12 432.63,469.22 432.8,469.29 432.97,469.24 433.14,469.1 433.31,468.88 433.48,468.67 433.65,468.54 433.82,468.56 433.98,468.7 434.15,468.82 434.32,468.87 434.49,468.81 434.66,468.59 434.83,468.29 435,467.96 435.17,467.68 435.34,467.49 435.51,467.44 435.68,467.48 435.85,467.53 436.02,467.55 436.19,467.54 436.36,467.48 436.53,467.45 436.7,467.46 436.87,467.46 437.04,467.41 437.21,467.26 437.38,467.05 437.55,466.8 437.72,466.6 437.89,466.45 438.05,466.39 438.22,466.35 438.39,466.37 438.56,466.41 438.73,466.44 438.9,466.45 439.07,466.4 439.24,466.29 439.41,466.14 439.58,465.98 439.75,465.9 439.92,465.85 440.09,465.81 440.26,465.74 440.43,465.6 440.6,465.47 440.77,465.37 440.94,465.36 441.11,465.42 441.28,465.47 441.45,465.5 441.62,465.5 441.79,465.46 441.96,465.42 442.13,465.4 442.29,465.42 442.46,465.45 442.63,465.47 442.8,465.49 442.97,465.48 443.14,465.44 443.31,465.37 443.48,465.21 443.65,465.04 443.82,464.9 443.99,464.84 444.16,464.84 444.33,464.92 444.5,465.03 444.67,465.1 444.84,465.07 445.01,464.97 445.18,464.81 445.35,464.63 445.52,464.47 445.69,464.39 445.86,464.38 446.03,464.43 446.2,464.49 446.37,464.54 446.53,464.55 446.7,464.51 446.87,464.43 447.04,464.31 447.21,464.2 447.38,464.08 447.55,464.04 447.72,464.08 447.89,464.18 448.06,464.29 448.23,464.35 448.4,464.35 448.57,464.29 449.33,464.12 450.28,463.9 451.22,463.68 452.17,463.51 453.12,463.39 454.07,463.33 455.02,463.34 455.97,463.38 456.92,463.4 457.86,463.38 458.81,463.35 459.76,463.27 460.71,463.15 461.66,463.03 462.61,462.93 463.55,462.87 464.5,462.89 465.45,462.95 466.4,463 467.35,462.99 468.3,462.94 469.24,462.84 470.19,462.73 471.14,462.63 472.09,462.61 473.04,462.62 473.99,462.68 474.94,462.77 475.88,462.88 476.83,462.96 477.78,463.04 478.73,463.08 479.68,463.06 480.63,462.98 481.57,462.89 482.52,462.83 483.47,462.78 484.42,462.72 485.37,462.68 486.32,462.62 487.26,462.61 488.21,462.62 489.16,462.69 490.11,462.76 491.06,462.82 492.01,462.87 492.96,462.88 493.9,462.84 494.85,462.77 495.8,462.66 496.75,462.57 497.7,462.47 498.65,462.41 499.59,462.44 500.54,462.54 501.49,462.69 502.44,462.84 503.39,462.9 504.34,462.87 505.28,462.74 506.23,462.58 507.18,462.46 508.13,462.37 509.08,462.33 510.03,462.31 510.98,462.3 511.92,462.32 512.87,462.32 513.82,462.3 514.77,462.26 515.72,462.22 516.67,462.22 517.61,462.24 518.56,462.3 519.51,462.32 520.46,462.3 521.41,462.28 522.36,462.27 523.3,462.3 524.25,462.37 525.2,462.44 526.15,462.46 527.1,462.43 528.05,462.4 529,462.39 529.94,462.41 530.89,462.45 531.84,462.48 532.79,462.5 533.74,462.51 534.69,462.55 535.63,462.61 536.58,462.66 537.53,462.67 538.48,462.64 539.43,462.54 540.38,462.45 541.32,462.39 542.27,462.42 543.22,462.49 544.17,462.59 545.12,462.7 546.07,462.79 547.02,462.85 547.96,462.86 548.91,462.77 549.86,462.65 550.81,462.54 551.76,462.48 552.71,462.49 553.65,462.55 554.6,462.63 555.55,462.65 556.5,462.62 557.45,462.52 558.4,462.42 559.34,462.31 560.29,462.26 561.24,462.27 562.19,462.3 563.14,462.35 564.09,462.38 565.04,462.39 565.98,462.43 566.93,462.51 567.88,462.58 568.83,462.62 569.78,462.61 570.73,462.59 571.67,462.56 572.62,462.57 573.57,462.64 574.52,462.71 575.47,462.72 576.42,462.69 577.36,462.6 578.31,462.52 579.26,462.53 580.21,462.62 581.16,462.75 582.11,462.83 583.06,462.83 584,462.75 584.95,462.65 585.9,462.57 586.85,462.55 587.8,462.6 588.75,462.69 589.69,462.83 590.64,462.97 591.59,463.09 592.54,463.13 593.49,463.12 594.44,463.08 595.38,462.99 596.33,462.91 597.28,462.85 598.23,462.82 599.18,462.85 600.13,462.91 601.07,462.96 602.02,462.95 602.97,462.85 603.92,462.71 604.87,462.59 605.82,462.51 606.77,462.49 607.71,462.49 608.66,462.5 609.61,462.47 610.56,462.45 611.51,462.47 612.46,462.57 613.4,462.72 614.35,462.9 615.3,463.03 616.25,463.11 617.2,463.1 618.15,463.03 619.09,462.95 620.04,462.88 620.99,462.83 621.94,462.83 622.89,462.86 623.84,462.91 624.79,462.95 625.73,462.99 626.68,463 627.63,463.01 628.58,463.02 629.53,462.99 630.48,462.93 631.42,462.87 632.37,462.85 633.32,462.89 634.27,462.99 635.22,463.15 636.17,463.28 637.11,463.34 638.06,463.31 639.01,463.22 639.96,463.12 640.91,463.07 641.86,463.06 642.81,463.13 643.75,463.18 644.7,463.2 645.65,463.23 646.6,463.28 647.55,463.37 648.5,463.47 649.44,463.6 650.39,463.7 651.34,463.73 652.29,463.7 653.24,463.58 654.19,463.45 655.13,463.35 656.08,463.32 657.03,463.36 657.98,463.41 658.93,463.5 659.88,463.6 660.83,463.71 661.77,463.82 662.72,463.91 663.67,463.91 664.62,463.84 665.57,463.74 666.52,463.63 667.46,463.57 668.41,463.53 669.36,463.49 670.31,463.45 671.26,463.41 672.21,463.42 673.15,463.48 674.1,463.57 675.05,463.64 676,463.65" fill="none" stroke="#4272ad" stroke-width="1.7" stroke-linejoin="round" clip-path="url(#cd)"/>
<polyline points="423.3,86.95 423.47,98.38 423.64,109.46 423.81,120.21 423.98,130.56 424.15,140.64 424.32,150.56 424.49,160.31 424.66,169.81 424.83,179.12 425,188.17 425.17,197.01 425.34,205.72 425.5,214.24 425.67,222.39 425.84,230.05 426.01,237.08 426.18,243.64 426.35,249.97 426.52,256.24 426.69,262.51 426.86,268.68 427.03,274.81 427.2,280.92 427.37,287.1 427.54,293.46 427.71,299.99 427.88,306.78 428.05,313.57 428.22,320.16 428.39,326.38 428.56,332.01 428.73,336.85 428.9,340.7 429.07,343.93 429.24,346.91 429.41,349.64 429.58,352.17 429.74,354.54 429.91,356.81 430.08,358.93 430.25,360.92 430.42,362.78 430.59,364.64 430.76,366.51 430.93,368.47 431.1,370.47 431.27,372.44 431.44,374.28 431.61,375.94 431.78,377.47 431.95,378.94 432.12,380.42 432.29,381.88 432.46,383.23 432.63,384.46 432.8,385.58 432.97,386.64 433.14,387.63 433.31,388.53 433.48,389.35 433.65,390.14 433.82,391 433.98,392.01 434.15,393.1 434.32,394.23 434.49,395.26 434.66,396.17 434.83,396.97 435,397.82 435.17,398.77 435.34,399.85 435.51,400.92 435.68,401.94 435.85,402.8 436.02,403.61 436.19,404.36 436.36,405.17 436.53,406 436.7,406.86 436.87,407.68 437.04,408.53 437.21,409.39 437.38,410.26 437.55,411.13 437.72,412.04 437.89,412.9 438.05,413.71 438.22,414.51 438.39,415.23 438.56,415.76 438.73,416.08 438.9,416.21 439.07,416.34 439.24,416.54 439.41,416.92 439.58,417.53 439.75,418.29 439.92,419.03 440.09,419.67 440.26,420.15 440.43,420.51 440.6,420.74 440.77,421.03 440.94,421.48 441.11,421.98 441.28,422.43 441.45,422.69 441.62,422.8 441.79,422.82 441.96,422.84 442.13,422.98 442.29,423.27 442.46,423.61 442.63,424.01 442.8,424.44 442.97,424.87 443.14,425.21 443.31,425.43 443.48,425.48 443.65,425.42 443.82,425.33 443.99,425.37 444.16,425.55 444.33,425.76 444.5,426.06 444.67,426.24 444.84,426.41 445.01,426.51 445.18,426.63 445.35,426.75 445.52,426.86 445.69,426.98 445.86,427.14 446.03,427.28 446.2,427.52 446.37,427.84 446.53,428.18 446.7,428.44 446.87,428.67 447.04,428.83 447.21,428.89 447.38,428.99 447.55,429.13 447.72,429.3 447.89,429.4 448.06,429.49 448.23,429.51 448.4,429.41 448.57,429.31 449.33,429.58 450.28,430 451.22,430.47 452.17,431.04 453.12,431.69 454.07,432.41 455.02,433.19 455.97,433.95 456.92,434.65 457.86,435.14 458.81,435.45 459.76,435.63 460.71,435.67 461.66,435.78 462.61,436.06 463.55,436.47 464.5,436.99 465.45,437.57 466.4,438.12 467.35,438.53 468.3,438.82 469.24,439.15 470.19,439.56 471.14,440.06 472.09,440.67 473.04,441.15 473.99,441.36 474.94,441.32 475.88,441.14 476.83,441.04 477.78,440.97 478.73,440.96 479.68,441.02 480.63,441.14 481.57,441.41 482.52,441.84 483.47,442.31 484.42,442.72 485.37,442.93 486.32,443.02 487.26,442.95 488.21,442.8 489.16,442.65 490.11,442.49 491.06,442.42 492.01,442.5 492.96,442.76 493.9,443.12 494.85,443.5 495.8,443.75 496.75,443.81 497.7,443.68 498.65,443.48 499.59,443.21 500.54,442.95 501.49,442.81 502.44,442.86 503.39,442.96 504.34,443.17 505.28,443.39 506.23,443.68 507.18,443.98 508.13,444.29 509.08,444.59 510.03,444.81 510.98,445.02 511.92,445.27 512.87,445.42 513.82,445.45 514.77,445.34 515.72,445.19 516.67,445.04 517.61,444.92 518.56,444.95 519.51,445.05 520.46,445.17 521.41,445.29 522.36,445.32 523.3,445.2 524.25,444.93 525.2,444.59 526.15,444.28 527.1,444.07 528.05,444.09 529,444.29 529.94,444.54 530.89,444.8 531.84,444.98 532.79,445.16 533.74,445.32 534.69,445.53 535.63,445.63 536.58,445.59 537.53,445.38 538.48,445.07 539.43,444.84 540.38,444.78 541.32,444.89 542.27,445.19 543.22,445.55 544.17,445.91 545.12,446.25 546.07,446.49 547.02,446.66 547.96,446.81 548.91,446.93 549.86,447.07 550.81,447.18 551.76,447.33 552.71,447.54 553.65,447.66 554.6,447.72 555.55,447.69 556.5,447.69 557.45,447.8 558.4,447.99 559.34,448.18 560.29,448.32 561.24,448.25 562.19,448.06 563.14,447.77 564.09,447.54 565.04,447.36 565.98,447.23 566.93,447.04 567.88,446.94 568.83,446.74 569.78,446.53 570.73,446.34 571.67,446.25 572.62,446.31 573.57,446.45 574.52,446.61 575.47,446.74 576.42,446.77 577.36,446.95 578.31,447.24 579.26,447.55 580.21,447.97 581.16,448.28 582.11,448.49 583.06,448.54 584,448.54 584.95,448.65 585.9,448.78 586.85,449.01 587.8,449.23 588.75,449.25 589.69,449.16 590.64,448.93 591.59,448.7 592.54,448.51 593.49,448.38 594.44,448.37 595.38,448.38 596.33,448.43 597.28,448.56 598.23,448.66 599.18,448.88 600.13,449.1 601.07,449.31 602.02,449.47 602.97,449.56 603.92,449.47 604.87,449.26 605.82,449.02 606.77,448.89 607.71,448.89 608.66,449.2 609.61,449.67 610.56,450.12 611.51,450.32 612.46,450.3 613.4,450.1 614.35,449.84 615.3,449.72 616.25,449.75 617.2,449.78 618.15,449.79 619.09,449.73 620.04,449.7 620.99,449.71 621.94,449.92 622.89,450.2 623.84,450.3 624.79,450.19 625.73,450 626.68,449.73 627.63,449.6 628.58,449.63 629.53,449.84 630.48,449.92 631.42,449.86 632.37,449.81 633.32,449.77 634.27,449.85 635.22,450.13 636.17,450.51 637.11,450.78 638.06,450.79 639.01,450.67 639.96,450.5 640.91,450.46 641.86,450.6 642.81,450.82 643.75,451.05 644.7,451.2 645.65,451.17 646.6,451.03 647.55,450.84 648.5,450.8 649.44,450.87 650.39,451.06 651.34,451.3 652.29,451.52 653.24,451.63 654.19,451.66 655.13,451.63 656.08,451.58 657.03,451.51 657.98,451.51 658.93,451.55 659.88,451.62 660.83,451.72 661.77,451.85 662.72,451.94 663.67,452.01 664.62,452.09 665.57,452.05 666.52,452.01 667.46,451.92 668.41,451.9 669.36,451.9 670.31,452.03 671.26,452.13 672.21,452.27 673.15,452.39 674.1,452.53 675.05,452.58 676,452.65" fill="none" stroke="#ff1212" stroke-width="1.7" stroke-linejoin="round" clip-path="url(#cd)"/>
<polyline points="423.3,465.2 423.47,464.25 423.64,463.2 423.81,462.06 423.98,460.85 424.15,459.58 424.32,458.24 424.49,456.83 424.66,455.36 424.83,453.81 425,452.18 425.17,450.48 425.34,448.72 425.5,446.79 425.67,444.67 425.84,442.41 426.01,440.02 426.18,437.55 426.35,435.01 426.52,432.4 426.69,429.74 426.86,427.07 427.03,424.44 427.2,421.88 427.37,419.44 427.54,416.97 427.71,414.45 427.88,411.92 428.05,409.41 428.22,406.97 428.39,404.63 428.56,402.45 428.73,400.48 428.9,398.77 429.07,397.21 429.24,395.73 429.41,394.32 429.58,392.98 429.74,391.69 429.91,390.47 430.08,389.32 430.25,388.21 430.42,387.14 430.59,386.09 430.76,385.07 430.93,384.04 431.1,383.01 431.27,381.99 431.44,380.96 431.61,379.94 431.78,378.95 431.95,377.99 432.12,377.07 432.29,376.18 432.46,375.33 432.63,374.51 432.8,373.71 432.97,372.94 433.14,372.19 433.31,371.46 433.48,370.73 433.65,370 433.82,369.27 433.98,368.56 434.15,367.88 434.32,367.23 434.49,366.57 434.66,365.9 434.83,365.24 435,364.59 435.17,363.97 435.34,363.4 435.51,362.86 435.68,362.34 435.85,361.81 436.02,361.29 436.19,360.79 436.36,360.32 436.53,359.87 436.7,359.44 436.87,359.04 437.04,358.66 437.21,358.3 437.38,357.95 437.55,357.6 437.72,357.26 437.89,356.91 438.05,356.57 438.22,356.23 438.39,355.88 438.56,355.55 438.73,355.22 438.9,354.9 439.07,354.6 439.24,354.31 439.41,354.03 439.58,353.75 439.75,353.48 439.92,353.21 440.09,352.94 440.26,352.67 440.43,352.39 440.6,352.11 440.77,351.85 440.94,351.6 441.11,351.33 441.28,351.05 441.45,350.77 441.62,350.49 441.79,350.22 441.96,349.94 442.13,349.68 442.29,349.41 442.46,349.15 442.63,348.91 442.8,348.69 442.97,348.49 443.14,348.28 443.31,348.08 443.48,347.86 443.65,347.63 443.82,347.42 443.99,347.23 444.16,347.06 444.33,346.91 444.5,346.76 444.67,346.61 444.84,346.43 445.01,346.25 445.18,346.06 445.35,345.9 445.52,345.76 445.69,345.63 445.86,345.51 446.03,345.4 446.2,345.28 446.37,345.17 446.53,345.06 446.7,344.96 446.87,344.86 447.04,344.76 447.21,344.65 447.38,344.53 447.55,344.39 447.72,344.26 447.89,344.13 448.06,344.03 448.23,343.96 448.4,343.89 448.57,343.8 449.33,343.43 450.28,343 451.22,342.62 452.17,342.28 453.12,341.99 454.07,341.76 455.02,341.56 455.97,341.4 456.92,341.25 457.86,341.1 458.81,340.94 459.76,340.78 460.71,340.61 461.66,340.52 462.61,340.1 463.55,339.68 464.5,339.32 465.45,339.12 466.4,339.07 467.35,339.11 468.3,339.19 469.24,339.29 470.19,339.35 471.14,339.35 472.09,339.2 473.04,338.93 473.99,338.62 474.94,338.36 475.88,338.23 476.83,338.19 477.78,338.22 478.73,338.3 479.68,338.27 480.63,338.18 481.57,337.97 482.52,337.7 483.47,337.46 484.42,337.24 485.37,337.12 486.32,337.07 487.26,337.14 488.21,337.3 489.16,337.46 490.11,337.6 491.06,337.66 492.01,337.55 492.96,337.29 493.9,336.97 494.85,336.73 495.8,336.53 496.75,336.42 497.7,336.35 498.65,336.33 499.59,336.31 500.54,336.34 501.49,336.42 502.44,336.48 503.39,336.44 504.34,336.36 505.28,336.28 506.23,336.27 507.18,336.29 508.13,336.37 509.08,336.45 510.03,336.55 510.98,336.63 511.92,336.67 512.87,336.6 513.82,336.39 514.77,336.04 515.72,335.61 516.67,335.25 517.61,335.03 518.56,334.91 519.51,334.84 520.46,334.78 521.41,334.7 522.36,334.62 523.3,334.57 524.25,334.65 525.2,334.78 526.15,334.94 527.1,335.13 528.05,335.2 529,335.18 529.94,335.02 530.89,334.79 531.84,334.51 532.79,334.2 533.74,333.98 534.69,333.86 535.63,333.78 536.58,333.84 537.53,333.89 538.48,333.95 539.43,333.97 540.38,333.99 541.32,334.09 542.27,334.2 543.22,334.39 544.17,334.56 545.12,334.57 546.07,334.51 547.02,334.37 547.96,334.18 548.91,333.99 549.86,333.86 550.81,333.88 551.76,333.92 552.71,333.97 553.65,333.95 554.6,333.79 555.55,333.6 556.5,333.47 557.45,333.49 558.4,333.69 559.34,333.87 560.29,333.99 561.24,333.98 562.19,333.86 563.14,333.66 564.09,333.46 565.04,333.34 565.98,333.27 566.93,333.2 567.88,333.18 568.83,333.07 569.78,332.93 570.73,332.78 571.67,332.67 572.62,332.67 573.57,332.78 574.52,332.92 575.47,333.02 576.42,333.04 577.36,333 578.31,332.9 579.26,332.78 580.21,332.65 581.16,332.56 582.11,332.56 583.06,332.69 584,332.89 584.95,333.07 585.9,333.16 586.85,333.14 587.8,333.12 588.75,333.15 589.69,333.24 590.64,333.32 591.59,333.36 592.54,333.29 593.49,333.14 594.44,332.96 595.38,332.8 596.33,332.62 597.28,332.45 598.23,332.29 599.18,332.16 600.13,332.1 601.07,332.14 602.02,332.22 602.97,332.33 603.92,332.42 604.87,332.41 605.82,332.29 606.77,332.2 607.71,332.16 608.66,332.17 609.61,332.31 610.56,332.45 611.51,332.47 612.46,332.41 613.4,332.32 614.35,332.29 615.3,332.25 616.25,332.23 617.2,332.22 618.15,332.12 619.09,332 620.04,331.87 620.99,331.77 621.94,331.64 622.89,331.52 623.84,331.46 624.79,331.47 625.73,331.53 626.68,331.59 627.63,331.66 628.58,331.64 629.53,331.62 630.48,331.62 631.42,331.55 632.37,331.46 633.32,331.33 634.27,331.22 635.22,331.23 636.17,331.32 637.11,331.45 638.06,331.5 639.01,331.44 639.96,331.28 640.91,331.06 641.86,330.9 642.81,330.86 643.75,330.9 644.7,330.98 645.65,330.97 646.6,330.79 647.55,330.52 648.5,330.26 649.44,330.12 650.39,330.14 651.34,330.34 652.29,330.58 653.24,330.79 654.19,330.94 655.13,331.01 656.08,330.98 657.03,330.82 657.98,330.63 658.93,330.39 659.88,330.13 660.83,330.01 661.77,329.96 662.72,330.01 663.67,330.07 664.62,330.19 665.57,330.31 666.52,330.35 667.46,330.31 668.41,330.18 669.36,329.94 670.31,329.72 671.26,329.68 672.21,329.81 673.15,330 674.1,330.18 675.05,330.18 676,330.05" fill="none" stroke="#111111" stroke-width="1.7" stroke-linejoin="round" clip-path="url(#cd)"/>
<rect x="423.3" y="290" width="252.7" height="203.6" fill="none" stroke="#111" stroke-width="1.7"/>
<line x1="423.3" y1="493.6" x2="423.3" y2="497.6" stroke="#111" stroke-width="1.3"/>
<line x1="473.84" y1="493.6" x2="473.84" y2="497.6" stroke="#111" stroke-width="1.3"/>
<line x1="524.38" y1="493.6" x2="524.38" y2="497.6" stroke="#111" stroke-width="1.3"/>
<line x1="574.92" y1="493.6" x2="574.92" y2="497.6" stroke="#111" stroke-width="1.3"/>
<line x1="625.46" y1="493.6" x2="625.46" y2="497.6" stroke="#111" stroke-width="1.3"/>
<line x1="676" y1="493.6" x2="676" y2="497.6" stroke="#111" stroke-width="1.3"/>
<line x1="448.57" y1="493.6" x2="448.57" y2="495.8" stroke="#111" stroke-width="1.3"/>
<line x1="499.11" y1="493.6" x2="499.11" y2="495.8" stroke="#111" stroke-width="1.3"/>
<line x1="549.65" y1="493.6" x2="549.65" y2="495.8" stroke="#111" stroke-width="1.3"/>
<line x1="600.19" y1="493.6" x2="600.19" y2="495.8" stroke="#111" stroke-width="1.3"/>
<line x1="650.73" y1="493.6" x2="650.73" y2="495.8" stroke="#111" stroke-width="1.3"/>
<text x="423.3" y="511.8" font-size="12.5" text-anchor="middle" fill="#000">0</text>
<text x="473.84" y="511.8" font-size="12.5" text-anchor="middle" fill="#000">2</text>
<text x="524.38" y="511.8" font-size="12.5" text-anchor="middle" fill="#000">4</text>
<text x="574.92" y="511.8" font-size="12.5" text-anchor="middle" fill="#000">6</text>
<text x="625.46" y="511.8" font-size="12.5" text-anchor="middle" fill="#000">8</text>
<text x="676" y="511.8" font-size="12.5" text-anchor="middle" fill="#000">10</text>
<line x1="419.3" y1="493.6" x2="423.3" y2="493.6" stroke="#111" stroke-width="1.3"/>
<line x1="419.3" y1="442.7" x2="423.3" y2="442.7" stroke="#111" stroke-width="1.3"/>
<line x1="419.3" y1="391.8" x2="423.3" y2="391.8" stroke="#111" stroke-width="1.3"/>
<line x1="419.3" y1="340.9" x2="423.3" y2="340.9" stroke="#111" stroke-width="1.3"/>
<line x1="419.3" y1="290" x2="423.3" y2="290" stroke="#111" stroke-width="1.3"/>
<line x1="421.1" y1="468.15" x2="423.3" y2="468.15" stroke="#111" stroke-width="1.3"/>
<line x1="421.1" y1="417.25" x2="423.3" y2="417.25" stroke="#111" stroke-width="1.3"/>
<line x1="421.1" y1="366.35" x2="423.3" y2="366.35" stroke="#111" stroke-width="1.3"/>
<line x1="421.1" y1="315.45" x2="423.3" y2="315.45" stroke="#111" stroke-width="1.3"/>
<text x="416.5" y="497.1" font-size="12.5" text-anchor="end" fill="#000">0</text>
<text x="416.5" y="446.2" font-size="12.5" text-anchor="end" fill="#000">5</text>
<text x="416.5" y="395.3" font-size="12.5" text-anchor="end" fill="#000">10</text>
<text x="416.5" y="344.4" font-size="12.5" text-anchor="end" fill="#000">15</text>
<text x="416.5" y="293.5" font-size="12.5" text-anchor="end" fill="#000">20</text>
<line x1="672" y1="493.6" x2="676" y2="493.6" stroke="#111" stroke-width="1.3"/>
<line x1="672" y1="452.88" x2="676" y2="452.88" stroke="#111" stroke-width="1.3"/>
<line x1="672" y1="412.16" x2="676" y2="412.16" stroke="#111" stroke-width="1.3"/>
<line x1="672" y1="371.44" x2="676" y2="371.44" stroke="#111" stroke-width="1.3"/>
<line x1="672" y1="330.72" x2="676" y2="330.72" stroke="#111" stroke-width="1.3"/>
<line x1="672" y1="290" x2="676" y2="290" stroke="#111" stroke-width="1.3"/>
<line x1="673.8" y1="473.24" x2="676" y2="473.24" stroke="#111" stroke-width="1.3"/>
<line x1="673.8" y1="432.52" x2="676" y2="432.52" stroke="#111" stroke-width="1.3"/>
<line x1="673.8" y1="391.8" x2="676" y2="391.8" stroke="#111" stroke-width="1.3"/>
<line x1="673.8" y1="351.08" x2="676" y2="351.08" stroke="#111" stroke-width="1.3"/>
<line x1="673.8" y1="310.36" x2="676" y2="310.36" stroke="#111" stroke-width="1.3"/>
<text x="680.4" y="497.6" font-size="12.5" text-anchor="start" fill="#000">50</text>
<text x="680.4" y="456.88" font-size="12.5" text-anchor="start" fill="#000">60</text>
<text x="680.4" y="416.16" font-size="12.5" text-anchor="start" fill="#000">70</text>
<text x="680.4" y="375.44" font-size="12.5" text-anchor="start" fill="#000">80</text>
<text x="680.4" y="334.72" font-size="12.5" text-anchor="start" fill="#000">90</text>
<text x="680.4" y="294" font-size="12.5" text-anchor="start" fill="#000">100</text>
<text x="387.6" y="391.3" font-size="17.3" text-anchor="middle" fill="#000" transform="rotate(-90 387.6 391.3)">Li, Si, O, H, P / wt.-%</text>
<text x="721.4" y="391.5" font-size="17" text-anchor="middle" fill="#000" transform="rotate(-90 721.4 391.5)">C / wt.-%</text>
<text x="506.7" y="536" font-size="17.4" text-anchor="start" fill="#000">Depth / µm</text>
<text x="360.4" y="292.8" font-size="29">d</text>
<text x="0" y="0" font-size="29" transform="translate(379.6 292.8) scale(1.06 1)">)</text>
<rect x="525.5" y="352.5" width="94.7" height="40.5" fill="#000"/>
<rect x="522.5" y="349.5" width="94.7" height="40.5" fill="#fff" stroke="#b8b8b8" stroke-width="0.8"/>
<line x1="524.1" y1="356.9" x2="548.1" y2="356.9" stroke="#111111" stroke-width="1.9"/>
<line x1="576.3" y1="356.9" x2="601.1" y2="356.9" stroke="#4272ad" stroke-width="1.9"/>
<line x1="524.1" y1="369.8" x2="548.1" y2="369.8" stroke="#a3a3a3" stroke-width="1.9"/>
<line x1="576.3" y1="369.8" x2="601.1" y2="369.8" stroke="#dd7f2a" stroke-width="1.9"/>
<line x1="524.1" y1="383.1" x2="548.1" y2="383.1" stroke="#ff1212" stroke-width="1.9"/>
<line x1="576.3" y1="383.1" x2="601.1" y2="383.1" stroke="#3fc472" stroke-width="1.9"/>
<text x="553.6" y="360.6" font-size="10.3" text-anchor="start" fill="#000">C</text>
<text x="605.9" y="360.6" font-size="10.3" text-anchor="start" fill="#000">Si</text>
<text x="553.6" y="373.5" font-size="10.3" text-anchor="start" fill="#000">Li</text>
<text x="605.9" y="373.5" font-size="10.3" text-anchor="start" fill="#000">P</text>
<text x="553.6" y="386.8" font-size="10.3" text-anchor="start" fill="#000">O</text>
<text x="605.9" y="386.8" font-size="10.3" text-anchor="start" fill="#000">H</text>
</svg>
</body></html>
